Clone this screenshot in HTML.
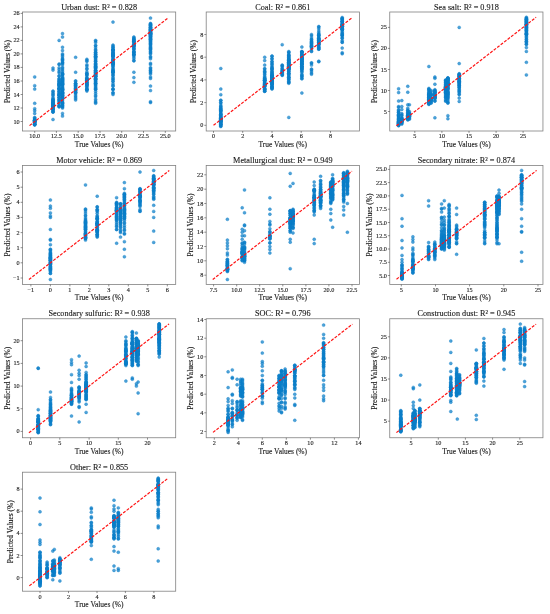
<!DOCTYPE html>
<html><head><meta charset="utf-8"><title>Predicted vs True</title>
<style>
html,body{margin:0;padding:0;background:#fff}
svg{display:block}
text{font-family:"Liberation Serif","DejaVu Serif",serif;fill:#1a1a1a}
text{stroke:#1a1a1a;stroke-width:.12px}
.t{font-size:8.1px;text-anchor:middle}
.l{font-size:7.2px;text-anchor:middle}
.k{font-size:6.2px;stroke-width:.12px}
.p circle{fill:#0a7ec8;fill-opacity:.72;stroke:#0a7ec8;stroke-opacity:.72;stroke-width:.5}
.s{fill:none;stroke:#808080;stroke-width:.8}
.tk{stroke:#444;stroke-width:.6}
.d{stroke:#ff1414;stroke-width:1.2;stroke-dasharray:3 1.4;fill:none}
</style></head><body>
<svg width="550" height="614" viewBox="0 0 550 614">
<rect width="550" height="614" fill="#fff"/>
<g>
<g class="p"><circle cx="34.7" cy="124.9" r="1.5"/><circle cx="34.7" cy="117.5" r="1.5"/><circle cx="34.7" cy="124.7" r="1.5"/><circle cx="34.7" cy="124.1" r="1.5"/><circle cx="34.7" cy="122.9" r="1.5"/><circle cx="34.7" cy="122.6" r="1.5"/><circle cx="34.7" cy="121.5" r="1.5"/><circle cx="34.7" cy="120.9" r="1.5"/><circle cx="34.7" cy="120.4" r="1.5"/><circle cx="34.7" cy="119.3" r="1.5"/><circle cx="34.7" cy="118.9" r="1.5"/><circle cx="34.7" cy="117.9" r="1.5"/><circle cx="34.7" cy="120.9" r="1.5"/><circle cx="34.7" cy="121.2" r="1.5"/><circle cx="34.7" cy="124.2" r="1.5"/><circle cx="34.7" cy="120.2" r="1.5"/><circle cx="34.7" cy="120.7" r="1.5"/><circle cx="34.7" cy="120.7" r="1.5"/><circle cx="34.7" cy="124.3" r="1.5"/><circle cx="34.7" cy="124.4" r="1.5"/><circle cx="34.7" cy="123" r="1.5"/><circle cx="34.7" cy="122.3" r="1.5"/><circle cx="34.7" cy="121" r="1.5"/><circle cx="34.7" cy="121.6" r="1.5"/><circle cx="34.7" cy="120.7" r="1.5"/><circle cx="34.7" cy="113.4" r="1.5"/><circle cx="34.7" cy="110.7" r="1.5"/><circle cx="34.7" cy="108.7" r="1.5"/><circle cx="34.7" cy="103.3" r="1.5"/><circle cx="34.7" cy="89.1" r="1.5"/><circle cx="34.7" cy="85.7" r="1.5"/><circle cx="34.7" cy="76.9" r="1.5"/><circle cx="53" cy="112.1" r="1.5"/><circle cx="53" cy="91.1" r="1.5"/><circle cx="53" cy="111.9" r="1.5"/><circle cx="53" cy="110.6" r="1.5"/><circle cx="53" cy="109" r="1.5"/><circle cx="53" cy="107.1" r="1.5"/><circle cx="53" cy="106.6" r="1.5"/><circle cx="53" cy="104.8" r="1.5"/><circle cx="53" cy="103.4" r="1.5"/><circle cx="53" cy="102.4" r="1.5"/><circle cx="53" cy="100.9" r="1.5"/><circle cx="53" cy="100.2" r="1.5"/><circle cx="53" cy="98.9" r="1.5"/><circle cx="53" cy="97.4" r="1.5"/><circle cx="53" cy="95.5" r="1.5"/><circle cx="53" cy="94.5" r="1.5"/><circle cx="53" cy="93.3" r="1.5"/><circle cx="53" cy="91.7" r="1.5"/><circle cx="53" cy="108.7" r="1.5"/><circle cx="53" cy="109.5" r="1.5"/><circle cx="53" cy="104.7" r="1.5"/><circle cx="53" cy="103.8" r="1.5"/><circle cx="53" cy="105.6" r="1.5"/><circle cx="53" cy="99.8" r="1.5"/><circle cx="53" cy="107.2" r="1.5"/><circle cx="53" cy="106.3" r="1.5"/><circle cx="53" cy="109.5" r="1.5"/><circle cx="53" cy="103.5" r="1.5"/><circle cx="53" cy="106.1" r="1.5"/><circle cx="53" cy="102" r="1.5"/><circle cx="53" cy="102.7" r="1.5"/><circle cx="53" cy="101.5" r="1.5"/><circle cx="53" cy="99.2" r="1.5"/><circle cx="53" cy="104.1" r="1.5"/><circle cx="53" cy="105.2" r="1.5"/><circle cx="53" cy="111.7" r="1.5"/><circle cx="53" cy="103" r="1.5"/><circle cx="53" cy="108.6" r="1.5"/><circle cx="53" cy="119.5" r="1.5"/><circle cx="53" cy="70.1" r="1.5"/><circle cx="53" cy="68.1" r="1.5"/><circle cx="59.1" cy="106.7" r="1.5"/><circle cx="59.1" cy="64.1" r="1.5"/><circle cx="59.1" cy="105.3" r="1.5"/><circle cx="59.1" cy="103.6" r="1.5"/><circle cx="59.1" cy="101.7" r="1.5"/><circle cx="59.1" cy="100" r="1.5"/><circle cx="59.1" cy="97.3" r="1.5"/><circle cx="59.1" cy="95.1" r="1.5"/><circle cx="59.1" cy="94.1" r="1.5"/><circle cx="59.1" cy="91.8" r="1.5"/><circle cx="59.1" cy="91.1" r="1.5"/><circle cx="59.1" cy="87.9" r="1.5"/><circle cx="59.1" cy="86" r="1.5"/><circle cx="59.1" cy="83.4" r="1.5"/><circle cx="59.1" cy="81.8" r="1.5"/><circle cx="59.1" cy="80.9" r="1.5"/><circle cx="59.1" cy="78.8" r="1.5"/><circle cx="59.1" cy="76.3" r="1.5"/><circle cx="59.1" cy="75.6" r="1.5"/><circle cx="59.1" cy="72.8" r="1.5"/><circle cx="59.1" cy="71.5" r="1.5"/><circle cx="59.1" cy="69.6" r="1.5"/><circle cx="59.1" cy="67.8" r="1.5"/><circle cx="59.1" cy="64.5" r="1.5"/><circle cx="59.1" cy="89.1" r="1.5"/><circle cx="59.1" cy="88.8" r="1.5"/><circle cx="59.1" cy="82" r="1.5"/><circle cx="59.1" cy="85" r="1.5"/><circle cx="59.1" cy="89" r="1.5"/><circle cx="59.1" cy="99.7" r="1.5"/><circle cx="59.1" cy="86.1" r="1.5"/><circle cx="59.1" cy="95.6" r="1.5"/><circle cx="59.1" cy="84.4" r="1.5"/><circle cx="59.1" cy="106" r="1.5"/><circle cx="59.1" cy="79" r="1.5"/><circle cx="59.1" cy="88.8" r="1.5"/><circle cx="59.1" cy="95.3" r="1.5"/><circle cx="59.1" cy="90.9" r="1.5"/><circle cx="59.1" cy="87.9" r="1.5"/><circle cx="59.1" cy="92.8" r="1.5"/><circle cx="59.1" cy="83.3" r="1.5"/><circle cx="59.1" cy="100" r="1.5"/><circle cx="59.1" cy="97.7" r="1.5"/><circle cx="59.1" cy="84.2" r="1.5"/><circle cx="59.1" cy="93.6" r="1.5"/><circle cx="59.1" cy="102" r="1.5"/><circle cx="59.1" cy="85.1" r="1.5"/><circle cx="59.1" cy="80.3" r="1.5"/><circle cx="59.1" cy="98" r="1.5"/><circle cx="59.1" cy="106.7" r="1.5"/><circle cx="59.1" cy="95.1" r="1.5"/><circle cx="59.1" cy="40.4" r="1.5"/><circle cx="62.5" cy="108" r="1.5"/><circle cx="62.5" cy="53.9" r="1.5"/><circle cx="62.5" cy="107" r="1.5"/><circle cx="62.5" cy="106.4" r="1.5"/><circle cx="62.5" cy="103.7" r="1.5"/><circle cx="62.5" cy="102.3" r="1.5"/><circle cx="62.5" cy="100.7" r="1.5"/><circle cx="62.5" cy="99.3" r="1.5"/><circle cx="62.5" cy="98.4" r="1.5"/><circle cx="62.5" cy="96.9" r="1.5"/><circle cx="62.5" cy="95.8" r="1.5"/><circle cx="62.5" cy="93.5" r="1.5"/><circle cx="62.5" cy="92.9" r="1.5"/><circle cx="62.5" cy="91.4" r="1.5"/><circle cx="62.5" cy="89.7" r="1.5"/><circle cx="62.5" cy="88.2" r="1.5"/><circle cx="62.5" cy="86.5" r="1.5"/><circle cx="62.5" cy="85.4" r="1.5"/><circle cx="62.5" cy="84" r="1.5"/><circle cx="62.5" cy="82.2" r="1.5"/><circle cx="62.5" cy="80.8" r="1.5"/><circle cx="62.5" cy="78.9" r="1.5"/><circle cx="62.5" cy="77.9" r="1.5"/><circle cx="62.5" cy="75.1" r="1.5"/><circle cx="62.5" cy="74" r="1.5"/><circle cx="62.5" cy="73.2" r="1.5"/><circle cx="62.5" cy="71.6" r="1.5"/><circle cx="62.5" cy="69.9" r="1.5"/><circle cx="62.5" cy="68.4" r="1.5"/><circle cx="62.5" cy="67.3" r="1.5"/><circle cx="62.5" cy="64.7" r="1.5"/><circle cx="62.5" cy="62.9" r="1.5"/><circle cx="62.5" cy="62.2" r="1.5"/><circle cx="62.5" cy="60.7" r="1.5"/><circle cx="62.5" cy="59.8" r="1.5"/><circle cx="62.5" cy="58.3" r="1.5"/><circle cx="62.5" cy="56.4" r="1.5"/><circle cx="62.5" cy="55" r="1.5"/><circle cx="62.5" cy="88.5" r="1.5"/><circle cx="62.5" cy="97.9" r="1.5"/><circle cx="62.5" cy="63.2" r="1.5"/><circle cx="62.5" cy="87.6" r="1.5"/><circle cx="62.5" cy="98.3" r="1.5"/><circle cx="62.5" cy="93" r="1.5"/><circle cx="62.5" cy="94.4" r="1.5"/><circle cx="62.5" cy="92.5" r="1.5"/><circle cx="62.5" cy="97.5" r="1.5"/><circle cx="62.5" cy="79.9" r="1.5"/><circle cx="62.5" cy="105.5" r="1.5"/><circle cx="62.5" cy="92.6" r="1.5"/><circle cx="62.5" cy="80.6" r="1.5"/><circle cx="62.5" cy="81.7" r="1.5"/><circle cx="62.5" cy="74.3" r="1.5"/><circle cx="62.5" cy="95.9" r="1.5"/><circle cx="62.5" cy="95.8" r="1.5"/><circle cx="62.5" cy="84.5" r="1.5"/><circle cx="62.5" cy="78.9" r="1.5"/><circle cx="62.5" cy="79" r="1.5"/><circle cx="62.5" cy="83.8" r="1.5"/><circle cx="62.5" cy="89.7" r="1.5"/><circle cx="62.5" cy="77.7" r="1.5"/><circle cx="62.5" cy="93.5" r="1.5"/><circle cx="62.5" cy="89.5" r="1.5"/><circle cx="62.5" cy="82.4" r="1.5"/><circle cx="62.5" cy="90.1" r="1.5"/><circle cx="62.5" cy="92.8" r="1.5"/><circle cx="62.5" cy="73.8" r="1.5"/><circle cx="62.5" cy="79.5" r="1.5"/><circle cx="62.5" cy="95.2" r="1.5"/><circle cx="62.5" cy="59.5" r="1.5"/><circle cx="62.5" cy="105.3" r="1.5"/><circle cx="62.5" cy="81" r="1.5"/><circle cx="62.5" cy="94.9" r="1.5"/><circle cx="62.5" cy="90.2" r="1.5"/><circle cx="62.5" cy="83.5" r="1.5"/><circle cx="62.5" cy="89.2" r="1.5"/><circle cx="62.5" cy="84.3" r="1.5"/><circle cx="62.5" cy="84.6" r="1.5"/><circle cx="62.5" cy="103.1" r="1.5"/><circle cx="62.5" cy="103.9" r="1.5"/><circle cx="62.5" cy="76.9" r="1.5"/><circle cx="62.5" cy="83" r="1.5"/><circle cx="62.5" cy="74.5" r="1.5"/><circle cx="62.5" cy="102.8" r="1.5"/><circle cx="62.5" cy="116.1" r="1.5"/><circle cx="62.5" cy="113.4" r="1.5"/><circle cx="62.5" cy="47.2" r="1.5"/><circle cx="62.5" cy="37" r="1.5"/><circle cx="62.5" cy="33.6" r="1.5"/><circle cx="62.5" cy="50.5" r="1.5"/><circle cx="75.6" cy="99.9" r="1.5"/><circle cx="75.6" cy="81" r="1.5"/><circle cx="75.6" cy="98.5" r="1.5"/><circle cx="75.6" cy="97.1" r="1.5"/><circle cx="75.6" cy="95.8" r="1.5"/><circle cx="75.6" cy="92.7" r="1.5"/><circle cx="75.6" cy="91.7" r="1.5"/><circle cx="75.6" cy="88.9" r="1.5"/><circle cx="75.6" cy="86.7" r="1.5"/><circle cx="75.6" cy="85.9" r="1.5"/><circle cx="75.6" cy="84" r="1.5"/><circle cx="75.6" cy="81.1" r="1.5"/><circle cx="75.6" cy="90.2" r="1.5"/><circle cx="75.6" cy="92.2" r="1.5"/><circle cx="75.6" cy="88.1" r="1.5"/><circle cx="75.6" cy="88.1" r="1.5"/><circle cx="75.6" cy="83.6" r="1.5"/><circle cx="75.6" cy="94" r="1.5"/><circle cx="75.6" cy="85.1" r="1.5"/><circle cx="75.6" cy="83.6" r="1.5"/><circle cx="75.6" cy="83.8" r="1.5"/><circle cx="75.6" cy="90.5" r="1.5"/><circle cx="75.6" cy="92.8" r="1.5"/><circle cx="75.6" cy="85.6" r="1.5"/><circle cx="75.6" cy="89.3" r="1.5"/><circle cx="75.6" cy="72.2" r="1.5"/><circle cx="75.6" cy="57.3" r="1.5"/><circle cx="86.9" cy="91.1" r="1.5"/><circle cx="86.9" cy="59.3" r="1.5"/><circle cx="86.9" cy="89.3" r="1.5"/><circle cx="86.9" cy="88" r="1.5"/><circle cx="86.9" cy="86.4" r="1.5"/><circle cx="86.9" cy="83.8" r="1.5"/><circle cx="86.9" cy="82.8" r="1.5"/><circle cx="86.9" cy="80.1" r="1.5"/><circle cx="86.9" cy="78.3" r="1.5"/><circle cx="86.9" cy="77.6" r="1.5"/><circle cx="86.9" cy="75.7" r="1.5"/><circle cx="86.9" cy="73.7" r="1.5"/><circle cx="86.9" cy="72" r="1.5"/><circle cx="86.9" cy="69.4" r="1.5"/><circle cx="86.9" cy="68.2" r="1.5"/><circle cx="86.9" cy="66" r="1.5"/><circle cx="86.9" cy="64.7" r="1.5"/><circle cx="86.9" cy="61.4" r="1.5"/><circle cx="86.9" cy="60.5" r="1.5"/><circle cx="86.9" cy="80.1" r="1.5"/><circle cx="86.9" cy="89.8" r="1.5"/><circle cx="86.9" cy="78.6" r="1.5"/><circle cx="86.9" cy="75" r="1.5"/><circle cx="86.9" cy="85" r="1.5"/><circle cx="86.9" cy="73.9" r="1.5"/><circle cx="86.9" cy="85" r="1.5"/><circle cx="86.9" cy="89.2" r="1.5"/><circle cx="86.9" cy="82.6" r="1.5"/><circle cx="86.9" cy="73.6" r="1.5"/><circle cx="86.9" cy="80.1" r="1.5"/><circle cx="86.9" cy="80.7" r="1.5"/><circle cx="86.9" cy="80.4" r="1.5"/><circle cx="86.9" cy="79.7" r="1.5"/><circle cx="86.9" cy="85" r="1.5"/><circle cx="86.9" cy="79.1" r="1.5"/><circle cx="86.9" cy="86.7" r="1.5"/><circle cx="86.9" cy="83.1" r="1.5"/><circle cx="86.9" cy="89.7" r="1.5"/><circle cx="86.9" cy="82" r="1.5"/><circle cx="86.9" cy="80.3" r="1.5"/><circle cx="86.9" cy="84.2" r="1.5"/><circle cx="95.6" cy="103.3" r="1.5"/><circle cx="95.6" cy="40.4" r="1.5"/><circle cx="95.6" cy="102.3" r="1.5"/><circle cx="95.6" cy="101.1" r="1.5"/><circle cx="95.6" cy="99.3" r="1.5"/><circle cx="95.6" cy="96.7" r="1.5"/><circle cx="95.6" cy="95.4" r="1.5"/><circle cx="95.6" cy="93.6" r="1.5"/><circle cx="95.6" cy="91.5" r="1.5"/><circle cx="95.6" cy="89.5" r="1.5"/><circle cx="95.6" cy="88.5" r="1.5"/><circle cx="95.6" cy="86.5" r="1.5"/><circle cx="95.6" cy="84.9" r="1.5"/><circle cx="95.6" cy="83.2" r="1.5"/><circle cx="95.6" cy="81.1" r="1.5"/><circle cx="95.6" cy="79.8" r="1.5"/><circle cx="95.6" cy="77.9" r="1.5"/><circle cx="95.6" cy="76.2" r="1.5"/><circle cx="95.6" cy="73.7" r="1.5"/><circle cx="95.6" cy="72.4" r="1.5"/><circle cx="95.6" cy="70.3" r="1.5"/><circle cx="95.6" cy="68.4" r="1.5"/><circle cx="95.6" cy="67.9" r="1.5"/><circle cx="95.6" cy="65.6" r="1.5"/><circle cx="95.6" cy="63.2" r="1.5"/><circle cx="95.6" cy="61.6" r="1.5"/><circle cx="95.6" cy="61.1" r="1.5"/><circle cx="95.6" cy="59.4" r="1.5"/><circle cx="95.6" cy="57.1" r="1.5"/><circle cx="95.6" cy="56" r="1.5"/><circle cx="95.6" cy="54" r="1.5"/><circle cx="95.6" cy="52.5" r="1.5"/><circle cx="95.6" cy="49.7" r="1.5"/><circle cx="95.6" cy="47.8" r="1.5"/><circle cx="95.6" cy="45.8" r="1.5"/><circle cx="95.6" cy="45.4" r="1.5"/><circle cx="95.6" cy="42.6" r="1.5"/><circle cx="95.6" cy="41" r="1.5"/><circle cx="95.6" cy="56.6" r="1.5"/><circle cx="95.6" cy="52.1" r="1.5"/><circle cx="95.6" cy="64.8" r="1.5"/><circle cx="95.6" cy="76.2" r="1.5"/><circle cx="95.6" cy="61" r="1.5"/><circle cx="95.6" cy="78.3" r="1.5"/><circle cx="95.6" cy="70.9" r="1.5"/><circle cx="95.6" cy="70.2" r="1.5"/><circle cx="95.6" cy="81.3" r="1.5"/><circle cx="95.6" cy="89.2" r="1.5"/><circle cx="95.6" cy="67.3" r="1.5"/><circle cx="95.6" cy="79" r="1.5"/><circle cx="95.6" cy="66.6" r="1.5"/><circle cx="95.6" cy="83.3" r="1.5"/><circle cx="95.6" cy="54.3" r="1.5"/><circle cx="95.6" cy="57" r="1.5"/><circle cx="95.6" cy="72.1" r="1.5"/><circle cx="95.6" cy="76.6" r="1.5"/><circle cx="95.6" cy="73.3" r="1.5"/><circle cx="95.6" cy="83.6" r="1.5"/><circle cx="95.6" cy="57.5" r="1.5"/><circle cx="95.6" cy="79.2" r="1.5"/><circle cx="95.6" cy="74.6" r="1.5"/><circle cx="95.6" cy="50.2" r="1.5"/><circle cx="95.6" cy="76.5" r="1.5"/><circle cx="95.6" cy="67.9" r="1.5"/><circle cx="95.6" cy="75.3" r="1.5"/><circle cx="95.6" cy="74.6" r="1.5"/><circle cx="95.6" cy="70.3" r="1.5"/><circle cx="95.6" cy="72.2" r="1.5"/><circle cx="95.6" cy="84.9" r="1.5"/><circle cx="95.6" cy="64.4" r="1.5"/><circle cx="95.6" cy="63.8" r="1.5"/><circle cx="95.6" cy="52.7" r="1.5"/><circle cx="95.6" cy="87.6" r="1.5"/><circle cx="95.6" cy="74.6" r="1.5"/><circle cx="95.6" cy="66.4" r="1.5"/><circle cx="95.6" cy="58.7" r="1.5"/><circle cx="95.6" cy="82.8" r="1.5"/><circle cx="95.6" cy="76" r="1.5"/><circle cx="95.6" cy="79.8" r="1.5"/><circle cx="95.6" cy="54.7" r="1.5"/><circle cx="95.6" cy="66.8" r="1.5"/><circle cx="95.6" cy="78.9" r="1.5"/><circle cx="95.6" cy="71.8" r="1.5"/><circle cx="95.6" cy="56.2" r="1.5"/><circle cx="113" cy="94.5" r="1.5"/><circle cx="113" cy="45.1" r="1.5"/><circle cx="113" cy="93.1" r="1.5"/><circle cx="113" cy="92.6" r="1.5"/><circle cx="113" cy="89.6" r="1.5"/><circle cx="113" cy="89.3" r="1.5"/><circle cx="113" cy="86.2" r="1.5"/><circle cx="113" cy="85.2" r="1.5"/><circle cx="113" cy="83.7" r="1.5"/><circle cx="113" cy="81.6" r="1.5"/><circle cx="113" cy="79.3" r="1.5"/><circle cx="113" cy="78.7" r="1.5"/><circle cx="113" cy="77.2" r="1.5"/><circle cx="113" cy="74.9" r="1.5"/><circle cx="113" cy="73.7" r="1.5"/><circle cx="113" cy="72.2" r="1.5"/><circle cx="113" cy="70.4" r="1.5"/><circle cx="113" cy="68.9" r="1.5"/><circle cx="113" cy="66.9" r="1.5"/><circle cx="113" cy="65" r="1.5"/><circle cx="113" cy="63.3" r="1.5"/><circle cx="113" cy="60.9" r="1.5"/><circle cx="113" cy="60" r="1.5"/><circle cx="113" cy="57.9" r="1.5"/><circle cx="113" cy="56.7" r="1.5"/><circle cx="113" cy="54.8" r="1.5"/><circle cx="113" cy="53.6" r="1.5"/><circle cx="113" cy="51.5" r="1.5"/><circle cx="113" cy="50.2" r="1.5"/><circle cx="113" cy="47.3" r="1.5"/><circle cx="113" cy="45.9" r="1.5"/><circle cx="113" cy="66.4" r="1.5"/><circle cx="113" cy="56.2" r="1.5"/><circle cx="113" cy="49.4" r="1.5"/><circle cx="113" cy="56" r="1.5"/><circle cx="113" cy="62.7" r="1.5"/><circle cx="113" cy="55.9" r="1.5"/><circle cx="113" cy="71" r="1.5"/><circle cx="113" cy="81" r="1.5"/><circle cx="113" cy="60" r="1.5"/><circle cx="113" cy="70.7" r="1.5"/><circle cx="113" cy="52.7" r="1.5"/><circle cx="113" cy="72.3" r="1.5"/><circle cx="113" cy="88.9" r="1.5"/><circle cx="113" cy="71.8" r="1.5"/><circle cx="113" cy="64.8" r="1.5"/><circle cx="113" cy="75.4" r="1.5"/><circle cx="113" cy="68.9" r="1.5"/><circle cx="113" cy="55.1" r="1.5"/><circle cx="113" cy="55.4" r="1.5"/><circle cx="113" cy="58.8" r="1.5"/><circle cx="113" cy="53.1" r="1.5"/><circle cx="113" cy="60.9" r="1.5"/><circle cx="113" cy="54.3" r="1.5"/><circle cx="113" cy="50.3" r="1.5"/><circle cx="113" cy="49.7" r="1.5"/><circle cx="113" cy="72.3" r="1.5"/><circle cx="113" cy="62.3" r="1.5"/><circle cx="113" cy="52.9" r="1.5"/><circle cx="113" cy="63.9" r="1.5"/><circle cx="113" cy="49.2" r="1.5"/><circle cx="113" cy="54.3" r="1.5"/><circle cx="113" cy="50.9" r="1.5"/><circle cx="113" cy="63" r="1.5"/><circle cx="113" cy="47.4" r="1.5"/><circle cx="113" cy="63" r="1.5"/><circle cx="113" cy="59.7" r="1.5"/><circle cx="113" cy="64.4" r="1.5"/><circle cx="113" cy="22.1" r="1.5"/><circle cx="133.9" cy="60.7" r="1.5"/><circle cx="133.9" cy="37" r="1.5"/><circle cx="133.9" cy="60.7" r="1.5"/><circle cx="133.9" cy="58.6" r="1.5"/><circle cx="133.9" cy="57" r="1.5"/><circle cx="133.9" cy="55.5" r="1.5"/><circle cx="133.9" cy="54.5" r="1.5"/><circle cx="133.9" cy="52.5" r="1.5"/><circle cx="133.9" cy="51.8" r="1.5"/><circle cx="133.9" cy="49.9" r="1.5"/><circle cx="133.9" cy="48.7" r="1.5"/><circle cx="133.9" cy="46.8" r="1.5"/><circle cx="133.9" cy="45.8" r="1.5"/><circle cx="133.9" cy="44.4" r="1.5"/><circle cx="133.9" cy="42.5" r="1.5"/><circle cx="133.9" cy="41.1" r="1.5"/><circle cx="133.9" cy="39.1" r="1.5"/><circle cx="133.9" cy="37.7" r="1.5"/><circle cx="133.9" cy="40" r="1.5"/><circle cx="133.9" cy="44.4" r="1.5"/><circle cx="133.9" cy="52" r="1.5"/><circle cx="133.9" cy="46.7" r="1.5"/><circle cx="133.9" cy="54.8" r="1.5"/><circle cx="133.9" cy="48" r="1.5"/><circle cx="133.9" cy="41.5" r="1.5"/><circle cx="133.9" cy="41.5" r="1.5"/><circle cx="133.9" cy="44.7" r="1.5"/><circle cx="133.9" cy="45.6" r="1.5"/><circle cx="133.9" cy="51.7" r="1.5"/><circle cx="133.9" cy="41.8" r="1.5"/><circle cx="133.9" cy="38.8" r="1.5"/><circle cx="133.9" cy="49" r="1.5"/><circle cx="133.9" cy="45.4" r="1.5"/><circle cx="133.9" cy="53.8" r="1.5"/><circle cx="133.9" cy="40.4" r="1.5"/><circle cx="133.9" cy="39.6" r="1.5"/><circle cx="133.9" cy="54.2" r="1.5"/><circle cx="133.9" cy="44.7" r="1.5"/><circle cx="133.9" cy="82.3" r="1.5"/><circle cx="133.9" cy="77.6" r="1.5"/><circle cx="133.9" cy="72.2" r="1.5"/><circle cx="150.5" cy="53.9" r="1.5"/><circle cx="150.5" cy="23.5" r="1.5"/><circle cx="150.5" cy="53.1" r="1.5"/><circle cx="150.5" cy="52" r="1.5"/><circle cx="150.5" cy="51.2" r="1.5"/><circle cx="150.5" cy="49.8" r="1.5"/><circle cx="150.5" cy="49" r="1.5"/><circle cx="150.5" cy="47.9" r="1.5"/><circle cx="150.5" cy="47.4" r="1.5"/><circle cx="150.5" cy="46.5" r="1.5"/><circle cx="150.5" cy="45.4" r="1.5"/><circle cx="150.5" cy="44.1" r="1.5"/><circle cx="150.5" cy="43.3" r="1.5"/><circle cx="150.5" cy="41.5" r="1.5"/><circle cx="150.5" cy="40.7" r="1.5"/><circle cx="150.5" cy="39.6" r="1.5"/><circle cx="150.5" cy="38.6" r="1.5"/><circle cx="150.5" cy="37.5" r="1.5"/><circle cx="150.5" cy="36.6" r="1.5"/><circle cx="150.5" cy="36.1" r="1.5"/><circle cx="150.5" cy="34.2" r="1.5"/><circle cx="150.5" cy="33.2" r="1.5"/><circle cx="150.5" cy="32.4" r="1.5"/><circle cx="150.5" cy="31.3" r="1.5"/><circle cx="150.5" cy="30.1" r="1.5"/><circle cx="150.5" cy="29.7" r="1.5"/><circle cx="150.5" cy="28" r="1.5"/><circle cx="150.5" cy="27.4" r="1.5"/><circle cx="150.5" cy="26.6" r="1.5"/><circle cx="150.5" cy="25.3" r="1.5"/><circle cx="150.5" cy="23.8" r="1.5"/><circle cx="150.5" cy="29.6" r="1.5"/><circle cx="150.5" cy="25" r="1.5"/><circle cx="150.5" cy="33.8" r="1.5"/><circle cx="150.5" cy="38.2" r="1.5"/><circle cx="150.5" cy="27.5" r="1.5"/><circle cx="150.5" cy="37.2" r="1.5"/><circle cx="150.5" cy="42.9" r="1.5"/><circle cx="150.5" cy="39.7" r="1.5"/><circle cx="150.5" cy="39" r="1.5"/><circle cx="150.5" cy="29.3" r="1.5"/><circle cx="150.5" cy="30.9" r="1.5"/><circle cx="150.5" cy="32.9" r="1.5"/><circle cx="150.5" cy="35.5" r="1.5"/><circle cx="150.5" cy="24.6" r="1.5"/><circle cx="150.5" cy="30.3" r="1.5"/><circle cx="150.5" cy="32.4" r="1.5"/><circle cx="150.5" cy="33.8" r="1.5"/><circle cx="150.5" cy="36.1" r="1.5"/><circle cx="150.5" cy="41.9" r="1.5"/><circle cx="150.5" cy="34.6" r="1.5"/><circle cx="150.5" cy="24.9" r="1.5"/><circle cx="150.5" cy="39.9" r="1.5"/><circle cx="150.5" cy="31" r="1.5"/><circle cx="150.5" cy="26.9" r="1.5"/><circle cx="150.5" cy="31.5" r="1.5"/><circle cx="150.5" cy="33.1" r="1.5"/><circle cx="150.5" cy="44.5" r="1.5"/><circle cx="150.5" cy="29.5" r="1.5"/><circle cx="150.5" cy="25.5" r="1.5"/><circle cx="150.5" cy="34.1" r="1.5"/><circle cx="150.5" cy="33.2" r="1.5"/><circle cx="150.5" cy="28.1" r="1.5"/><circle cx="150.5" cy="28.3" r="1.5"/><circle cx="150.5" cy="34.1" r="1.5"/><circle cx="150.5" cy="35.8" r="1.5"/><circle cx="150.5" cy="34.4" r="1.5"/><circle cx="150.5" cy="48.8" r="1.5"/><circle cx="150.5" cy="102.6" r="1.5"/><circle cx="150.5" cy="56.6" r="1.5"/><circle cx="150.5" cy="101.7" r="1.5"/><circle cx="150.5" cy="90.6" r="1.5"/><circle cx="150.5" cy="86.1" r="1.5"/><circle cx="150.5" cy="77.1" r="1.5"/><circle cx="150.5" cy="71.7" r="1.5"/><circle cx="150.5" cy="68.2" r="1.5"/><circle cx="150.5" cy="57.3" r="1.5"/><circle cx="150.5" cy="74.1" r="1.5"/><circle cx="150.5" cy="72.7" r="1.5"/><circle cx="150.5" cy="70.2" r="1.5"/><circle cx="150.5" cy="58.8" r="1.5"/><circle cx="150.5" cy="70.2" r="1.5"/><circle cx="150.5" cy="78.5" r="1.5"/><circle cx="150.5" cy="67.8" r="1.5"/><circle cx="150.5" cy="64.6" r="1.5"/><circle cx="150.5" cy="63.3" r="1.5"/><circle cx="150.5" cy="18.1" r="1.5"/></g>
<path class="d" d="M29.5 125.6L167.9 18.1"/>
<rect class="s" x="22.5" y="12.0" width="153.2" height="119.0"/>
<path class="tk" d="M34.7 131v1.9M56.4 131v1.9M78.2 131v1.9M100 131v1.9M121.7 131v1.9M143.5 131v1.9M165.3 131v1.9M22.5 121.5h-1.9M22.5 108h-1.9M22.5 94.5h-1.9M22.5 81h-1.9M22.5 67.4h-1.9M22.5 53.9h-1.9M22.5 40.4h-1.9M22.5 26.9h-1.9M22.5 13.4h-1.9"/>
<text class="k" text-anchor="middle" x="34.7" y="138.4">10.0</text>
<text class="k" text-anchor="middle" x="56.4" y="138.4">12.5</text>
<text class="k" text-anchor="middle" x="78.2" y="138.4">15.0</text>
<text class="k" text-anchor="middle" x="100" y="138.4">17.5</text>
<text class="k" text-anchor="middle" x="121.7" y="138.4">20.0</text>
<text class="k" text-anchor="middle" x="143.5" y="138.4">22.5</text>
<text class="k" text-anchor="middle" x="165.3" y="138.4">25.0</text>
<text class="k" text-anchor="end" x="19.6" y="123.5">10</text>
<text class="k" text-anchor="end" x="19.6" y="110">12</text>
<text class="k" text-anchor="end" x="19.6" y="96.5">14</text>
<text class="k" text-anchor="end" x="19.6" y="83">16</text>
<text class="k" text-anchor="end" x="19.6" y="69.4">18</text>
<text class="k" text-anchor="end" x="19.6" y="55.9">20</text>
<text class="k" text-anchor="end" x="19.6" y="42.4">22</text>
<text class="k" text-anchor="end" x="19.6" y="28.9">24</text>
<text class="k" text-anchor="end" x="19.6" y="15.4">26</text>
<text class="t" transform="translate(99.1 9.7) scale(1.016 1)">Urban dust: R² = 0.828</text>
<text class="l" transform="translate(99.1 146.8) scale(1.04 1)">True Values (%)</text>
<text class="l" transform="translate(9.6 71.5) rotate(-90) scale(1.04 1)">Predicted Values (%)</text>
</g>
<g>
<g class="p"><circle cx="220.8" cy="126.5" r="1.5"/><circle cx="220.8" cy="100.3" r="1.5"/><circle cx="220.8" cy="126.1" r="1.5"/><circle cx="220.8" cy="124.3" r="1.5"/><circle cx="220.8" cy="124.1" r="1.5"/><circle cx="220.8" cy="122" r="1.5"/><circle cx="220.8" cy="120.7" r="1.5"/><circle cx="220.8" cy="120.4" r="1.5"/><circle cx="220.8" cy="118.2" r="1.5"/><circle cx="220.8" cy="117.3" r="1.5"/><circle cx="220.8" cy="115.9" r="1.5"/><circle cx="220.8" cy="115.4" r="1.5"/><circle cx="220.8" cy="114.1" r="1.5"/><circle cx="220.8" cy="112.9" r="1.5"/><circle cx="220.8" cy="111" r="1.5"/><circle cx="220.8" cy="110.3" r="1.5"/><circle cx="220.8" cy="109.4" r="1.5"/><circle cx="220.8" cy="108.1" r="1.5"/><circle cx="220.8" cy="107.1" r="1.5"/><circle cx="220.8" cy="106.2" r="1.5"/><circle cx="220.8" cy="105" r="1.5"/><circle cx="220.8" cy="102.9" r="1.5"/><circle cx="220.8" cy="102.4" r="1.5"/><circle cx="220.8" cy="100.4" r="1.5"/><circle cx="220.8" cy="118.6" r="1.5"/><circle cx="220.8" cy="114.2" r="1.5"/><circle cx="220.8" cy="122.3" r="1.5"/><circle cx="220.8" cy="118.9" r="1.5"/><circle cx="220.8" cy="108.5" r="1.5"/><circle cx="220.8" cy="110.9" r="1.5"/><circle cx="220.8" cy="125.5" r="1.5"/><circle cx="220.8" cy="111.9" r="1.5"/><circle cx="220.8" cy="121.2" r="1.5"/><circle cx="220.8" cy="119" r="1.5"/><circle cx="220.8" cy="120.4" r="1.5"/><circle cx="220.8" cy="119.3" r="1.5"/><circle cx="220.8" cy="124.8" r="1.5"/><circle cx="220.8" cy="118.5" r="1.5"/><circle cx="220.8" cy="119" r="1.5"/><circle cx="220.8" cy="116.9" r="1.5"/><circle cx="220.8" cy="116" r="1.5"/><circle cx="220.8" cy="119.9" r="1.5"/><circle cx="220.8" cy="123.8" r="1.5"/><circle cx="220.8" cy="117.7" r="1.5"/><circle cx="220.8" cy="121.4" r="1.5"/><circle cx="220.8" cy="109.7" r="1.5"/><circle cx="220.8" cy="114.3" r="1.5"/><circle cx="220.8" cy="119.3" r="1.5"/><circle cx="220.8" cy="121.3" r="1.5"/><circle cx="220.8" cy="122.6" r="1.5"/><circle cx="220.8" cy="123.9" r="1.5"/><circle cx="220.8" cy="94.7" r="1.5"/><circle cx="220.8" cy="89" r="1.5"/><circle cx="220.8" cy="68.5" r="1.5"/><circle cx="264.7" cy="91.3" r="1.5"/><circle cx="264.7" cy="68.5" r="1.5"/><circle cx="264.7" cy="91" r="1.5"/><circle cx="264.7" cy="89.7" r="1.5"/><circle cx="264.7" cy="88.3" r="1.5"/><circle cx="264.7" cy="86" r="1.5"/><circle cx="264.7" cy="85.3" r="1.5"/><circle cx="264.7" cy="84.3" r="1.5"/><circle cx="264.7" cy="82" r="1.5"/><circle cx="264.7" cy="80.6" r="1.5"/><circle cx="264.7" cy="80" r="1.5"/><circle cx="264.7" cy="79" r="1.5"/><circle cx="264.7" cy="77.6" r="1.5"/><circle cx="264.7" cy="76.4" r="1.5"/><circle cx="264.7" cy="74.8" r="1.5"/><circle cx="264.7" cy="73.8" r="1.5"/><circle cx="264.7" cy="72.2" r="1.5"/><circle cx="264.7" cy="70.9" r="1.5"/><circle cx="264.7" cy="69.1" r="1.5"/><circle cx="264.7" cy="86.2" r="1.5"/><circle cx="264.7" cy="78.2" r="1.5"/><circle cx="264.7" cy="89.8" r="1.5"/><circle cx="264.7" cy="88.8" r="1.5"/><circle cx="264.7" cy="81.8" r="1.5"/><circle cx="264.7" cy="89.2" r="1.5"/><circle cx="264.7" cy="85.2" r="1.5"/><circle cx="264.7" cy="85.4" r="1.5"/><circle cx="264.7" cy="82.9" r="1.5"/><circle cx="264.7" cy="86.7" r="1.5"/><circle cx="264.7" cy="71.7" r="1.5"/><circle cx="264.7" cy="80.3" r="1.5"/><circle cx="264.7" cy="80.3" r="1.5"/><circle cx="264.7" cy="91.2" r="1.5"/><circle cx="264.7" cy="83.6" r="1.5"/><circle cx="264.7" cy="80.6" r="1.5"/><circle cx="264.7" cy="84.4" r="1.5"/><circle cx="264.7" cy="79.5" r="1.5"/><circle cx="264.7" cy="80.4" r="1.5"/><circle cx="264.7" cy="78.6" r="1.5"/><circle cx="264.7" cy="83.2" r="1.5"/><circle cx="264.7" cy="84.3" r="1.5"/><circle cx="264.7" cy="65.1" r="1.5"/><circle cx="264.7" cy="60.6" r="1.5"/><circle cx="264.7" cy="57.2" r="1.5"/><circle cx="272" cy="89" r="1.5"/><circle cx="272" cy="56.1" r="1.5"/><circle cx="272" cy="88.1" r="1.5"/><circle cx="272" cy="86.5" r="1.5"/><circle cx="272" cy="85.7" r="1.5"/><circle cx="272" cy="84.3" r="1.5"/><circle cx="272" cy="83.7" r="1.5"/><circle cx="272" cy="81.9" r="1.5"/><circle cx="272" cy="79.9" r="1.5"/><circle cx="272" cy="78.7" r="1.5"/><circle cx="272" cy="77.3" r="1.5"/><circle cx="272" cy="75.9" r="1.5"/><circle cx="272" cy="75.5" r="1.5"/><circle cx="272" cy="74.4" r="1.5"/><circle cx="272" cy="73" r="1.5"/><circle cx="272" cy="71.2" r="1.5"/><circle cx="272" cy="69.6" r="1.5"/><circle cx="272" cy="68" r="1.5"/><circle cx="272" cy="67" r="1.5"/><circle cx="272" cy="65.7" r="1.5"/><circle cx="272" cy="64.3" r="1.5"/><circle cx="272" cy="63.4" r="1.5"/><circle cx="272" cy="61.9" r="1.5"/><circle cx="272" cy="61.3" r="1.5"/><circle cx="272" cy="59" r="1.5"/><circle cx="272" cy="58.4" r="1.5"/><circle cx="272" cy="56.2" r="1.5"/><circle cx="272" cy="82.8" r="1.5"/><circle cx="272" cy="83.9" r="1.5"/><circle cx="272" cy="75.3" r="1.5"/><circle cx="272" cy="75.2" r="1.5"/><circle cx="272" cy="86.4" r="1.5"/><circle cx="272" cy="87.5" r="1.5"/><circle cx="272" cy="77" r="1.5"/><circle cx="272" cy="77.3" r="1.5"/><circle cx="272" cy="88.5" r="1.5"/><circle cx="272" cy="80.6" r="1.5"/><circle cx="272" cy="83" r="1.5"/><circle cx="272" cy="75.8" r="1.5"/><circle cx="272" cy="79.9" r="1.5"/><circle cx="272" cy="79.7" r="1.5"/><circle cx="272" cy="81.6" r="1.5"/><circle cx="272" cy="71.6" r="1.5"/><circle cx="272" cy="69.2" r="1.5"/><circle cx="272" cy="81.7" r="1.5"/><circle cx="272" cy="73.1" r="1.5"/><circle cx="272" cy="84.5" r="1.5"/><circle cx="272" cy="78.6" r="1.5"/><circle cx="272" cy="73.7" r="1.5"/><circle cx="272" cy="68.3" r="1.5"/><circle cx="272" cy="81.8" r="1.5"/><circle cx="272" cy="79.6" r="1.5"/><circle cx="272" cy="77.7" r="1.5"/><circle cx="272" cy="79" r="1.5"/><circle cx="272" cy="83.9" r="1.5"/><circle cx="272" cy="76.4" r="1.5"/><circle cx="272" cy="87.2" r="1.5"/><circle cx="272" cy="78.8" r="1.5"/><circle cx="282.2" cy="75.4" r="1.5"/><circle cx="282.2" cy="65.1" r="1.5"/><circle cx="282.2" cy="74.7" r="1.5"/><circle cx="282.2" cy="72.5" r="1.5"/><circle cx="282.2" cy="69.9" r="1.5"/><circle cx="282.2" cy="68.8" r="1.5"/><circle cx="282.2" cy="65.6" r="1.5"/><circle cx="282.2" cy="71.4" r="1.5"/><circle cx="282.2" cy="72.1" r="1.5"/><circle cx="282.2" cy="74.6" r="1.5"/><circle cx="282.2" cy="70.3" r="1.5"/><circle cx="282.2" cy="66.3" r="1.5"/><circle cx="282.2" cy="73.5" r="1.5"/><circle cx="282.2" cy="68.1" r="1.5"/><circle cx="282.2" cy="71.8" r="1.5"/><circle cx="282.2" cy="44.7" r="1.5"/><circle cx="288.8" cy="83.3" r="1.5"/><circle cx="288.8" cy="51.5" r="1.5"/><circle cx="288.8" cy="82.5" r="1.5"/><circle cx="288.8" cy="81.9" r="1.5"/><circle cx="288.8" cy="80.1" r="1.5"/><circle cx="288.8" cy="79.5" r="1.5"/><circle cx="288.8" cy="78.7" r="1.5"/><circle cx="288.8" cy="77.6" r="1.5"/><circle cx="288.8" cy="76.3" r="1.5"/><circle cx="288.8" cy="74.9" r="1.5"/><circle cx="288.8" cy="73.5" r="1.5"/><circle cx="288.8" cy="73.3" r="1.5"/><circle cx="288.8" cy="71.9" r="1.5"/><circle cx="288.8" cy="71" r="1.5"/><circle cx="288.8" cy="69.1" r="1.5"/><circle cx="288.8" cy="68.9" r="1.5"/><circle cx="288.8" cy="67.9" r="1.5"/><circle cx="288.8" cy="66.8" r="1.5"/><circle cx="288.8" cy="65.3" r="1.5"/><circle cx="288.8" cy="63.7" r="1.5"/><circle cx="288.8" cy="62.6" r="1.5"/><circle cx="288.8" cy="61.7" r="1.5"/><circle cx="288.8" cy="60.3" r="1.5"/><circle cx="288.8" cy="59.3" r="1.5"/><circle cx="288.8" cy="58.8" r="1.5"/><circle cx="288.8" cy="57.9" r="1.5"/><circle cx="288.8" cy="56" r="1.5"/><circle cx="288.8" cy="55.1" r="1.5"/><circle cx="288.8" cy="54.8" r="1.5"/><circle cx="288.8" cy="53" r="1.5"/><circle cx="288.8" cy="52.2" r="1.5"/><circle cx="288.8" cy="62" r="1.5"/><circle cx="288.8" cy="71.2" r="1.5"/><circle cx="288.8" cy="62.4" r="1.5"/><circle cx="288.8" cy="66.6" r="1.5"/><circle cx="288.8" cy="66.4" r="1.5"/><circle cx="288.8" cy="68" r="1.5"/><circle cx="288.8" cy="60.5" r="1.5"/><circle cx="288.8" cy="63.4" r="1.5"/><circle cx="288.8" cy="67.8" r="1.5"/><circle cx="288.8" cy="62.3" r="1.5"/><circle cx="288.8" cy="67.9" r="1.5"/><circle cx="288.8" cy="74.8" r="1.5"/><circle cx="288.8" cy="56.8" r="1.5"/><circle cx="288.8" cy="63.6" r="1.5"/><circle cx="288.8" cy="73.5" r="1.5"/><circle cx="288.8" cy="59.4" r="1.5"/><circle cx="288.8" cy="64.5" r="1.5"/><circle cx="288.8" cy="77.7" r="1.5"/><circle cx="288.8" cy="55.7" r="1.5"/><circle cx="288.8" cy="64.5" r="1.5"/><circle cx="288.8" cy="60.7" r="1.5"/><circle cx="288.8" cy="65.5" r="1.5"/><circle cx="288.8" cy="67.9" r="1.5"/><circle cx="288.8" cy="77.5" r="1.5"/><circle cx="288.8" cy="60.1" r="1.5"/><circle cx="288.8" cy="66.6" r="1.5"/><circle cx="288.8" cy="68.8" r="1.5"/><circle cx="288.8" cy="64.4" r="1.5"/><circle cx="288.8" cy="66.3" r="1.5"/><circle cx="288.8" cy="62.2" r="1.5"/><circle cx="288.8" cy="69.4" r="1.5"/><circle cx="288.8" cy="67.1" r="1.5"/><circle cx="288.8" cy="81.6" r="1.5"/><circle cx="288.8" cy="69.8" r="1.5"/><circle cx="288.8" cy="62.2" r="1.5"/><circle cx="288.8" cy="57.6" r="1.5"/><circle cx="288.8" cy="69.4" r="1.5"/><circle cx="288.8" cy="117.4" r="1.5"/><circle cx="301.9" cy="78.8" r="1.5"/><circle cx="301.9" cy="51.5" r="1.5"/><circle cx="301.9" cy="78.5" r="1.5"/><circle cx="301.9" cy="76.9" r="1.5"/><circle cx="301.9" cy="76.2" r="1.5"/><circle cx="301.9" cy="75.2" r="1.5"/><circle cx="301.9" cy="74.4" r="1.5"/><circle cx="301.9" cy="72.5" r="1.5"/><circle cx="301.9" cy="71.2" r="1.5"/><circle cx="301.9" cy="70.4" r="1.5"/><circle cx="301.9" cy="69" r="1.5"/><circle cx="301.9" cy="68.9" r="1.5"/><circle cx="301.9" cy="67.6" r="1.5"/><circle cx="301.9" cy="66.3" r="1.5"/><circle cx="301.9" cy="64.6" r="1.5"/><circle cx="301.9" cy="63.6" r="1.5"/><circle cx="301.9" cy="63.1" r="1.5"/><circle cx="301.9" cy="62.1" r="1.5"/><circle cx="301.9" cy="60.9" r="1.5"/><circle cx="301.9" cy="59.7" r="1.5"/><circle cx="301.9" cy="58.1" r="1.5"/><circle cx="301.9" cy="57.9" r="1.5"/><circle cx="301.9" cy="56.1" r="1.5"/><circle cx="301.9" cy="55.1" r="1.5"/><circle cx="301.9" cy="53.9" r="1.5"/><circle cx="301.9" cy="52.9" r="1.5"/><circle cx="301.9" cy="51.9" r="1.5"/><circle cx="301.9" cy="62.1" r="1.5"/><circle cx="301.9" cy="55.1" r="1.5"/><circle cx="301.9" cy="66.4" r="1.5"/><circle cx="301.9" cy="51.8" r="1.5"/><circle cx="301.9" cy="56.2" r="1.5"/><circle cx="301.9" cy="57.8" r="1.5"/><circle cx="301.9" cy="59.6" r="1.5"/><circle cx="301.9" cy="64.2" r="1.5"/><circle cx="301.9" cy="58.3" r="1.5"/><circle cx="301.9" cy="59.1" r="1.5"/><circle cx="301.9" cy="64.7" r="1.5"/><circle cx="301.9" cy="61.4" r="1.5"/><circle cx="301.9" cy="61.2" r="1.5"/><circle cx="301.9" cy="55.1" r="1.5"/><circle cx="301.9" cy="60" r="1.5"/><circle cx="301.9" cy="57.4" r="1.5"/><circle cx="301.9" cy="58.3" r="1.5"/><circle cx="301.9" cy="69" r="1.5"/><circle cx="301.9" cy="59.6" r="1.5"/><circle cx="301.9" cy="63.8" r="1.5"/><circle cx="301.9" cy="58.3" r="1.5"/><circle cx="301.9" cy="66.8" r="1.5"/><circle cx="301.9" cy="55.6" r="1.5"/><circle cx="301.9" cy="64.2" r="1.5"/><circle cx="301.9" cy="68.4" r="1.5"/><circle cx="301.9" cy="54.7" r="1.5"/><circle cx="301.9" cy="66.9" r="1.5"/><circle cx="301.9" cy="51.9" r="1.5"/><circle cx="301.9" cy="61.8" r="1.5"/><circle cx="301.9" cy="52.3" r="1.5"/><circle cx="301.9" cy="66.5" r="1.5"/><circle cx="301.9" cy="47" r="1.5"/><circle cx="301.9" cy="93" r="1.5"/><circle cx="311.5" cy="51.5" r="1.5"/><circle cx="311.5" cy="34.5" r="1.5"/><circle cx="311.5" cy="51.1" r="1.5"/><circle cx="311.5" cy="48.9" r="1.5"/><circle cx="311.5" cy="46.7" r="1.5"/><circle cx="311.5" cy="44.8" r="1.5"/><circle cx="311.5" cy="41.1" r="1.5"/><circle cx="311.5" cy="39.6" r="1.5"/><circle cx="311.5" cy="38" r="1.5"/><circle cx="311.5" cy="35.8" r="1.5"/><circle cx="311.5" cy="42.1" r="1.5"/><circle cx="311.5" cy="42" r="1.5"/><circle cx="311.5" cy="46.6" r="1.5"/><circle cx="311.5" cy="45.6" r="1.5"/><circle cx="311.5" cy="39.7" r="1.5"/><circle cx="311.5" cy="43" r="1.5"/><circle cx="311.5" cy="43.9" r="1.5"/><circle cx="311.5" cy="43.4" r="1.5"/><circle cx="311.5" cy="45.5" r="1.5"/><circle cx="311.5" cy="47" r="1.5"/><circle cx="311.5" cy="46.9" r="1.5"/><circle cx="311.5" cy="74.2" r="1.5"/><circle cx="311.5" cy="62.9" r="1.5"/><circle cx="311.5" cy="73.1" r="1.5"/><circle cx="311.5" cy="63" r="1.5"/><circle cx="311.5" cy="65.1" r="1.5"/><circle cx="311.5" cy="71.2" r="1.5"/><circle cx="311.5" cy="69.1" r="1.5"/><circle cx="311.5" cy="69.7" r="1.5"/><circle cx="318.8" cy="49.2" r="1.5"/><circle cx="318.8" cy="26.5" r="1.5"/><circle cx="318.8" cy="48.5" r="1.5"/><circle cx="318.8" cy="47.2" r="1.5"/><circle cx="318.8" cy="44.7" r="1.5"/><circle cx="318.8" cy="42.8" r="1.5"/><circle cx="318.8" cy="42.6" r="1.5"/><circle cx="318.8" cy="40.2" r="1.5"/><circle cx="318.8" cy="38.5" r="1.5"/><circle cx="318.8" cy="37.5" r="1.5"/><circle cx="318.8" cy="35.7" r="1.5"/><circle cx="318.8" cy="34.4" r="1.5"/><circle cx="318.8" cy="32.7" r="1.5"/><circle cx="318.8" cy="31" r="1.5"/><circle cx="318.8" cy="28.8" r="1.5"/><circle cx="318.8" cy="27.1" r="1.5"/><circle cx="318.8" cy="35.3" r="1.5"/><circle cx="318.8" cy="42.2" r="1.5"/><circle cx="318.8" cy="41.7" r="1.5"/><circle cx="318.8" cy="45.9" r="1.5"/><circle cx="318.8" cy="35.9" r="1.5"/><circle cx="318.8" cy="40.7" r="1.5"/><circle cx="318.8" cy="38.5" r="1.5"/><circle cx="318.8" cy="39.9" r="1.5"/><circle cx="318.8" cy="34" r="1.5"/><circle cx="318.8" cy="44.1" r="1.5"/><circle cx="318.8" cy="43" r="1.5"/><circle cx="318.8" cy="38.5" r="1.5"/><circle cx="318.8" cy="39.5" r="1.5"/><circle cx="318.8" cy="49.1" r="1.5"/><circle cx="318.8" cy="44.6" r="1.5"/><circle cx="318.8" cy="40" r="1.5"/><circle cx="318.8" cy="40.8" r="1.5"/><circle cx="318.8" cy="44.1" r="1.5"/><circle cx="318.8" cy="47.2" r="1.5"/><circle cx="318.8" cy="61.7" r="1.5"/><circle cx="318.8" cy="61.2" r="1.5"/><circle cx="342.2" cy="42.4" r="1.5"/><circle cx="342.2" cy="17.5" r="1.5"/><circle cx="342.2" cy="42" r="1.5"/><circle cx="342.2" cy="40.6" r="1.5"/><circle cx="342.2" cy="38.3" r="1.5"/><circle cx="342.2" cy="37.8" r="1.5"/><circle cx="342.2" cy="36.1" r="1.5"/><circle cx="342.2" cy="35" r="1.5"/><circle cx="342.2" cy="33.5" r="1.5"/><circle cx="342.2" cy="31.5" r="1.5"/><circle cx="342.2" cy="29.9" r="1.5"/><circle cx="342.2" cy="29.4" r="1.5"/><circle cx="342.2" cy="28.3" r="1.5"/><circle cx="342.2" cy="26.2" r="1.5"/><circle cx="342.2" cy="25.5" r="1.5"/><circle cx="342.2" cy="24.4" r="1.5"/><circle cx="342.2" cy="21.8" r="1.5"/><circle cx="342.2" cy="21" r="1.5"/><circle cx="342.2" cy="19.1" r="1.5"/><circle cx="342.2" cy="18.3" r="1.5"/><circle cx="342.2" cy="20.9" r="1.5"/><circle cx="342.2" cy="29.5" r="1.5"/><circle cx="342.2" cy="24.9" r="1.5"/><circle cx="342.2" cy="24.6" r="1.5"/><circle cx="342.2" cy="32.8" r="1.5"/><circle cx="342.2" cy="27.9" r="1.5"/><circle cx="342.2" cy="23.4" r="1.5"/><circle cx="342.2" cy="26.7" r="1.5"/><circle cx="342.2" cy="29.2" r="1.5"/><circle cx="342.2" cy="29" r="1.5"/><circle cx="342.2" cy="28.4" r="1.5"/><circle cx="342.2" cy="25.5" r="1.5"/><circle cx="342.2" cy="26.8" r="1.5"/><circle cx="342.2" cy="19" r="1.5"/><circle cx="342.2" cy="23.1" r="1.5"/><circle cx="342.2" cy="26.6" r="1.5"/><circle cx="342.2" cy="35.2" r="1.5"/><circle cx="342.2" cy="24.8" r="1.5"/><circle cx="342.2" cy="21.9" r="1.5"/><circle cx="342.2" cy="26.1" r="1.5"/><circle cx="342.2" cy="19.2" r="1.5"/><circle cx="342.2" cy="26.4" r="1.5"/><circle cx="342.2" cy="21.3" r="1.5"/><circle cx="342.2" cy="34.4" r="1.5"/><circle cx="342.2" cy="53.8" r="1.5"/><circle cx="342.2" cy="52.7" r="1.5"/><circle cx="342.2" cy="48.1" r="1.5"/></g>
<path class="d" d="M213.5 125.3L352.4 17.5"/>
<rect class="s" x="206.2" y="12.0" width="153.2" height="119.0"/>
<path class="tk" d="M213.5 131v1.9M242.7 131v1.9M272 131v1.9M301.2 131v1.9M330.5 131v1.9M206.2 125.3h-1.9M206.2 102.6h-1.9M206.2 79.9h-1.9M206.2 57.2h-1.9M206.2 34.5h-1.9"/>
<text class="k" text-anchor="middle" x="213.5" y="138.4">0</text>
<text class="k" text-anchor="middle" x="242.7" y="138.4">2</text>
<text class="k" text-anchor="middle" x="272" y="138.4">4</text>
<text class="k" text-anchor="middle" x="301.2" y="138.4">6</text>
<text class="k" text-anchor="middle" x="330.5" y="138.4">8</text>
<text class="k" text-anchor="end" x="203.3" y="127.3">0</text>
<text class="k" text-anchor="end" x="203.3" y="104.6">2</text>
<text class="k" text-anchor="end" x="203.3" y="81.9">4</text>
<text class="k" text-anchor="end" x="203.3" y="59.2">6</text>
<text class="k" text-anchor="end" x="203.3" y="36.5">8</text>
<text class="t" transform="translate(282.8 9.7) scale(1.016 1)">Coal: R² = 0.861</text>
<text class="l" transform="translate(282.8 146.8) scale(1.04 1)">True Values (%)</text>
<text class="l" transform="translate(196.4 71.5) rotate(-90) scale(1.04 1)">Predicted Values (%)</text>
</g>
<g>
<g class="p"><circle cx="398.6" cy="125.8" r="1.5"/><circle cx="398.6" cy="115.7" r="1.5"/><circle cx="398.6" cy="125.3" r="1.5"/><circle cx="398.6" cy="124.2" r="1.5"/><circle cx="398.6" cy="123.8" r="1.5"/><circle cx="398.6" cy="122.4" r="1.5"/><circle cx="398.6" cy="122" r="1.5"/><circle cx="398.6" cy="120.9" r="1.5"/><circle cx="398.6" cy="119.5" r="1.5"/><circle cx="398.6" cy="118.6" r="1.5"/><circle cx="398.6" cy="118.3" r="1.5"/><circle cx="398.6" cy="117.4" r="1.5"/><circle cx="398.6" cy="116.3" r="1.5"/><circle cx="398.6" cy="119.7" r="1.5"/><circle cx="398.6" cy="124.9" r="1.5"/><circle cx="398.6" cy="123" r="1.5"/><circle cx="398.6" cy="121.6" r="1.5"/><circle cx="398.6" cy="121.6" r="1.5"/><circle cx="398.6" cy="123.5" r="1.5"/><circle cx="398.6" cy="120.1" r="1.5"/><circle cx="398.6" cy="122.1" r="1.5"/><circle cx="398.6" cy="122.8" r="1.5"/><circle cx="398.6" cy="123.4" r="1.5"/><circle cx="398.6" cy="122.2" r="1.5"/><circle cx="398.6" cy="123.7" r="1.5"/><circle cx="398.6" cy="125" r="1.5"/><circle cx="398.6" cy="124.4" r="1.5"/><circle cx="398.6" cy="124.1" r="1.5"/><circle cx="398.6" cy="115.7" r="1.5"/><circle cx="398.6" cy="106.5" r="1.5"/><circle cx="398.6" cy="114.8" r="1.5"/><circle cx="398.6" cy="112.1" r="1.5"/><circle cx="398.6" cy="110.1" r="1.5"/><circle cx="398.6" cy="107.3" r="1.5"/><circle cx="398.6" cy="114.2" r="1.5"/><circle cx="398.6" cy="115" r="1.5"/><circle cx="398.6" cy="112.2" r="1.5"/><circle cx="398.6" cy="110.2" r="1.5"/><circle cx="398.6" cy="112.5" r="1.5"/><circle cx="398.6" cy="101" r="1.5"/><circle cx="398.6" cy="92.6" r="1.5"/><circle cx="398.6" cy="88.8" r="1.5"/><circle cx="401.8" cy="124.1" r="1.5"/><circle cx="401.8" cy="113.6" r="1.5"/><circle cx="401.8" cy="123.5" r="1.5"/><circle cx="401.8" cy="122.5" r="1.5"/><circle cx="401.8" cy="120.5" r="1.5"/><circle cx="401.8" cy="119.2" r="1.5"/><circle cx="401.8" cy="118.3" r="1.5"/><circle cx="401.8" cy="117.3" r="1.5"/><circle cx="401.8" cy="115.6" r="1.5"/><circle cx="401.8" cy="114.8" r="1.5"/><circle cx="401.8" cy="119.3" r="1.5"/><circle cx="401.8" cy="119.2" r="1.5"/><circle cx="401.8" cy="118.9" r="1.5"/><circle cx="401.8" cy="119.6" r="1.5"/><circle cx="401.8" cy="121.6" r="1.5"/><circle cx="401.8" cy="121" r="1.5"/><circle cx="401.8" cy="121.6" r="1.5"/><circle cx="401.8" cy="121.7" r="1.5"/><circle cx="401.8" cy="121.4" r="1.5"/><circle cx="401.8" cy="121.8" r="1.5"/><circle cx="401.8" cy="121" r="1.5"/><circle cx="401.8" cy="109.4" r="1.5"/><circle cx="401.8" cy="106.5" r="1.5"/><circle cx="401.8" cy="100.6" r="1.5"/><circle cx="407.8" cy="119.9" r="1.5"/><circle cx="407.8" cy="110.3" r="1.5"/><circle cx="407.8" cy="119.4" r="1.5"/><circle cx="407.8" cy="118.6" r="1.5"/><circle cx="407.8" cy="117.1" r="1.5"/><circle cx="407.8" cy="116.9" r="1.5"/><circle cx="407.8" cy="115.2" r="1.5"/><circle cx="407.8" cy="114.1" r="1.5"/><circle cx="407.8" cy="113.4" r="1.5"/><circle cx="407.8" cy="112.4" r="1.5"/><circle cx="407.8" cy="112" r="1.5"/><circle cx="407.8" cy="110.3" r="1.5"/><circle cx="407.8" cy="116.7" r="1.5"/><circle cx="407.8" cy="115.9" r="1.5"/><circle cx="407.8" cy="117.6" r="1.5"/><circle cx="407.8" cy="115.8" r="1.5"/><circle cx="407.8" cy="115.2" r="1.5"/><circle cx="407.8" cy="116.2" r="1.5"/><circle cx="407.8" cy="116.9" r="1.5"/><circle cx="407.8" cy="118.2" r="1.5"/><circle cx="407.8" cy="115.6" r="1.5"/><circle cx="407.8" cy="118" r="1.5"/><circle cx="407.8" cy="116.5" r="1.5"/><circle cx="407.8" cy="118.1" r="1.5"/><circle cx="407.8" cy="117.1" r="1.5"/><circle cx="407.8" cy="108.2" r="1.5"/><circle cx="407.8" cy="104.8" r="1.5"/><circle cx="407.8" cy="92.2" r="1.5"/><circle cx="407.8" cy="86.3" r="1.5"/><circle cx="409.4" cy="119.1" r="1.5"/><circle cx="409.4" cy="111.5" r="1.5"/><circle cx="409.4" cy="118.8" r="1.5"/><circle cx="409.4" cy="117.2" r="1.5"/><circle cx="409.4" cy="115.3" r="1.5"/><circle cx="409.4" cy="114.1" r="1.5"/><circle cx="409.4" cy="113" r="1.5"/><circle cx="409.4" cy="115.3" r="1.5"/><circle cx="409.4" cy="114.8" r="1.5"/><circle cx="409.4" cy="113.4" r="1.5"/><circle cx="409.4" cy="116.7" r="1.5"/><circle cx="409.4" cy="114.9" r="1.5"/><circle cx="409.4" cy="116.3" r="1.5"/><circle cx="409.4" cy="115.6" r="1.5"/><circle cx="409.4" cy="116.5" r="1.5"/><circle cx="409.4" cy="104.8" r="1.5"/><circle cx="428.9" cy="104.4" r="1.5"/><circle cx="428.9" cy="88.4" r="1.5"/><circle cx="428.9" cy="103.8" r="1.5"/><circle cx="428.9" cy="102.7" r="1.5"/><circle cx="428.9" cy="102" r="1.5"/><circle cx="428.9" cy="100.5" r="1.5"/><circle cx="428.9" cy="99.8" r="1.5"/><circle cx="428.9" cy="98.8" r="1.5"/><circle cx="428.9" cy="97.5" r="1.5"/><circle cx="428.9" cy="97.3" r="1.5"/><circle cx="428.9" cy="95.4" r="1.5"/><circle cx="428.9" cy="94.8" r="1.5"/><circle cx="428.9" cy="94" r="1.5"/><circle cx="428.9" cy="92.6" r="1.5"/><circle cx="428.9" cy="92.1" r="1.5"/><circle cx="428.9" cy="90.4" r="1.5"/><circle cx="428.9" cy="89.8" r="1.5"/><circle cx="428.9" cy="89" r="1.5"/><circle cx="428.9" cy="99.2" r="1.5"/><circle cx="428.9" cy="103.3" r="1.5"/><circle cx="428.9" cy="97" r="1.5"/><circle cx="428.9" cy="94.4" r="1.5"/><circle cx="428.9" cy="93.4" r="1.5"/><circle cx="428.9" cy="97.7" r="1.5"/><circle cx="428.9" cy="99.7" r="1.5"/><circle cx="428.9" cy="94.6" r="1.5"/><circle cx="428.9" cy="95" r="1.5"/><circle cx="428.9" cy="100" r="1.5"/><circle cx="428.9" cy="101.1" r="1.5"/><circle cx="428.9" cy="102.2" r="1.5"/><circle cx="428.9" cy="98.7" r="1.5"/><circle cx="428.9" cy="99.6" r="1.5"/><circle cx="428.9" cy="96.7" r="1.5"/><circle cx="428.9" cy="95.7" r="1.5"/><circle cx="428.9" cy="103.4" r="1.5"/><circle cx="428.9" cy="97.9" r="1.5"/><circle cx="428.9" cy="98.1" r="1.5"/><circle cx="428.9" cy="100.7" r="1.5"/><circle cx="428.9" cy="66.5" r="1.5"/><circle cx="431.1" cy="103.1" r="1.5"/><circle cx="431.1" cy="90.5" r="1.5"/><circle cx="431.1" cy="102.7" r="1.5"/><circle cx="431.1" cy="100.1" r="1.5"/><circle cx="431.1" cy="99.5" r="1.5"/><circle cx="431.1" cy="97.7" r="1.5"/><circle cx="431.1" cy="95.3" r="1.5"/><circle cx="431.1" cy="93.9" r="1.5"/><circle cx="431.1" cy="91.7" r="1.5"/><circle cx="431.1" cy="98.3" r="1.5"/><circle cx="431.1" cy="95.3" r="1.5"/><circle cx="431.1" cy="100.5" r="1.5"/><circle cx="431.1" cy="99.9" r="1.5"/><circle cx="431.1" cy="101.1" r="1.5"/><circle cx="431.1" cy="101.1" r="1.5"/><circle cx="431.1" cy="94.6" r="1.5"/><circle cx="431.1" cy="94.1" r="1.5"/><circle cx="431.1" cy="98.8" r="1.5"/><circle cx="434.9" cy="101" r="1.5"/><circle cx="434.9" cy="89.7" r="1.5"/><circle cx="434.9" cy="100.9" r="1.5"/><circle cx="434.9" cy="99.1" r="1.5"/><circle cx="434.9" cy="97.7" r="1.5"/><circle cx="434.9" cy="96.7" r="1.5"/><circle cx="434.9" cy="96" r="1.5"/><circle cx="434.9" cy="95" r="1.5"/><circle cx="434.9" cy="94.2" r="1.5"/><circle cx="434.9" cy="92.3" r="1.5"/><circle cx="434.9" cy="91.3" r="1.5"/><circle cx="434.9" cy="90.4" r="1.5"/><circle cx="434.9" cy="94.6" r="1.5"/><circle cx="434.9" cy="97.6" r="1.5"/><circle cx="434.9" cy="98.1" r="1.5"/><circle cx="434.9" cy="92.3" r="1.5"/><circle cx="434.9" cy="97.5" r="1.5"/><circle cx="434.9" cy="95.9" r="1.5"/><circle cx="434.9" cy="90.6" r="1.5"/><circle cx="434.9" cy="93" r="1.5"/><circle cx="434.9" cy="95.1" r="1.5"/><circle cx="434.9" cy="97.5" r="1.5"/><circle cx="434.9" cy="94.9" r="1.5"/><circle cx="434.9" cy="92" r="1.5"/><circle cx="434.9" cy="94.4" r="1.5"/><circle cx="434.9" cy="84.2" r="1.5"/><circle cx="434.9" cy="78.3" r="1.5"/><circle cx="434.9" cy="77" r="1.5"/><circle cx="434.9" cy="117.8" r="1.5"/><circle cx="445.7" cy="101" r="1.5"/><circle cx="445.7" cy="80" r="1.5"/><circle cx="445.7" cy="101" r="1.5"/><circle cx="445.7" cy="99.2" r="1.5"/><circle cx="445.7" cy="97.6" r="1.5"/><circle cx="445.7" cy="97.3" r="1.5"/><circle cx="445.7" cy="96.1" r="1.5"/><circle cx="445.7" cy="94.5" r="1.5"/><circle cx="445.7" cy="93.4" r="1.5"/><circle cx="445.7" cy="92.1" r="1.5"/><circle cx="445.7" cy="90.7" r="1.5"/><circle cx="445.7" cy="90.3" r="1.5"/><circle cx="445.7" cy="89" r="1.5"/><circle cx="445.7" cy="87.8" r="1.5"/><circle cx="445.7" cy="86.9" r="1.5"/><circle cx="445.7" cy="84.8" r="1.5"/><circle cx="445.7" cy="83.7" r="1.5"/><circle cx="445.7" cy="82.6" r="1.5"/><circle cx="445.7" cy="82.3" r="1.5"/><circle cx="445.7" cy="80.2" r="1.5"/><circle cx="445.7" cy="87.7" r="1.5"/><circle cx="445.7" cy="92.7" r="1.5"/><circle cx="445.7" cy="87.8" r="1.5"/><circle cx="445.7" cy="92.6" r="1.5"/><circle cx="445.7" cy="87.2" r="1.5"/><circle cx="445.7" cy="85.4" r="1.5"/><circle cx="445.7" cy="87.4" r="1.5"/><circle cx="445.7" cy="86.3" r="1.5"/><circle cx="445.7" cy="91.4" r="1.5"/><circle cx="445.7" cy="81" r="1.5"/><circle cx="445.7" cy="90.5" r="1.5"/><circle cx="445.7" cy="95.9" r="1.5"/><circle cx="445.7" cy="88.4" r="1.5"/><circle cx="445.7" cy="91" r="1.5"/><circle cx="445.7" cy="92.2" r="1.5"/><circle cx="445.7" cy="89.2" r="1.5"/><circle cx="445.7" cy="86.2" r="1.5"/><circle cx="445.7" cy="93" r="1.5"/><circle cx="445.7" cy="88.2" r="1.5"/><circle cx="445.7" cy="81" r="1.5"/><circle cx="445.7" cy="84.4" r="1.5"/><circle cx="445.7" cy="88.2" r="1.5"/><circle cx="445.7" cy="87" r="1.5"/><circle cx="445.7" cy="88.1" r="1.5"/><circle cx="447.9" cy="103.1" r="1.5"/><circle cx="447.9" cy="77.9" r="1.5"/><circle cx="447.9" cy="102.8" r="1.5"/><circle cx="447.9" cy="101.7" r="1.5"/><circle cx="447.9" cy="100" r="1.5"/><circle cx="447.9" cy="98.6" r="1.5"/><circle cx="447.9" cy="97.7" r="1.5"/><circle cx="447.9" cy="97" r="1.5"/><circle cx="447.9" cy="95.2" r="1.5"/><circle cx="447.9" cy="94.7" r="1.5"/><circle cx="447.9" cy="93.7" r="1.5"/><circle cx="447.9" cy="91.7" r="1.5"/><circle cx="447.9" cy="90.9" r="1.5"/><circle cx="447.9" cy="89.7" r="1.5"/><circle cx="447.9" cy="88.6" r="1.5"/><circle cx="447.9" cy="87.1" r="1.5"/><circle cx="447.9" cy="86.5" r="1.5"/><circle cx="447.9" cy="84.9" r="1.5"/><circle cx="447.9" cy="84" r="1.5"/><circle cx="447.9" cy="82.6" r="1.5"/><circle cx="447.9" cy="82" r="1.5"/><circle cx="447.9" cy="80.5" r="1.5"/><circle cx="447.9" cy="79.5" r="1.5"/><circle cx="447.9" cy="78.7" r="1.5"/><circle cx="447.9" cy="84.1" r="1.5"/><circle cx="447.9" cy="78.4" r="1.5"/><circle cx="447.9" cy="80.2" r="1.5"/><circle cx="447.9" cy="85.1" r="1.5"/><circle cx="447.9" cy="84.9" r="1.5"/><circle cx="447.9" cy="78" r="1.5"/><circle cx="447.9" cy="87.6" r="1.5"/><circle cx="447.9" cy="83.4" r="1.5"/><circle cx="447.9" cy="84.3" r="1.5"/><circle cx="447.9" cy="85.6" r="1.5"/><circle cx="447.9" cy="88.6" r="1.5"/><circle cx="447.9" cy="93.1" r="1.5"/><circle cx="447.9" cy="88.8" r="1.5"/><circle cx="447.9" cy="94.3" r="1.5"/><circle cx="447.9" cy="79.2" r="1.5"/><circle cx="447.9" cy="82.9" r="1.5"/><circle cx="447.9" cy="92.5" r="1.5"/><circle cx="447.9" cy="78.2" r="1.5"/><circle cx="447.9" cy="81" r="1.5"/><circle cx="447.9" cy="96.3" r="1.5"/><circle cx="447.9" cy="81.4" r="1.5"/><circle cx="447.9" cy="92.6" r="1.5"/><circle cx="447.9" cy="83" r="1.5"/><circle cx="447.9" cy="83.5" r="1.5"/><circle cx="447.9" cy="84.8" r="1.5"/><circle cx="447.9" cy="84.9" r="1.5"/><circle cx="447.9" cy="80.1" r="1.5"/><circle cx="447.9" cy="118.7" r="1.5"/><circle cx="447.9" cy="115.7" r="1.5"/><circle cx="459.2" cy="94.7" r="1.5"/><circle cx="459.2" cy="73.7" r="1.5"/><circle cx="459.2" cy="93.9" r="1.5"/><circle cx="459.2" cy="92.3" r="1.5"/><circle cx="459.2" cy="91.2" r="1.5"/><circle cx="459.2" cy="90.4" r="1.5"/><circle cx="459.2" cy="89.3" r="1.5"/><circle cx="459.2" cy="88" r="1.5"/><circle cx="459.2" cy="85.8" r="1.5"/><circle cx="459.2" cy="85.2" r="1.5"/><circle cx="459.2" cy="83.8" r="1.5"/><circle cx="459.2" cy="82.3" r="1.5"/><circle cx="459.2" cy="81.5" r="1.5"/><circle cx="459.2" cy="79.9" r="1.5"/><circle cx="459.2" cy="78.6" r="1.5"/><circle cx="459.2" cy="76.7" r="1.5"/><circle cx="459.2" cy="75.8" r="1.5"/><circle cx="459.2" cy="74.6" r="1.5"/><circle cx="459.2" cy="86.8" r="1.5"/><circle cx="459.2" cy="74.7" r="1.5"/><circle cx="459.2" cy="81.2" r="1.5"/><circle cx="459.2" cy="76.2" r="1.5"/><circle cx="459.2" cy="85.1" r="1.5"/><circle cx="459.2" cy="75.3" r="1.5"/><circle cx="459.2" cy="79.1" r="1.5"/><circle cx="459.2" cy="87.2" r="1.5"/><circle cx="459.2" cy="76.9" r="1.5"/><circle cx="459.2" cy="84.1" r="1.5"/><circle cx="459.2" cy="74.1" r="1.5"/><circle cx="459.2" cy="83.1" r="1.5"/><circle cx="459.2" cy="80.7" r="1.5"/><circle cx="459.2" cy="78.7" r="1.5"/><circle cx="459.2" cy="81.5" r="1.5"/><circle cx="459.2" cy="78.8" r="1.5"/><circle cx="459.2" cy="82.5" r="1.5"/><circle cx="459.2" cy="76.9" r="1.5"/><circle cx="459.2" cy="80" r="1.5"/><circle cx="459.2" cy="79" r="1.5"/><circle cx="459.2" cy="101.4" r="1.5"/><circle cx="459.2" cy="98.1" r="1.5"/><circle cx="459.2" cy="63.6" r="1.5"/><circle cx="459.2" cy="27.4" r="1.5"/><circle cx="526.4" cy="44.2" r="1.5"/><circle cx="526.4" cy="17.3" r="1.5"/><circle cx="526.4" cy="44.2" r="1.5"/><circle cx="526.4" cy="42.4" r="1.5"/><circle cx="526.4" cy="41.2" r="1.5"/><circle cx="526.4" cy="39.6" r="1.5"/><circle cx="526.4" cy="39.1" r="1.5"/><circle cx="526.4" cy="37.5" r="1.5"/><circle cx="526.4" cy="36.5" r="1.5"/><circle cx="526.4" cy="34.6" r="1.5"/><circle cx="526.4" cy="34.1" r="1.5"/><circle cx="526.4" cy="32.1" r="1.5"/><circle cx="526.4" cy="31.6" r="1.5"/><circle cx="526.4" cy="30.5" r="1.5"/><circle cx="526.4" cy="28.7" r="1.5"/><circle cx="526.4" cy="27.7" r="1.5"/><circle cx="526.4" cy="27" r="1.5"/><circle cx="526.4" cy="25.1" r="1.5"/><circle cx="526.4" cy="24.5" r="1.5"/><circle cx="526.4" cy="22.5" r="1.5"/><circle cx="526.4" cy="21.3" r="1.5"/><circle cx="526.4" cy="20" r="1.5"/><circle cx="526.4" cy="19" r="1.5"/><circle cx="526.4" cy="18.1" r="1.5"/><circle cx="526.4" cy="41.5" r="1.5"/><circle cx="526.4" cy="30.1" r="1.5"/><circle cx="526.4" cy="22" r="1.5"/><circle cx="526.4" cy="23.5" r="1.5"/><circle cx="526.4" cy="27" r="1.5"/><circle cx="526.4" cy="24.4" r="1.5"/><circle cx="526.4" cy="26.2" r="1.5"/><circle cx="526.4" cy="24.1" r="1.5"/><circle cx="526.4" cy="21" r="1.5"/><circle cx="526.4" cy="19.8" r="1.5"/><circle cx="526.4" cy="29.4" r="1.5"/><circle cx="526.4" cy="34.2" r="1.5"/><circle cx="526.4" cy="24.7" r="1.5"/><circle cx="526.4" cy="18.9" r="1.5"/><circle cx="526.4" cy="35" r="1.5"/><circle cx="526.4" cy="27.3" r="1.5"/><circle cx="526.4" cy="25.2" r="1.5"/><circle cx="526.4" cy="33.8" r="1.5"/><circle cx="526.4" cy="28.4" r="1.5"/><circle cx="526.4" cy="21.1" r="1.5"/><circle cx="526.4" cy="19.1" r="1.5"/><circle cx="526.4" cy="30.4" r="1.5"/><circle cx="526.4" cy="33.6" r="1.5"/><circle cx="526.4" cy="22.3" r="1.5"/><circle cx="526.4" cy="19.9" r="1.5"/><circle cx="526.4" cy="24.2" r="1.5"/><circle cx="526.4" cy="33" r="1.5"/><circle cx="526.4" cy="47.6" r="1.5"/><circle cx="526.4" cy="51.4" r="1.5"/><circle cx="526.4" cy="62.3" r="1.5"/><circle cx="526.4" cy="74.9" r="1.5"/></g>
<path class="d" d="M396.4 125.8L536.1 17.3"/>
<rect class="s" x="389.75" y="12.0" width="153.2" height="119.0"/>
<path class="tk" d="M414.8 131v1.9M441.9 131v1.9M469 131v1.9M496.1 131v1.9M523.1 131v1.9M389.8 111.5h-1.9M389.8 90.5h-1.9M389.8 69.5h-1.9M389.8 48.4h-1.9M389.8 27.4h-1.9"/>
<text class="k" text-anchor="middle" x="414.8" y="138.4">5</text>
<text class="k" text-anchor="middle" x="441.9" y="138.4">10</text>
<text class="k" text-anchor="middle" x="469" y="138.4">15</text>
<text class="k" text-anchor="middle" x="496.1" y="138.4">20</text>
<text class="k" text-anchor="middle" x="523.1" y="138.4">25</text>
<text class="k" text-anchor="end" x="386.9" y="113.5">5</text>
<text class="k" text-anchor="end" x="386.9" y="92.5">10</text>
<text class="k" text-anchor="end" x="386.9" y="71.5">15</text>
<text class="k" text-anchor="end" x="386.9" y="50.4">20</text>
<text class="k" text-anchor="end" x="386.9" y="29.4">25</text>
<text class="t" transform="translate(466.4 9.7) scale(1.016 1)">Sea salt: R² = 0.918</text>
<text class="l" transform="translate(466.4 146.8) scale(1.04 1)">True Values (%)</text>
<text class="l" transform="translate(376.9 71.5) rotate(-90) scale(1.04 1)">Predicted Values (%)</text>
</g>
<g>
<g class="p"><circle cx="50.4" cy="273.4" r="1.5"/><circle cx="50.4" cy="249.2" r="1.5"/><circle cx="50.4" cy="273.3" r="1.5"/><circle cx="50.4" cy="271.5" r="1.5"/><circle cx="50.4" cy="269.6" r="1.5"/><circle cx="50.4" cy="269.1" r="1.5"/><circle cx="50.4" cy="267.8" r="1.5"/><circle cx="50.4" cy="266.3" r="1.5"/><circle cx="50.4" cy="264.4" r="1.5"/><circle cx="50.4" cy="262.9" r="1.5"/><circle cx="50.4" cy="262.5" r="1.5"/><circle cx="50.4" cy="261.1" r="1.5"/><circle cx="50.4" cy="259.7" r="1.5"/><circle cx="50.4" cy="258.2" r="1.5"/><circle cx="50.4" cy="256.6" r="1.5"/><circle cx="50.4" cy="255.7" r="1.5"/><circle cx="50.4" cy="254.2" r="1.5"/><circle cx="50.4" cy="253" r="1.5"/><circle cx="50.4" cy="250.6" r="1.5"/><circle cx="50.4" cy="249.6" r="1.5"/><circle cx="50.4" cy="252" r="1.5"/><circle cx="50.4" cy="254.8" r="1.5"/><circle cx="50.4" cy="258.7" r="1.5"/><circle cx="50.4" cy="259.8" r="1.5"/><circle cx="50.4" cy="253.5" r="1.5"/><circle cx="50.4" cy="263.8" r="1.5"/><circle cx="50.4" cy="263.4" r="1.5"/><circle cx="50.4" cy="268.4" r="1.5"/><circle cx="50.4" cy="260.4" r="1.5"/><circle cx="50.4" cy="255.8" r="1.5"/><circle cx="50.4" cy="260" r="1.5"/><circle cx="50.4" cy="260.6" r="1.5"/><circle cx="50.4" cy="263.9" r="1.5"/><circle cx="50.4" cy="262" r="1.5"/><circle cx="50.4" cy="270.4" r="1.5"/><circle cx="50.4" cy="257.3" r="1.5"/><circle cx="50.4" cy="265" r="1.5"/><circle cx="50.4" cy="268.7" r="1.5"/><circle cx="50.4" cy="266.8" r="1.5"/><circle cx="50.4" cy="267.2" r="1.5"/><circle cx="50.4" cy="258.3" r="1.5"/><circle cx="50.4" cy="257.3" r="1.5"/><circle cx="50.4" cy="270" r="1.5"/><circle cx="50.4" cy="258" r="1.5"/><circle cx="50.4" cy="279.5" r="1.5"/><circle cx="50.4" cy="244.7" r="1.5"/><circle cx="50.4" cy="240.1" r="1.5"/><circle cx="50.4" cy="239.4" r="1.5"/><circle cx="50.4" cy="229.5" r="1.5"/><circle cx="50.4" cy="217.4" r="1.5"/><circle cx="50.4" cy="215.9" r="1.5"/><circle cx="50.4" cy="212.9" r="1.5"/><circle cx="50.4" cy="208.3" r="1.5"/><circle cx="50.4" cy="206.1" r="1.5"/><circle cx="50.4" cy="200" r="1.5"/><circle cx="85.5" cy="240.1" r="1.5"/><circle cx="85.5" cy="209.1" r="1.5"/><circle cx="85.5" cy="238.7" r="1.5"/><circle cx="85.5" cy="237.9" r="1.5"/><circle cx="85.5" cy="236.1" r="1.5"/><circle cx="85.5" cy="234.3" r="1.5"/><circle cx="85.5" cy="233.3" r="1.5"/><circle cx="85.5" cy="232" r="1.5"/><circle cx="85.5" cy="229.7" r="1.5"/><circle cx="85.5" cy="227.9" r="1.5"/><circle cx="85.5" cy="226.5" r="1.5"/><circle cx="85.5" cy="225.1" r="1.5"/><circle cx="85.5" cy="223.3" r="1.5"/><circle cx="85.5" cy="222" r="1.5"/><circle cx="85.5" cy="220.5" r="1.5"/><circle cx="85.5" cy="219.3" r="1.5"/><circle cx="85.5" cy="217.9" r="1.5"/><circle cx="85.5" cy="215.9" r="1.5"/><circle cx="85.5" cy="215.2" r="1.5"/><circle cx="85.5" cy="213.1" r="1.5"/><circle cx="85.5" cy="211" r="1.5"/><circle cx="85.5" cy="209.5" r="1.5"/><circle cx="85.5" cy="234.3" r="1.5"/><circle cx="85.5" cy="234.6" r="1.5"/><circle cx="85.5" cy="237.4" r="1.5"/><circle cx="85.5" cy="227.4" r="1.5"/><circle cx="85.5" cy="235.8" r="1.5"/><circle cx="85.5" cy="235.6" r="1.5"/><circle cx="85.5" cy="237.9" r="1.5"/><circle cx="85.5" cy="226.8" r="1.5"/><circle cx="85.5" cy="221.8" r="1.5"/><circle cx="85.5" cy="229.6" r="1.5"/><circle cx="85.5" cy="237.4" r="1.5"/><circle cx="85.5" cy="229.7" r="1.5"/><circle cx="85.5" cy="222.6" r="1.5"/><circle cx="85.5" cy="228.8" r="1.5"/><circle cx="85.5" cy="224.6" r="1.5"/><circle cx="85.5" cy="220.9" r="1.5"/><circle cx="85.5" cy="223.2" r="1.5"/><circle cx="85.5" cy="233.8" r="1.5"/><circle cx="85.5" cy="223.7" r="1.5"/><circle cx="85.5" cy="225.6" r="1.5"/><circle cx="85.5" cy="233.6" r="1.5"/><circle cx="85.5" cy="231.6" r="1.5"/><circle cx="85.5" cy="226.9" r="1.5"/><circle cx="85.5" cy="238" r="1.5"/><circle cx="85.5" cy="222.1" r="1.5"/><circle cx="85.5" cy="228.3" r="1.5"/><circle cx="85.5" cy="184.9" r="1.5"/><circle cx="97.2" cy="237.1" r="1.5"/><circle cx="97.2" cy="206.8" r="1.5"/><circle cx="97.2" cy="236.5" r="1.5"/><circle cx="97.2" cy="234.4" r="1.5"/><circle cx="97.2" cy="233.9" r="1.5"/><circle cx="97.2" cy="231.1" r="1.5"/><circle cx="97.2" cy="230.5" r="1.5"/><circle cx="97.2" cy="229.5" r="1.5"/><circle cx="97.2" cy="227.6" r="1.5"/><circle cx="97.2" cy="225.9" r="1.5"/><circle cx="97.2" cy="225" r="1.5"/><circle cx="97.2" cy="222.9" r="1.5"/><circle cx="97.2" cy="221.3" r="1.5"/><circle cx="97.2" cy="219.4" r="1.5"/><circle cx="97.2" cy="218.4" r="1.5"/><circle cx="97.2" cy="217" r="1.5"/><circle cx="97.2" cy="215.6" r="1.5"/><circle cx="97.2" cy="213.3" r="1.5"/><circle cx="97.2" cy="211.5" r="1.5"/><circle cx="97.2" cy="210.6" r="1.5"/><circle cx="97.2" cy="209.5" r="1.5"/><circle cx="97.2" cy="207.1" r="1.5"/><circle cx="97.2" cy="216.8" r="1.5"/><circle cx="97.2" cy="230.1" r="1.5"/><circle cx="97.2" cy="223.7" r="1.5"/><circle cx="97.2" cy="218.7" r="1.5"/><circle cx="97.2" cy="218.2" r="1.5"/><circle cx="97.2" cy="223.1" r="1.5"/><circle cx="97.2" cy="235.2" r="1.5"/><circle cx="97.2" cy="234.8" r="1.5"/><circle cx="97.2" cy="224.9" r="1.5"/><circle cx="97.2" cy="224" r="1.5"/><circle cx="97.2" cy="209.7" r="1.5"/><circle cx="97.2" cy="232.2" r="1.5"/><circle cx="97.2" cy="219" r="1.5"/><circle cx="97.2" cy="221.4" r="1.5"/><circle cx="97.2" cy="231.9" r="1.5"/><circle cx="97.2" cy="225.4" r="1.5"/><circle cx="97.2" cy="229.8" r="1.5"/><circle cx="97.2" cy="227.5" r="1.5"/><circle cx="97.2" cy="223.4" r="1.5"/><circle cx="97.2" cy="231.8" r="1.5"/><circle cx="97.2" cy="223.4" r="1.5"/><circle cx="97.2" cy="230.7" r="1.5"/><circle cx="97.2" cy="230.1" r="1.5"/><circle cx="97.2" cy="223" r="1.5"/><circle cx="97.2" cy="230.3" r="1.5"/><circle cx="97.2" cy="224.6" r="1.5"/><circle cx="97.2" cy="196.2" r="1.5"/><circle cx="116.6" cy="229.5" r="1.5"/><circle cx="116.6" cy="202.3" r="1.5"/><circle cx="116.6" cy="229.5" r="1.5"/><circle cx="116.6" cy="226.8" r="1.5"/><circle cx="116.6" cy="225.9" r="1.5"/><circle cx="116.6" cy="224.3" r="1.5"/><circle cx="116.6" cy="222.6" r="1.5"/><circle cx="116.6" cy="220.8" r="1.5"/><circle cx="116.6" cy="219.2" r="1.5"/><circle cx="116.6" cy="217.3" r="1.5"/><circle cx="116.6" cy="215.7" r="1.5"/><circle cx="116.6" cy="214.5" r="1.5"/><circle cx="116.6" cy="212" r="1.5"/><circle cx="116.6" cy="210.5" r="1.5"/><circle cx="116.6" cy="210.2" r="1.5"/><circle cx="116.6" cy="207.4" r="1.5"/><circle cx="116.6" cy="205.6" r="1.5"/><circle cx="116.6" cy="204.2" r="1.5"/><circle cx="116.6" cy="203.7" r="1.5"/><circle cx="116.6" cy="207.3" r="1.5"/><circle cx="116.6" cy="218.7" r="1.5"/><circle cx="116.6" cy="210.5" r="1.5"/><circle cx="116.6" cy="211.3" r="1.5"/><circle cx="116.6" cy="203.1" r="1.5"/><circle cx="116.6" cy="214" r="1.5"/><circle cx="116.6" cy="211.4" r="1.5"/><circle cx="116.6" cy="208.6" r="1.5"/><circle cx="116.6" cy="208.7" r="1.5"/><circle cx="116.6" cy="208" r="1.5"/><circle cx="116.6" cy="210.5" r="1.5"/><circle cx="116.6" cy="216.8" r="1.5"/><circle cx="116.6" cy="204" r="1.5"/><circle cx="116.6" cy="210.4" r="1.5"/><circle cx="116.6" cy="214.8" r="1.5"/><circle cx="116.6" cy="205.1" r="1.5"/><circle cx="116.6" cy="216.5" r="1.5"/><circle cx="116.6" cy="209.7" r="1.5"/><circle cx="116.6" cy="220" r="1.5"/><circle cx="116.6" cy="203.2" r="1.5"/><circle cx="116.6" cy="217.8" r="1.5"/><circle cx="116.6" cy="209.3" r="1.5"/><circle cx="116.6" cy="243.2" r="1.5"/><circle cx="116.6" cy="197.7" r="1.5"/><circle cx="120.5" cy="232.6" r="1.5"/><circle cx="120.5" cy="203.8" r="1.5"/><circle cx="120.5" cy="231.4" r="1.5"/><circle cx="120.5" cy="230" r="1.5"/><circle cx="120.5" cy="227.9" r="1.5"/><circle cx="120.5" cy="226.8" r="1.5"/><circle cx="120.5" cy="224.3" r="1.5"/><circle cx="120.5" cy="223.2" r="1.5"/><circle cx="120.5" cy="222" r="1.5"/><circle cx="120.5" cy="220.3" r="1.5"/><circle cx="120.5" cy="218.8" r="1.5"/><circle cx="120.5" cy="216.5" r="1.5"/><circle cx="120.5" cy="215.5" r="1.5"/><circle cx="120.5" cy="213.2" r="1.5"/><circle cx="120.5" cy="212" r="1.5"/><circle cx="120.5" cy="209.7" r="1.5"/><circle cx="120.5" cy="208" r="1.5"/><circle cx="120.5" cy="206.3" r="1.5"/><circle cx="120.5" cy="204" r="1.5"/><circle cx="120.5" cy="216" r="1.5"/><circle cx="120.5" cy="211.9" r="1.5"/><circle cx="120.5" cy="220.3" r="1.5"/><circle cx="120.5" cy="210.8" r="1.5"/><circle cx="120.5" cy="218.5" r="1.5"/><circle cx="120.5" cy="222.8" r="1.5"/><circle cx="120.5" cy="217" r="1.5"/><circle cx="120.5" cy="207.8" r="1.5"/><circle cx="120.5" cy="210" r="1.5"/><circle cx="120.5" cy="213" r="1.5"/><circle cx="120.5" cy="218.2" r="1.5"/><circle cx="120.5" cy="219.2" r="1.5"/><circle cx="120.5" cy="204" r="1.5"/><circle cx="120.5" cy="210.9" r="1.5"/><circle cx="120.5" cy="218.4" r="1.5"/><circle cx="120.5" cy="225.6" r="1.5"/><circle cx="120.5" cy="221" r="1.5"/><circle cx="120.5" cy="219.6" r="1.5"/><circle cx="120.5" cy="212.9" r="1.5"/><circle cx="120.5" cy="211.1" r="1.5"/><circle cx="120.5" cy="213.4" r="1.5"/><circle cx="120.5" cy="214.2" r="1.5"/><circle cx="120.5" cy="237.1" r="1.5"/><circle cx="124.4" cy="234.1" r="1.5"/><circle cx="124.4" cy="193.2" r="1.5"/><circle cx="124.4" cy="233.5" r="1.5"/><circle cx="124.4" cy="230.6" r="1.5"/><circle cx="124.4" cy="229.7" r="1.5"/><circle cx="124.4" cy="227.6" r="1.5"/><circle cx="124.4" cy="225.7" r="1.5"/><circle cx="124.4" cy="223.4" r="1.5"/><circle cx="124.4" cy="222.5" r="1.5"/><circle cx="124.4" cy="220.3" r="1.5"/><circle cx="124.4" cy="218.4" r="1.5"/><circle cx="124.4" cy="216.3" r="1.5"/><circle cx="124.4" cy="214" r="1.5"/><circle cx="124.4" cy="213.1" r="1.5"/><circle cx="124.4" cy="210.2" r="1.5"/><circle cx="124.4" cy="209.2" r="1.5"/><circle cx="124.4" cy="207.1" r="1.5"/><circle cx="124.4" cy="205.7" r="1.5"/><circle cx="124.4" cy="203.4" r="1.5"/><circle cx="124.4" cy="200.7" r="1.5"/><circle cx="124.4" cy="199.4" r="1.5"/><circle cx="124.4" cy="197.3" r="1.5"/><circle cx="124.4" cy="196.3" r="1.5"/><circle cx="124.4" cy="194.5" r="1.5"/><circle cx="124.4" cy="217.7" r="1.5"/><circle cx="124.4" cy="209.1" r="1.5"/><circle cx="124.4" cy="194.2" r="1.5"/><circle cx="124.4" cy="215.8" r="1.5"/><circle cx="124.4" cy="217.1" r="1.5"/><circle cx="124.4" cy="201.9" r="1.5"/><circle cx="124.4" cy="197.1" r="1.5"/><circle cx="124.4" cy="212.8" r="1.5"/><circle cx="124.4" cy="198.3" r="1.5"/><circle cx="124.4" cy="203.2" r="1.5"/><circle cx="124.4" cy="199.7" r="1.5"/><circle cx="124.4" cy="205.2" r="1.5"/><circle cx="124.4" cy="194.7" r="1.5"/><circle cx="124.4" cy="211.2" r="1.5"/><circle cx="124.4" cy="214" r="1.5"/><circle cx="124.4" cy="218.6" r="1.5"/><circle cx="124.4" cy="195.2" r="1.5"/><circle cx="124.4" cy="212" r="1.5"/><circle cx="124.4" cy="214.7" r="1.5"/><circle cx="124.4" cy="213.8" r="1.5"/><circle cx="124.4" cy="209.4" r="1.5"/><circle cx="124.4" cy="216.8" r="1.5"/><circle cx="124.4" cy="208.1" r="1.5"/><circle cx="124.4" cy="211" r="1.5"/><circle cx="124.4" cy="210.4" r="1.5"/><circle cx="124.4" cy="214" r="1.5"/><circle cx="124.4" cy="205.1" r="1.5"/><circle cx="124.4" cy="188.7" r="1.5"/><circle cx="124.4" cy="182.6" r="1.5"/><circle cx="124.4" cy="241.7" r="1.5"/><circle cx="124.4" cy="249.2" r="1.5"/><circle cx="124.4" cy="256.8" r="1.5"/><circle cx="140" cy="211.4" r="1.5"/><circle cx="140" cy="188.7" r="1.5"/><circle cx="140" cy="211.1" r="1.5"/><circle cx="140" cy="209.6" r="1.5"/><circle cx="140" cy="206.5" r="1.5"/><circle cx="140" cy="204.5" r="1.5"/><circle cx="140" cy="203.2" r="1.5"/><circle cx="140" cy="202" r="1.5"/><circle cx="140" cy="199.5" r="1.5"/><circle cx="140" cy="197.8" r="1.5"/><circle cx="140" cy="196.4" r="1.5"/><circle cx="140" cy="195.2" r="1.5"/><circle cx="140" cy="193.4" r="1.5"/><circle cx="140" cy="191.4" r="1.5"/><circle cx="140" cy="189.9" r="1.5"/><circle cx="140" cy="197.8" r="1.5"/><circle cx="140" cy="201.9" r="1.5"/><circle cx="140" cy="192.5" r="1.5"/><circle cx="140" cy="194" r="1.5"/><circle cx="140" cy="196.1" r="1.5"/><circle cx="140" cy="196.8" r="1.5"/><circle cx="140" cy="196.1" r="1.5"/><circle cx="140" cy="188.9" r="1.5"/><circle cx="140" cy="189.4" r="1.5"/><circle cx="140" cy="205.3" r="1.5"/><circle cx="140" cy="200.5" r="1.5"/><circle cx="140" cy="196.3" r="1.5"/><circle cx="140" cy="195.2" r="1.5"/><circle cx="140" cy="200.5" r="1.5"/><circle cx="140" cy="191.2" r="1.5"/><circle cx="140" cy="200.8" r="1.5"/><circle cx="140" cy="172" r="1.5"/><circle cx="153.7" cy="199.3" r="1.5"/><circle cx="153.7" cy="175.8" r="1.5"/><circle cx="153.7" cy="198.6" r="1.5"/><circle cx="153.7" cy="197.4" r="1.5"/><circle cx="153.7" cy="196.5" r="1.5"/><circle cx="153.7" cy="194.5" r="1.5"/><circle cx="153.7" cy="193.8" r="1.5"/><circle cx="153.7" cy="192.5" r="1.5"/><circle cx="153.7" cy="191.4" r="1.5"/><circle cx="153.7" cy="190.1" r="1.5"/><circle cx="153.7" cy="187.9" r="1.5"/><circle cx="153.7" cy="187.4" r="1.5"/><circle cx="153.7" cy="185" r="1.5"/><circle cx="153.7" cy="184.8" r="1.5"/><circle cx="153.7" cy="182.5" r="1.5"/><circle cx="153.7" cy="182.1" r="1.5"/><circle cx="153.7" cy="181" r="1.5"/><circle cx="153.7" cy="178.8" r="1.5"/><circle cx="153.7" cy="178.1" r="1.5"/><circle cx="153.7" cy="176.1" r="1.5"/><circle cx="153.7" cy="182.2" r="1.5"/><circle cx="153.7" cy="181.3" r="1.5"/><circle cx="153.7" cy="181.6" r="1.5"/><circle cx="153.7" cy="190.8" r="1.5"/><circle cx="153.7" cy="177.8" r="1.5"/><circle cx="153.7" cy="189.3" r="1.5"/><circle cx="153.7" cy="176.6" r="1.5"/><circle cx="153.7" cy="179.2" r="1.5"/><circle cx="153.7" cy="184.3" r="1.5"/><circle cx="153.7" cy="188.3" r="1.5"/><circle cx="153.7" cy="179.3" r="1.5"/><circle cx="153.7" cy="184.4" r="1.5"/><circle cx="153.7" cy="184.6" r="1.5"/><circle cx="153.7" cy="182" r="1.5"/><circle cx="153.7" cy="182.8" r="1.5"/><circle cx="153.7" cy="188.3" r="1.5"/><circle cx="153.7" cy="190.5" r="1.5"/><circle cx="153.7" cy="179" r="1.5"/><circle cx="153.7" cy="180.7" r="1.5"/><circle cx="153.7" cy="183.2" r="1.5"/><circle cx="153.7" cy="185.9" r="1.5"/><circle cx="153.7" cy="179.1" r="1.5"/><circle cx="153.7" cy="187.3" r="1.5"/><circle cx="153.7" cy="178.3" r="1.5"/><circle cx="153.7" cy="170.5" r="1.5"/><circle cx="153.7" cy="205.3" r="1.5"/><circle cx="153.7" cy="211.4" r="1.5"/><circle cx="153.7" cy="217.4" r="1.5"/><circle cx="153.7" cy="231.1" r="1.5"/><circle cx="153.7" cy="242.4" r="1.5"/></g>
<path class="d" d="M28.9 279.5L169.3 170.5"/>
<rect class="s" x="22.5" y="165.5" width="153.2" height="119.0"/>
<path class="tk" d="M30.9 284.5v1.9M50.4 284.5v1.9M69.9 284.5v1.9M89.4 284.5v1.9M108.8 284.5v1.9M128.3 284.5v1.9M147.8 284.5v1.9M167.3 284.5v1.9M22.5 278h-1.9M22.5 262.8h-1.9M22.5 247.7h-1.9M22.5 232.6h-1.9M22.5 217.4h-1.9M22.5 202.3h-1.9M22.5 187.2h-1.9M22.5 172h-1.9"/>
<text class="k" text-anchor="middle" x="30.9" y="291.9">−1</text>
<text class="k" text-anchor="middle" x="50.4" y="291.9">0</text>
<text class="k" text-anchor="middle" x="69.9" y="291.9">1</text>
<text class="k" text-anchor="middle" x="89.4" y="291.9">2</text>
<text class="k" text-anchor="middle" x="108.8" y="291.9">3</text>
<text class="k" text-anchor="middle" x="128.3" y="291.9">4</text>
<text class="k" text-anchor="middle" x="147.8" y="291.9">5</text>
<text class="k" text-anchor="middle" x="167.3" y="291.9">6</text>
<text class="k" text-anchor="end" x="19.6" y="280">−1</text>
<text class="k" text-anchor="end" x="19.6" y="264.8">0</text>
<text class="k" text-anchor="end" x="19.6" y="249.7">1</text>
<text class="k" text-anchor="end" x="19.6" y="234.6">2</text>
<text class="k" text-anchor="end" x="19.6" y="219.4">3</text>
<text class="k" text-anchor="end" x="19.6" y="204.3">4</text>
<text class="k" text-anchor="end" x="19.6" y="189.2">5</text>
<text class="k" text-anchor="end" x="19.6" y="174">6</text>
<text class="t" transform="translate(99.1 163.2) scale(1.016 1)">Motor vehicle: R² = 0.869</text>
<text class="l" transform="translate(99.1 300.3) scale(1.04 1)">True Values (%)</text>
<text class="l" transform="translate(9.9 225) rotate(-90) scale(1.04 1)">Predicted Values (%)</text>
</g>
<g>
<g class="p"><circle cx="227.4" cy="271.6" r="1.5"/><circle cx="227.4" cy="259.4" r="1.5"/><circle cx="227.4" cy="271" r="1.5"/><circle cx="227.4" cy="270" r="1.5"/><circle cx="227.4" cy="268.6" r="1.5"/><circle cx="227.4" cy="268.1" r="1.5"/><circle cx="227.4" cy="266.3" r="1.5"/><circle cx="227.4" cy="265.7" r="1.5"/><circle cx="227.4" cy="264.2" r="1.5"/><circle cx="227.4" cy="263.1" r="1.5"/><circle cx="227.4" cy="262.3" r="1.5"/><circle cx="227.4" cy="261.2" r="1.5"/><circle cx="227.4" cy="259.6" r="1.5"/><circle cx="227.4" cy="267" r="1.5"/><circle cx="227.4" cy="263.6" r="1.5"/><circle cx="227.4" cy="269.5" r="1.5"/><circle cx="227.4" cy="270" r="1.5"/><circle cx="227.4" cy="268.8" r="1.5"/><circle cx="227.4" cy="261.3" r="1.5"/><circle cx="227.4" cy="265.3" r="1.5"/><circle cx="227.4" cy="269.4" r="1.5"/><circle cx="227.4" cy="269.7" r="1.5"/><circle cx="227.4" cy="264.8" r="1.5"/><circle cx="227.4" cy="263" r="1.5"/><circle cx="227.4" cy="268.6" r="1.5"/><circle cx="227.4" cy="269.8" r="1.5"/><circle cx="227.4" cy="269.3" r="1.5"/><circle cx="227.4" cy="265.5" r="1.5"/><circle cx="227.4" cy="279.5" r="1.5"/><circle cx="227.4" cy="255.1" r="1.5"/><circle cx="227.4" cy="253" r="1.5"/><circle cx="227.4" cy="248.7" r="1.5"/><circle cx="227.4" cy="245.8" r="1.5"/><circle cx="227.4" cy="242.9" r="1.5"/><circle cx="227.4" cy="240.1" r="1.5"/><circle cx="227.4" cy="219.3" r="1.5"/><circle cx="242.2" cy="260.8" r="1.5"/><circle cx="242.2" cy="242.9" r="1.5"/><circle cx="242.2" cy="260.2" r="1.5"/><circle cx="242.2" cy="257.8" r="1.5"/><circle cx="242.2" cy="256.2" r="1.5"/><circle cx="242.2" cy="253.9" r="1.5"/><circle cx="242.2" cy="252.2" r="1.5"/><circle cx="242.2" cy="251.4" r="1.5"/><circle cx="242.2" cy="250.1" r="1.5"/><circle cx="242.2" cy="247.8" r="1.5"/><circle cx="242.2" cy="245.7" r="1.5"/><circle cx="242.2" cy="243.7" r="1.5"/><circle cx="242.2" cy="252.2" r="1.5"/><circle cx="242.2" cy="248.4" r="1.5"/><circle cx="242.2" cy="253.5" r="1.5"/><circle cx="242.2" cy="252.5" r="1.5"/><circle cx="242.2" cy="258.3" r="1.5"/><circle cx="242.2" cy="256.8" r="1.5"/><circle cx="242.2" cy="251.3" r="1.5"/><circle cx="242.2" cy="258.9" r="1.5"/><circle cx="242.2" cy="256.4" r="1.5"/><circle cx="242.2" cy="254.1" r="1.5"/><circle cx="242.2" cy="257.8" r="1.5"/><circle cx="242.2" cy="253.5" r="1.5"/><circle cx="242.2" cy="249.3" r="1.5"/><circle cx="242.2" cy="239.3" r="1.5"/><circle cx="242.2" cy="235.8" r="1.5"/><circle cx="242.2" cy="232.2" r="1.5"/><circle cx="242.2" cy="229.3" r="1.5"/><circle cx="242.2" cy="207.8" r="1.5"/><circle cx="244.5" cy="262.3" r="1.5"/><circle cx="244.5" cy="242.2" r="1.5"/><circle cx="244.5" cy="260.8" r="1.5"/><circle cx="244.5" cy="260.4" r="1.5"/><circle cx="244.5" cy="258.3" r="1.5"/><circle cx="244.5" cy="256.6" r="1.5"/><circle cx="244.5" cy="255.4" r="1.5"/><circle cx="244.5" cy="254.2" r="1.5"/><circle cx="244.5" cy="252.6" r="1.5"/><circle cx="244.5" cy="250.3" r="1.5"/><circle cx="244.5" cy="248.7" r="1.5"/><circle cx="244.5" cy="247.7" r="1.5"/><circle cx="244.5" cy="246.7" r="1.5"/><circle cx="244.5" cy="244" r="1.5"/><circle cx="244.5" cy="242.6" r="1.5"/><circle cx="244.5" cy="254.1" r="1.5"/><circle cx="244.5" cy="249" r="1.5"/><circle cx="244.5" cy="247.5" r="1.5"/><circle cx="244.5" cy="260.2" r="1.5"/><circle cx="244.5" cy="259.7" r="1.5"/><circle cx="244.5" cy="255.4" r="1.5"/><circle cx="244.5" cy="257.1" r="1.5"/><circle cx="244.5" cy="256.3" r="1.5"/><circle cx="244.5" cy="253.8" r="1.5"/><circle cx="244.5" cy="252.2" r="1.5"/><circle cx="244.5" cy="256" r="1.5"/><circle cx="244.5" cy="258.7" r="1.5"/><circle cx="244.5" cy="258.8" r="1.5"/><circle cx="244.5" cy="256.5" r="1.5"/><circle cx="244.5" cy="257.2" r="1.5"/><circle cx="244.5" cy="255" r="1.5"/><circle cx="244.5" cy="235.8" r="1.5"/><circle cx="244.5" cy="230.7" r="1.5"/><circle cx="244.5" cy="225.7" r="1.5"/><circle cx="244.5" cy="225" r="1.5"/><circle cx="244.5" cy="212.8" r="1.5"/><circle cx="244.5" cy="189.9" r="1.5"/><circle cx="269.9" cy="242.9" r="1.5"/><circle cx="269.9" cy="221.4" r="1.5"/><circle cx="269.9" cy="242.8" r="1.5"/><circle cx="269.9" cy="236.8" r="1.5"/><circle cx="269.9" cy="235.6" r="1.5"/><circle cx="269.9" cy="233.4" r="1.5"/><circle cx="269.9" cy="228.7" r="1.5"/><circle cx="269.9" cy="225.1" r="1.5"/><circle cx="269.9" cy="224" r="1.5"/><circle cx="269.9" cy="238.6" r="1.5"/><circle cx="269.9" cy="237.5" r="1.5"/><circle cx="269.9" cy="236" r="1.5"/><circle cx="269.9" cy="235.2" r="1.5"/><circle cx="269.9" cy="232.1" r="1.5"/><circle cx="269.9" cy="231.4" r="1.5"/><circle cx="269.9" cy="239.1" r="1.5"/><circle cx="269.9" cy="238.4" r="1.5"/><circle cx="269.9" cy="236.5" r="1.5"/><circle cx="269.9" cy="253" r="1.5"/><circle cx="269.9" cy="249.4" r="1.5"/><circle cx="269.9" cy="246.5" r="1.5"/><circle cx="269.9" cy="214.2" r="1.5"/><circle cx="269.9" cy="209.2" r="1.5"/><circle cx="269.9" cy="197.8" r="1.5"/><circle cx="290.2" cy="232.2" r="1.5"/><circle cx="290.2" cy="210.7" r="1.5"/><circle cx="290.2" cy="231.1" r="1.5"/><circle cx="290.2" cy="230.3" r="1.5"/><circle cx="290.2" cy="228.2" r="1.5"/><circle cx="290.2" cy="227.1" r="1.5"/><circle cx="290.2" cy="225.7" r="1.5"/><circle cx="290.2" cy="224.2" r="1.5"/><circle cx="290.2" cy="223.8" r="1.5"/><circle cx="290.2" cy="222.7" r="1.5"/><circle cx="290.2" cy="221.1" r="1.5"/><circle cx="290.2" cy="219.8" r="1.5"/><circle cx="290.2" cy="218.6" r="1.5"/><circle cx="290.2" cy="217.3" r="1.5"/><circle cx="290.2" cy="215.3" r="1.5"/><circle cx="290.2" cy="213.5" r="1.5"/><circle cx="290.2" cy="212.7" r="1.5"/><circle cx="290.2" cy="210.7" r="1.5"/><circle cx="290.2" cy="217.8" r="1.5"/><circle cx="290.2" cy="220.2" r="1.5"/><circle cx="290.2" cy="223.1" r="1.5"/><circle cx="290.2" cy="222" r="1.5"/><circle cx="290.2" cy="211.2" r="1.5"/><circle cx="290.2" cy="219.5" r="1.5"/><circle cx="290.2" cy="213.2" r="1.5"/><circle cx="290.2" cy="226.7" r="1.5"/><circle cx="290.2" cy="228.3" r="1.5"/><circle cx="290.2" cy="221.5" r="1.5"/><circle cx="290.2" cy="223.4" r="1.5"/><circle cx="290.2" cy="221.9" r="1.5"/><circle cx="290.2" cy="218.4" r="1.5"/><circle cx="290.2" cy="222.4" r="1.5"/><circle cx="290.2" cy="219" r="1.5"/><circle cx="290.2" cy="218" r="1.5"/><circle cx="290.2" cy="219.4" r="1.5"/><circle cx="290.2" cy="214.9" r="1.5"/><circle cx="290.2" cy="211" r="1.5"/><circle cx="290.2" cy="225.1" r="1.5"/><circle cx="290.2" cy="239.3" r="1.5"/><circle cx="290.2" cy="242.2" r="1.5"/><circle cx="290.2" cy="268.7" r="1.5"/><circle cx="290.2" cy="186.3" r="1.5"/><circle cx="290.2" cy="173.4" r="1.5"/><circle cx="293" cy="228.6" r="1.5"/><circle cx="293" cy="209.2" r="1.5"/><circle cx="293" cy="227.6" r="1.5"/><circle cx="293" cy="227.3" r="1.5"/><circle cx="293" cy="225.2" r="1.5"/><circle cx="293" cy="224.1" r="1.5"/><circle cx="293" cy="223" r="1.5"/><circle cx="293" cy="221.3" r="1.5"/><circle cx="293" cy="221.3" r="1.5"/><circle cx="293" cy="219.9" r="1.5"/><circle cx="293" cy="218" r="1.5"/><circle cx="293" cy="216.6" r="1.5"/><circle cx="293" cy="215.7" r="1.5"/><circle cx="293" cy="214.9" r="1.5"/><circle cx="293" cy="213.4" r="1.5"/><circle cx="293" cy="211.9" r="1.5"/><circle cx="293" cy="211.5" r="1.5"/><circle cx="293" cy="210" r="1.5"/><circle cx="293" cy="217.2" r="1.5"/><circle cx="293" cy="215" r="1.5"/><circle cx="293" cy="219.7" r="1.5"/><circle cx="293" cy="216.8" r="1.5"/><circle cx="293" cy="216.9" r="1.5"/><circle cx="293" cy="214.8" r="1.5"/><circle cx="293" cy="217.4" r="1.5"/><circle cx="293" cy="217.7" r="1.5"/><circle cx="293" cy="217.7" r="1.5"/><circle cx="293" cy="219.8" r="1.5"/><circle cx="293" cy="215" r="1.5"/><circle cx="293" cy="215.3" r="1.5"/><circle cx="293" cy="211.2" r="1.5"/><circle cx="293" cy="223.7" r="1.5"/><circle cx="293" cy="214.2" r="1.5"/><circle cx="293" cy="213.6" r="1.5"/><circle cx="293" cy="211.6" r="1.5"/><circle cx="293" cy="213.9" r="1.5"/><circle cx="293" cy="222.1" r="1.5"/><circle cx="293" cy="220.8" r="1.5"/><circle cx="293" cy="232.9" r="1.5"/><circle cx="293" cy="183.4" r="1.5"/><circle cx="314.2" cy="212.1" r="1.5"/><circle cx="314.2" cy="189.2" r="1.5"/><circle cx="314.2" cy="210.9" r="1.5"/><circle cx="314.2" cy="210" r="1.5"/><circle cx="314.2" cy="208.3" r="1.5"/><circle cx="314.2" cy="207.6" r="1.5"/><circle cx="314.2" cy="206" r="1.5"/><circle cx="314.2" cy="204.8" r="1.5"/><circle cx="314.2" cy="202.5" r="1.5"/><circle cx="314.2" cy="201.3" r="1.5"/><circle cx="314.2" cy="200.4" r="1.5"/><circle cx="314.2" cy="197.9" r="1.5"/><circle cx="314.2" cy="197.4" r="1.5"/><circle cx="314.2" cy="195.7" r="1.5"/><circle cx="314.2" cy="194.7" r="1.5"/><circle cx="314.2" cy="193.1" r="1.5"/><circle cx="314.2" cy="190.8" r="1.5"/><circle cx="314.2" cy="190.1" r="1.5"/><circle cx="314.2" cy="199.3" r="1.5"/><circle cx="314.2" cy="197.8" r="1.5"/><circle cx="314.2" cy="195.6" r="1.5"/><circle cx="314.2" cy="205.1" r="1.5"/><circle cx="314.2" cy="190.8" r="1.5"/><circle cx="314.2" cy="190.2" r="1.5"/><circle cx="314.2" cy="191.5" r="1.5"/><circle cx="314.2" cy="190.7" r="1.5"/><circle cx="314.2" cy="196.9" r="1.5"/><circle cx="314.2" cy="202.3" r="1.5"/><circle cx="314.2" cy="203.6" r="1.5"/><circle cx="314.2" cy="204.7" r="1.5"/><circle cx="314.2" cy="200" r="1.5"/><circle cx="314.2" cy="200.8" r="1.5"/><circle cx="314.2" cy="197.3" r="1.5"/><circle cx="314.2" cy="210.7" r="1.5"/><circle cx="314.2" cy="189.3" r="1.5"/><circle cx="314.2" cy="200.8" r="1.5"/><circle cx="314.2" cy="197.3" r="1.5"/><circle cx="314.2" cy="198.3" r="1.5"/><circle cx="314.2" cy="185.6" r="1.5"/><circle cx="314.2" cy="182" r="1.5"/><circle cx="314.2" cy="215" r="1.5"/><circle cx="314.2" cy="239.3" r="1.5"/><circle cx="314.2" cy="243.6" r="1.5"/><circle cx="320.6" cy="207.1" r="1.5"/><circle cx="320.6" cy="180.6" r="1.5"/><circle cx="320.6" cy="205.9" r="1.5"/><circle cx="320.6" cy="205.7" r="1.5"/><circle cx="320.6" cy="203.5" r="1.5"/><circle cx="320.6" cy="202.7" r="1.5"/><circle cx="320.6" cy="200.5" r="1.5"/><circle cx="320.6" cy="200.4" r="1.5"/><circle cx="320.6" cy="198.1" r="1.5"/><circle cx="320.6" cy="197.3" r="1.5"/><circle cx="320.6" cy="196.3" r="1.5"/><circle cx="320.6" cy="195.1" r="1.5"/><circle cx="320.6" cy="192.7" r="1.5"/><circle cx="320.6" cy="191.8" r="1.5"/><circle cx="320.6" cy="190.9" r="1.5"/><circle cx="320.6" cy="189.3" r="1.5"/><circle cx="320.6" cy="187.3" r="1.5"/><circle cx="320.6" cy="186.9" r="1.5"/><circle cx="320.6" cy="185.1" r="1.5"/><circle cx="320.6" cy="184.3" r="1.5"/><circle cx="320.6" cy="183" r="1.5"/><circle cx="320.6" cy="180.9" r="1.5"/><circle cx="320.6" cy="196.5" r="1.5"/><circle cx="320.6" cy="199.3" r="1.5"/><circle cx="320.6" cy="193.4" r="1.5"/><circle cx="320.6" cy="194.4" r="1.5"/><circle cx="320.6" cy="200.8" r="1.5"/><circle cx="320.6" cy="199.9" r="1.5"/><circle cx="320.6" cy="196.2" r="1.5"/><circle cx="320.6" cy="191.7" r="1.5"/><circle cx="320.6" cy="202.5" r="1.5"/><circle cx="320.6" cy="201.5" r="1.5"/><circle cx="320.6" cy="192.7" r="1.5"/><circle cx="320.6" cy="202.7" r="1.5"/><circle cx="320.6" cy="195" r="1.5"/><circle cx="320.6" cy="193.6" r="1.5"/><circle cx="320.6" cy="196.2" r="1.5"/><circle cx="320.6" cy="201.5" r="1.5"/><circle cx="320.6" cy="196" r="1.5"/><circle cx="320.6" cy="197.5" r="1.5"/><circle cx="320.6" cy="193.7" r="1.5"/><circle cx="320.6" cy="200.4" r="1.5"/><circle cx="320.6" cy="189.3" r="1.5"/><circle cx="320.6" cy="205.3" r="1.5"/><circle cx="320.6" cy="196.6" r="1.5"/><circle cx="320.6" cy="195.6" r="1.5"/><circle cx="320.6" cy="190.1" r="1.5"/><circle cx="320.6" cy="199.1" r="1.5"/><circle cx="320.6" cy="176.3" r="1.5"/><circle cx="320.6" cy="208.5" r="1.5"/><circle cx="330.8" cy="203.5" r="1.5"/><circle cx="330.8" cy="182" r="1.5"/><circle cx="330.8" cy="202.4" r="1.5"/><circle cx="330.8" cy="201.9" r="1.5"/><circle cx="330.8" cy="200.7" r="1.5"/><circle cx="330.8" cy="198.6" r="1.5"/><circle cx="330.8" cy="198" r="1.5"/><circle cx="330.8" cy="197" r="1.5"/><circle cx="330.8" cy="195.4" r="1.5"/><circle cx="330.8" cy="193.9" r="1.5"/><circle cx="330.8" cy="193.4" r="1.5"/><circle cx="330.8" cy="191.5" r="1.5"/><circle cx="330.8" cy="190.3" r="1.5"/><circle cx="330.8" cy="188.9" r="1.5"/><circle cx="330.8" cy="188.2" r="1.5"/><circle cx="330.8" cy="186.1" r="1.5"/><circle cx="330.8" cy="184.8" r="1.5"/><circle cx="330.8" cy="183.4" r="1.5"/><circle cx="330.8" cy="182.8" r="1.5"/><circle cx="330.8" cy="189.5" r="1.5"/><circle cx="330.8" cy="192.9" r="1.5"/><circle cx="330.8" cy="188.4" r="1.5"/><circle cx="330.8" cy="190.1" r="1.5"/><circle cx="330.8" cy="196.8" r="1.5"/><circle cx="330.8" cy="194" r="1.5"/><circle cx="330.8" cy="188.3" r="1.5"/><circle cx="330.8" cy="194.1" r="1.5"/><circle cx="330.8" cy="189.5" r="1.5"/><circle cx="330.8" cy="186.9" r="1.5"/><circle cx="330.8" cy="188" r="1.5"/><circle cx="330.8" cy="185.5" r="1.5"/><circle cx="330.8" cy="185.6" r="1.5"/><circle cx="330.8" cy="186.3" r="1.5"/><circle cx="330.8" cy="188" r="1.5"/><circle cx="330.8" cy="189.5" r="1.5"/><circle cx="330.8" cy="182.5" r="1.5"/><circle cx="330.8" cy="184.3" r="1.5"/><circle cx="330.8" cy="188.1" r="1.5"/><circle cx="330.8" cy="187.6" r="1.5"/><circle cx="330.8" cy="193.4" r="1.5"/><circle cx="330.8" cy="192" r="1.5"/><circle cx="330.8" cy="209.2" r="1.5"/><circle cx="330.8" cy="213.5" r="1.5"/><circle cx="330.8" cy="220" r="1.5"/><circle cx="332.6" cy="199.9" r="1.5"/><circle cx="332.6" cy="178.4" r="1.5"/><circle cx="332.6" cy="199.2" r="1.5"/><circle cx="332.6" cy="197.8" r="1.5"/><circle cx="332.6" cy="197.2" r="1.5"/><circle cx="332.6" cy="195" r="1.5"/><circle cx="332.6" cy="193.9" r="1.5"/><circle cx="332.6" cy="193.5" r="1.5"/><circle cx="332.6" cy="192.2" r="1.5"/><circle cx="332.6" cy="190.4" r="1.5"/><circle cx="332.6" cy="189.2" r="1.5"/><circle cx="332.6" cy="188.2" r="1.5"/><circle cx="332.6" cy="187.1" r="1.5"/><circle cx="332.6" cy="185.5" r="1.5"/><circle cx="332.6" cy="184.6" r="1.5"/><circle cx="332.6" cy="182.7" r="1.5"/><circle cx="332.6" cy="181.1" r="1.5"/><circle cx="332.6" cy="180.7" r="1.5"/><circle cx="332.6" cy="178.9" r="1.5"/><circle cx="332.6" cy="186.3" r="1.5"/><circle cx="332.6" cy="189.1" r="1.5"/><circle cx="332.6" cy="181.2" r="1.5"/><circle cx="332.6" cy="196.1" r="1.5"/><circle cx="332.6" cy="190" r="1.5"/><circle cx="332.6" cy="183.1" r="1.5"/><circle cx="332.6" cy="183.2" r="1.5"/><circle cx="332.6" cy="191.1" r="1.5"/><circle cx="332.6" cy="195.1" r="1.5"/><circle cx="332.6" cy="179.5" r="1.5"/><circle cx="332.6" cy="185.6" r="1.5"/><circle cx="332.6" cy="190.5" r="1.5"/><circle cx="332.6" cy="186" r="1.5"/><circle cx="332.6" cy="182.1" r="1.5"/><circle cx="332.6" cy="198.4" r="1.5"/><circle cx="332.6" cy="181.1" r="1.5"/><circle cx="332.6" cy="182.8" r="1.5"/><circle cx="332.6" cy="196" r="1.5"/><circle cx="332.6" cy="182.7" r="1.5"/><circle cx="332.6" cy="194.6" r="1.5"/><circle cx="332.6" cy="181" r="1.5"/><circle cx="332.6" cy="184.4" r="1.5"/><circle cx="332.6" cy="174.8" r="1.5"/><circle cx="332.6" cy="227.2" r="1.5"/><circle cx="343.7" cy="202.1" r="1.5"/><circle cx="343.7" cy="172.7" r="1.5"/><circle cx="343.7" cy="200.8" r="1.5"/><circle cx="343.7" cy="199.6" r="1.5"/><circle cx="343.7" cy="199.2" r="1.5"/><circle cx="343.7" cy="197.7" r="1.5"/><circle cx="343.7" cy="196.1" r="1.5"/><circle cx="343.7" cy="195.2" r="1.5"/><circle cx="343.7" cy="193.7" r="1.5"/><circle cx="343.7" cy="193" r="1.5"/><circle cx="343.7" cy="191.3" r="1.5"/><circle cx="343.7" cy="189.9" r="1.5"/><circle cx="343.7" cy="189.3" r="1.5"/><circle cx="343.7" cy="187.8" r="1.5"/><circle cx="343.7" cy="185.5" r="1.5"/><circle cx="343.7" cy="184.5" r="1.5"/><circle cx="343.7" cy="183" r="1.5"/><circle cx="343.7" cy="182.1" r="1.5"/><circle cx="343.7" cy="180.6" r="1.5"/><circle cx="343.7" cy="179.2" r="1.5"/><circle cx="343.7" cy="177.9" r="1.5"/><circle cx="343.7" cy="177.7" r="1.5"/><circle cx="343.7" cy="175.7" r="1.5"/><circle cx="343.7" cy="174.9" r="1.5"/><circle cx="343.7" cy="173.1" r="1.5"/><circle cx="343.7" cy="182.7" r="1.5"/><circle cx="343.7" cy="173.6" r="1.5"/><circle cx="343.7" cy="173.6" r="1.5"/><circle cx="343.7" cy="185.6" r="1.5"/><circle cx="343.7" cy="181.5" r="1.5"/><circle cx="343.7" cy="173.7" r="1.5"/><circle cx="343.7" cy="195.8" r="1.5"/><circle cx="343.7" cy="175.1" r="1.5"/><circle cx="343.7" cy="182.8" r="1.5"/><circle cx="343.7" cy="176.2" r="1.5"/><circle cx="343.7" cy="183.4" r="1.5"/><circle cx="343.7" cy="184.1" r="1.5"/><circle cx="343.7" cy="194.7" r="1.5"/><circle cx="343.7" cy="190.4" r="1.5"/><circle cx="343.7" cy="186.5" r="1.5"/><circle cx="343.7" cy="181.9" r="1.5"/><circle cx="343.7" cy="189.2" r="1.5"/><circle cx="343.7" cy="179.8" r="1.5"/><circle cx="343.7" cy="179.5" r="1.5"/><circle cx="343.7" cy="178.8" r="1.5"/><circle cx="343.7" cy="177.9" r="1.5"/><circle cx="343.7" cy="177.6" r="1.5"/><circle cx="343.7" cy="185.9" r="1.5"/><circle cx="343.7" cy="178.6" r="1.5"/><circle cx="343.7" cy="181.4" r="1.5"/><circle cx="343.7" cy="178.7" r="1.5"/><circle cx="343.7" cy="193.2" r="1.5"/><circle cx="343.7" cy="185" r="1.5"/><circle cx="343.7" cy="187.9" r="1.5"/><circle cx="343.7" cy="206.4" r="1.5"/><circle cx="343.7" cy="209.9" r="1.5"/><circle cx="343.7" cy="215" r="1.5"/><circle cx="347.4" cy="194.2" r="1.5"/><circle cx="347.4" cy="171.2" r="1.5"/><circle cx="347.4" cy="193.4" r="1.5"/><circle cx="347.4" cy="192.8" r="1.5"/><circle cx="347.4" cy="191.1" r="1.5"/><circle cx="347.4" cy="190.2" r="1.5"/><circle cx="347.4" cy="189" r="1.5"/><circle cx="347.4" cy="187.7" r="1.5"/><circle cx="347.4" cy="186.8" r="1.5"/><circle cx="347.4" cy="185.8" r="1.5"/><circle cx="347.4" cy="184.7" r="1.5"/><circle cx="347.4" cy="183.6" r="1.5"/><circle cx="347.4" cy="182.1" r="1.5"/><circle cx="347.4" cy="181.1" r="1.5"/><circle cx="347.4" cy="179.7" r="1.5"/><circle cx="347.4" cy="179.3" r="1.5"/><circle cx="347.4" cy="177.7" r="1.5"/><circle cx="347.4" cy="176" r="1.5"/><circle cx="347.4" cy="175.5" r="1.5"/><circle cx="347.4" cy="174" r="1.5"/><circle cx="347.4" cy="173" r="1.5"/><circle cx="347.4" cy="172.1" r="1.5"/><circle cx="347.4" cy="182.2" r="1.5"/><circle cx="347.4" cy="174" r="1.5"/><circle cx="347.4" cy="178.4" r="1.5"/><circle cx="347.4" cy="177.7" r="1.5"/><circle cx="347.4" cy="181" r="1.5"/><circle cx="347.4" cy="174" r="1.5"/><circle cx="347.4" cy="179.8" r="1.5"/><circle cx="347.4" cy="177.5" r="1.5"/><circle cx="347.4" cy="182.2" r="1.5"/><circle cx="347.4" cy="174.6" r="1.5"/><circle cx="347.4" cy="178.3" r="1.5"/><circle cx="347.4" cy="180.5" r="1.5"/><circle cx="347.4" cy="176.2" r="1.5"/><circle cx="347.4" cy="178.3" r="1.5"/><circle cx="347.4" cy="181" r="1.5"/><circle cx="347.4" cy="180.5" r="1.5"/><circle cx="347.4" cy="174.1" r="1.5"/><circle cx="347.4" cy="181.2" r="1.5"/><circle cx="347.4" cy="184.3" r="1.5"/><circle cx="347.4" cy="172.7" r="1.5"/><circle cx="347.4" cy="185.6" r="1.5"/><circle cx="347.4" cy="186.2" r="1.5"/><circle cx="347.4" cy="179" r="1.5"/><circle cx="347.4" cy="178.5" r="1.5"/><circle cx="347.4" cy="186.5" r="1.5"/><circle cx="347.4" cy="186.8" r="1.5"/><circle cx="347.4" cy="203.5" r="1.5"/><circle cx="347.4" cy="232.2" r="1.5"/></g>
<path class="d" d="M212.7 279.5L352 171.2"/>
<rect class="s" x="206.2" y="165.5" width="153.2" height="119.0"/>
<path class="tk" d="M213.6 284.5v1.9M236.7 284.5v1.9M259.7 284.5v1.9M282.8 284.5v1.9M305.9 284.5v1.9M328.9 284.5v1.9M352 284.5v1.9M206.2 275.2h-1.9M206.2 260.8h-1.9M206.2 246.5h-1.9M206.2 232.2h-1.9M206.2 217.8h-1.9M206.2 203.5h-1.9M206.2 189.2h-1.9M206.2 174.8h-1.9"/>
<text class="k" text-anchor="middle" x="213.6" y="291.9">7.5</text>
<text class="k" text-anchor="middle" x="236.7" y="291.9">10.0</text>
<text class="k" text-anchor="middle" x="259.7" y="291.9">12.5</text>
<text class="k" text-anchor="middle" x="282.8" y="291.9">15.0</text>
<text class="k" text-anchor="middle" x="305.9" y="291.9">17.5</text>
<text class="k" text-anchor="middle" x="328.9" y="291.9">20.0</text>
<text class="k" text-anchor="middle" x="352" y="291.9">22.5</text>
<text class="k" text-anchor="end" x="203.3" y="277.2">8</text>
<text class="k" text-anchor="end" x="203.3" y="262.8">10</text>
<text class="k" text-anchor="end" x="203.3" y="248.5">12</text>
<text class="k" text-anchor="end" x="203.3" y="234.2">14</text>
<text class="k" text-anchor="end" x="203.3" y="219.8">16</text>
<text class="k" text-anchor="end" x="203.3" y="205.5">18</text>
<text class="k" text-anchor="end" x="203.3" y="191.2">20</text>
<text class="k" text-anchor="end" x="203.3" y="176.8">22</text>
<text class="t" transform="translate(282.8 163.2) scale(1.016 1)">Metallurgical dust: R² = 0.949</text>
<text class="l" transform="translate(282.8 300.3) scale(1.04 1)">True Values (%)</text>
<text class="l" transform="translate(193.3 225) rotate(-90) scale(1.04 1)">Predicted Values (%)</text>
</g>
<g>
<g class="p"><circle cx="402" cy="279.2" r="1.5"/><circle cx="402" cy="264.9" r="1.5"/><circle cx="402" cy="278.5" r="1.5"/><circle cx="402" cy="277.1" r="1.5"/><circle cx="402" cy="276.9" r="1.5"/><circle cx="402" cy="275" r="1.5"/><circle cx="402" cy="274.8" r="1.5"/><circle cx="402" cy="272.9" r="1.5"/><circle cx="402" cy="272" r="1.5"/><circle cx="402" cy="271" r="1.5"/><circle cx="402" cy="269.4" r="1.5"/><circle cx="402" cy="268.7" r="1.5"/><circle cx="402" cy="267.8" r="1.5"/><circle cx="402" cy="266.3" r="1.5"/><circle cx="402" cy="265.1" r="1.5"/><circle cx="402" cy="274.1" r="1.5"/><circle cx="402" cy="277.3" r="1.5"/><circle cx="402" cy="276.8" r="1.5"/><circle cx="402" cy="278.2" r="1.5"/><circle cx="402" cy="273.9" r="1.5"/><circle cx="402" cy="275.4" r="1.5"/><circle cx="402" cy="277.5" r="1.5"/><circle cx="402" cy="278" r="1.5"/><circle cx="402" cy="272.4" r="1.5"/><circle cx="402" cy="277" r="1.5"/><circle cx="402" cy="273.1" r="1.5"/><circle cx="402" cy="273.5" r="1.5"/><circle cx="402" cy="278.3" r="1.5"/><circle cx="402" cy="274.9" r="1.5"/><circle cx="402" cy="273.9" r="1.5"/><circle cx="402" cy="272.5" r="1.5"/><circle cx="402" cy="262.3" r="1.5"/><circle cx="402" cy="259.6" r="1.5"/><circle cx="402" cy="255.4" r="1.5"/><circle cx="402" cy="247.9" r="1.5"/><circle cx="402" cy="240.5" r="1.5"/><circle cx="402" cy="226.2" r="1.5"/><circle cx="402" cy="218.7" r="1.5"/><circle cx="402" cy="195.4" r="1.5"/><circle cx="412.9" cy="272.9" r="1.5"/><circle cx="412.9" cy="253.2" r="1.5"/><circle cx="412.9" cy="272.7" r="1.5"/><circle cx="412.9" cy="270.5" r="1.5"/><circle cx="412.9" cy="269" r="1.5"/><circle cx="412.9" cy="268.2" r="1.5"/><circle cx="412.9" cy="265.4" r="1.5"/><circle cx="412.9" cy="264.8" r="1.5"/><circle cx="412.9" cy="262.5" r="1.5"/><circle cx="412.9" cy="261" r="1.5"/><circle cx="412.9" cy="259.3" r="1.5"/><circle cx="412.9" cy="259" r="1.5"/><circle cx="412.9" cy="257.1" r="1.5"/><circle cx="412.9" cy="254.9" r="1.5"/><circle cx="412.9" cy="254.7" r="1.5"/><circle cx="412.9" cy="261.2" r="1.5"/><circle cx="412.9" cy="264.9" r="1.5"/><circle cx="412.9" cy="266.3" r="1.5"/><circle cx="412.9" cy="265.7" r="1.5"/><circle cx="412.9" cy="271.8" r="1.5"/><circle cx="412.9" cy="261.4" r="1.5"/><circle cx="412.9" cy="266.6" r="1.5"/><circle cx="412.9" cy="267.2" r="1.5"/><circle cx="412.9" cy="269.6" r="1.5"/><circle cx="412.9" cy="263.9" r="1.5"/><circle cx="412.9" cy="269.8" r="1.5"/><circle cx="412.9" cy="268.7" r="1.5"/><circle cx="412.9" cy="260.4" r="1.5"/><circle cx="412.9" cy="268.6" r="1.5"/><circle cx="412.9" cy="268.4" r="1.5"/><circle cx="412.9" cy="266.8" r="1.5"/><circle cx="412.9" cy="250.1" r="1.5"/><circle cx="412.9" cy="247.9" r="1.5"/><circle cx="412.9" cy="242.1" r="1.5"/><circle cx="412.9" cy="239.4" r="1.5"/><circle cx="412.9" cy="236.8" r="1.5"/><circle cx="428.6" cy="259.6" r="1.5"/><circle cx="428.6" cy="246.3" r="1.5"/><circle cx="428.6" cy="259" r="1.5"/><circle cx="428.6" cy="257.3" r="1.5"/><circle cx="428.6" cy="255.4" r="1.5"/><circle cx="428.6" cy="253.7" r="1.5"/><circle cx="428.6" cy="251.5" r="1.5"/><circle cx="428.6" cy="249.7" r="1.5"/><circle cx="428.6" cy="248.8" r="1.5"/><circle cx="428.6" cy="247.3" r="1.5"/><circle cx="428.6" cy="256.3" r="1.5"/><circle cx="428.6" cy="251.3" r="1.5"/><circle cx="428.6" cy="253.6" r="1.5"/><circle cx="428.6" cy="255.9" r="1.5"/><circle cx="428.6" cy="257.6" r="1.5"/><circle cx="428.6" cy="247" r="1.5"/><circle cx="428.6" cy="252.7" r="1.5"/><circle cx="428.6" cy="257.4" r="1.5"/><circle cx="428.6" cy="249.6" r="1.5"/><circle cx="428.6" cy="250.4" r="1.5"/><circle cx="428.6" cy="256.3" r="1.5"/><circle cx="428.6" cy="242.6" r="1.5"/><circle cx="428.6" cy="206" r="1.5"/><circle cx="428.6" cy="200.7" r="1.5"/><circle cx="434.8" cy="259.6" r="1.5"/><circle cx="434.8" cy="243.7" r="1.5"/><circle cx="434.8" cy="258" r="1.5"/><circle cx="434.8" cy="256.6" r="1.5"/><circle cx="434.8" cy="255.8" r="1.5"/><circle cx="434.8" cy="254.6" r="1.5"/><circle cx="434.8" cy="252.8" r="1.5"/><circle cx="434.8" cy="250.8" r="1.5"/><circle cx="434.8" cy="249.2" r="1.5"/><circle cx="434.8" cy="248.2" r="1.5"/><circle cx="434.8" cy="246.6" r="1.5"/><circle cx="434.8" cy="244.3" r="1.5"/><circle cx="434.8" cy="255.5" r="1.5"/><circle cx="434.8" cy="252.1" r="1.5"/><circle cx="434.8" cy="251.5" r="1.5"/><circle cx="434.8" cy="244.6" r="1.5"/><circle cx="434.8" cy="249.7" r="1.5"/><circle cx="434.8" cy="246.1" r="1.5"/><circle cx="434.8" cy="248.6" r="1.5"/><circle cx="434.8" cy="248.8" r="1.5"/><circle cx="434.8" cy="252.4" r="1.5"/><circle cx="434.8" cy="249.6" r="1.5"/><circle cx="434.8" cy="249.8" r="1.5"/><circle cx="434.8" cy="251.8" r="1.5"/><circle cx="434.8" cy="253.9" r="1.5"/><circle cx="434.8" cy="242.1" r="1.5"/><circle cx="441.6" cy="249" r="1.5"/><circle cx="441.6" cy="230.4" r="1.5"/><circle cx="441.6" cy="248.8" r="1.5"/><circle cx="441.6" cy="247.3" r="1.5"/><circle cx="441.6" cy="246" r="1.5"/><circle cx="441.6" cy="245.2" r="1.5"/><circle cx="441.6" cy="243.6" r="1.5"/><circle cx="441.6" cy="242.6" r="1.5"/><circle cx="441.6" cy="240.9" r="1.5"/><circle cx="441.6" cy="240.2" r="1.5"/><circle cx="441.6" cy="239.2" r="1.5"/><circle cx="441.6" cy="238.4" r="1.5"/><circle cx="441.6" cy="237.2" r="1.5"/><circle cx="441.6" cy="235.3" r="1.5"/><circle cx="441.6" cy="234.9" r="1.5"/><circle cx="441.6" cy="233.8" r="1.5"/><circle cx="441.6" cy="232.5" r="1.5"/><circle cx="441.6" cy="231" r="1.5"/><circle cx="441.6" cy="246.5" r="1.5"/><circle cx="441.6" cy="240.9" r="1.5"/><circle cx="441.6" cy="248.4" r="1.5"/><circle cx="441.6" cy="242.9" r="1.5"/><circle cx="441.6" cy="244.8" r="1.5"/><circle cx="441.6" cy="236.5" r="1.5"/><circle cx="441.6" cy="242.9" r="1.5"/><circle cx="441.6" cy="246.2" r="1.5"/><circle cx="441.6" cy="237.7" r="1.5"/><circle cx="441.6" cy="244.9" r="1.5"/><circle cx="441.6" cy="241.5" r="1.5"/><circle cx="441.6" cy="243.6" r="1.5"/><circle cx="441.6" cy="241.6" r="1.5"/><circle cx="441.6" cy="239" r="1.5"/><circle cx="441.6" cy="246.4" r="1.5"/><circle cx="441.6" cy="246" r="1.5"/><circle cx="441.6" cy="239.8" r="1.5"/><circle cx="441.6" cy="244.4" r="1.5"/><circle cx="441.6" cy="242.5" r="1.5"/><circle cx="441.6" cy="239.3" r="1.5"/><circle cx="441.6" cy="227.8" r="1.5"/><circle cx="441.6" cy="203.9" r="1.5"/><circle cx="441.6" cy="222" r="1.5"/><circle cx="441.6" cy="219.2" r="1.5"/><circle cx="441.6" cy="212.1" r="1.5"/><circle cx="441.6" cy="208.4" r="1.5"/><circle cx="441.6" cy="225" r="1.5"/><circle cx="441.6" cy="209" r="1.5"/><circle cx="441.6" cy="217.3" r="1.5"/><circle cx="441.6" cy="217.8" r="1.5"/><circle cx="441.6" cy="224.2" r="1.5"/><circle cx="444.3" cy="250.1" r="1.5"/><circle cx="444.3" cy="227.8" r="1.5"/><circle cx="444.3" cy="248.9" r="1.5"/><circle cx="444.3" cy="247.7" r="1.5"/><circle cx="444.3" cy="247" r="1.5"/><circle cx="444.3" cy="245.3" r="1.5"/><circle cx="444.3" cy="243.5" r="1.5"/><circle cx="444.3" cy="242.8" r="1.5"/><circle cx="444.3" cy="240.9" r="1.5"/><circle cx="444.3" cy="240.6" r="1.5"/><circle cx="444.3" cy="239.1" r="1.5"/><circle cx="444.3" cy="237.3" r="1.5"/><circle cx="444.3" cy="236.6" r="1.5"/><circle cx="444.3" cy="235.2" r="1.5"/><circle cx="444.3" cy="233.2" r="1.5"/><circle cx="444.3" cy="232.4" r="1.5"/><circle cx="444.3" cy="230.7" r="1.5"/><circle cx="444.3" cy="230.1" r="1.5"/><circle cx="444.3" cy="228.8" r="1.5"/><circle cx="444.3" cy="244.1" r="1.5"/><circle cx="444.3" cy="239.7" r="1.5"/><circle cx="444.3" cy="238.1" r="1.5"/><circle cx="444.3" cy="242.8" r="1.5"/><circle cx="444.3" cy="244.3" r="1.5"/><circle cx="444.3" cy="243" r="1.5"/><circle cx="444.3" cy="246.8" r="1.5"/><circle cx="444.3" cy="243.1" r="1.5"/><circle cx="444.3" cy="243.6" r="1.5"/><circle cx="444.3" cy="241.1" r="1.5"/><circle cx="444.3" cy="235.6" r="1.5"/><circle cx="444.3" cy="235.8" r="1.5"/><circle cx="444.3" cy="244.2" r="1.5"/><circle cx="444.3" cy="239.2" r="1.5"/><circle cx="444.3" cy="240.7" r="1.5"/><circle cx="444.3" cy="238.4" r="1.5"/><circle cx="444.3" cy="242" r="1.5"/><circle cx="444.3" cy="240.8" r="1.5"/><circle cx="444.3" cy="244.4" r="1.5"/><circle cx="444.3" cy="245.9" r="1.5"/><circle cx="444.3" cy="237.9" r="1.5"/><circle cx="444.3" cy="235.8" r="1.5"/><circle cx="444.3" cy="225.1" r="1.5"/><circle cx="444.3" cy="217.1" r="1.5"/><circle cx="444.3" cy="224.7" r="1.5"/><circle cx="444.3" cy="220.1" r="1.5"/><circle cx="444.3" cy="222.3" r="1.5"/><circle cx="444.3" cy="208.1" r="1.5"/><circle cx="444.3" cy="200.7" r="1.5"/><circle cx="449.1" cy="247.4" r="1.5"/><circle cx="449.1" cy="204.4" r="1.5"/><circle cx="449.1" cy="246.7" r="1.5"/><circle cx="449.1" cy="244.7" r="1.5"/><circle cx="449.1" cy="243.2" r="1.5"/><circle cx="449.1" cy="242.7" r="1.5"/><circle cx="449.1" cy="240.9" r="1.5"/><circle cx="449.1" cy="238.9" r="1.5"/><circle cx="449.1" cy="237.9" r="1.5"/><circle cx="449.1" cy="235.6" r="1.5"/><circle cx="449.1" cy="235.2" r="1.5"/><circle cx="449.1" cy="232.6" r="1.5"/><circle cx="449.1" cy="231.8" r="1.5"/><circle cx="449.1" cy="230.8" r="1.5"/><circle cx="449.1" cy="228.9" r="1.5"/><circle cx="449.1" cy="227.9" r="1.5"/><circle cx="449.1" cy="225.6" r="1.5"/><circle cx="449.1" cy="224.8" r="1.5"/><circle cx="449.1" cy="222.3" r="1.5"/><circle cx="449.1" cy="221.3" r="1.5"/><circle cx="449.1" cy="220.2" r="1.5"/><circle cx="449.1" cy="218.9" r="1.5"/><circle cx="449.1" cy="216.8" r="1.5"/><circle cx="449.1" cy="216" r="1.5"/><circle cx="449.1" cy="213.5" r="1.5"/><circle cx="449.1" cy="213.1" r="1.5"/><circle cx="449.1" cy="211.1" r="1.5"/><circle cx="449.1" cy="209.5" r="1.5"/><circle cx="449.1" cy="208.5" r="1.5"/><circle cx="449.1" cy="206.2" r="1.5"/><circle cx="449.1" cy="205.3" r="1.5"/><circle cx="449.1" cy="238.7" r="1.5"/><circle cx="449.1" cy="241.1" r="1.5"/><circle cx="449.1" cy="244.6" r="1.5"/><circle cx="449.1" cy="238" r="1.5"/><circle cx="449.1" cy="225.9" r="1.5"/><circle cx="449.1" cy="229.5" r="1.5"/><circle cx="449.1" cy="231.5" r="1.5"/><circle cx="449.1" cy="229.6" r="1.5"/><circle cx="449.1" cy="241.1" r="1.5"/><circle cx="449.1" cy="236.8" r="1.5"/><circle cx="449.1" cy="238.3" r="1.5"/><circle cx="449.1" cy="242.7" r="1.5"/><circle cx="449.1" cy="237.9" r="1.5"/><circle cx="449.1" cy="242.3" r="1.5"/><circle cx="449.1" cy="234.5" r="1.5"/><circle cx="449.1" cy="227.1" r="1.5"/><circle cx="449.1" cy="231.3" r="1.5"/><circle cx="449.1" cy="233.8" r="1.5"/><circle cx="449.1" cy="229.7" r="1.5"/><circle cx="449.1" cy="236.1" r="1.5"/><circle cx="449.1" cy="241.9" r="1.5"/><circle cx="449.1" cy="222.8" r="1.5"/><circle cx="449.1" cy="231.5" r="1.5"/><circle cx="449.1" cy="231.3" r="1.5"/><circle cx="449.1" cy="238.3" r="1.5"/><circle cx="449.1" cy="234.9" r="1.5"/><circle cx="449.1" cy="232.2" r="1.5"/><circle cx="449.1" cy="240.4" r="1.5"/><circle cx="449.1" cy="247" r="1.5"/><circle cx="449.1" cy="240.2" r="1.5"/><circle cx="449.1" cy="226.8" r="1.5"/><circle cx="449.1" cy="242.3" r="1.5"/><circle cx="449.1" cy="246.7" r="1.5"/><circle cx="449.1" cy="234.3" r="1.5"/><circle cx="449.1" cy="216.4" r="1.5"/><circle cx="449.1" cy="242.4" r="1.5"/><circle cx="449.1" cy="224" r="1.5"/><circle cx="456.6" cy="243.7" r="1.5"/><circle cx="456.6" cy="225.1" r="1.5"/><circle cx="456.6" cy="243.4" r="1.5"/><circle cx="456.6" cy="241.8" r="1.5"/><circle cx="456.6" cy="238.8" r="1.5"/><circle cx="456.6" cy="237.4" r="1.5"/><circle cx="456.6" cy="235.7" r="1.5"/><circle cx="456.6" cy="235.2" r="1.5"/><circle cx="456.6" cy="233.5" r="1.5"/><circle cx="456.6" cy="231.6" r="1.5"/><circle cx="456.6" cy="229.8" r="1.5"/><circle cx="456.6" cy="228" r="1.5"/><circle cx="456.6" cy="226.2" r="1.5"/><circle cx="456.6" cy="229.2" r="1.5"/><circle cx="456.6" cy="231.7" r="1.5"/><circle cx="456.6" cy="234.2" r="1.5"/><circle cx="456.6" cy="234.5" r="1.5"/><circle cx="456.6" cy="229.7" r="1.5"/><circle cx="456.6" cy="237" r="1.5"/><circle cx="456.6" cy="233.2" r="1.5"/><circle cx="456.6" cy="235.6" r="1.5"/><circle cx="456.6" cy="238.2" r="1.5"/><circle cx="456.6" cy="230.1" r="1.5"/><circle cx="456.6" cy="232.6" r="1.5"/><circle cx="456.6" cy="232.4" r="1.5"/><circle cx="456.6" cy="229" r="1.5"/><circle cx="456.6" cy="238.6" r="1.5"/><circle cx="456.6" cy="232.8" r="1.5"/><circle cx="456.6" cy="254.3" r="1.5"/><circle cx="456.6" cy="214.5" r="1.5"/><circle cx="456.6" cy="208.1" r="1.5"/><circle cx="484.7" cy="227.8" r="1.5"/><circle cx="484.7" cy="202.3" r="1.5"/><circle cx="484.7" cy="226.5" r="1.5"/><circle cx="484.7" cy="225.4" r="1.5"/><circle cx="484.7" cy="224.7" r="1.5"/><circle cx="484.7" cy="222.9" r="1.5"/><circle cx="484.7" cy="221.6" r="1.5"/><circle cx="484.7" cy="219.1" r="1.5"/><circle cx="484.7" cy="218.5" r="1.5"/><circle cx="484.7" cy="215.9" r="1.5"/><circle cx="484.7" cy="214.6" r="1.5"/><circle cx="484.7" cy="214.1" r="1.5"/><circle cx="484.7" cy="211.7" r="1.5"/><circle cx="484.7" cy="210.7" r="1.5"/><circle cx="484.7" cy="208.7" r="1.5"/><circle cx="484.7" cy="207" r="1.5"/><circle cx="484.7" cy="206.4" r="1.5"/><circle cx="484.7" cy="205.1" r="1.5"/><circle cx="484.7" cy="202.4" r="1.5"/><circle cx="484.7" cy="209.2" r="1.5"/><circle cx="484.7" cy="222.1" r="1.5"/><circle cx="484.7" cy="204.9" r="1.5"/><circle cx="484.7" cy="214" r="1.5"/><circle cx="484.7" cy="219.2" r="1.5"/><circle cx="484.7" cy="207" r="1.5"/><circle cx="484.7" cy="217.6" r="1.5"/><circle cx="484.7" cy="212.5" r="1.5"/><circle cx="484.7" cy="210.2" r="1.5"/><circle cx="484.7" cy="212.6" r="1.5"/><circle cx="484.7" cy="216.3" r="1.5"/><circle cx="484.7" cy="223.4" r="1.5"/><circle cx="484.7" cy="211.7" r="1.5"/><circle cx="484.7" cy="204.3" r="1.5"/><circle cx="484.7" cy="204" r="1.5"/><circle cx="484.7" cy="202.5" r="1.5"/><circle cx="484.7" cy="208.4" r="1.5"/><circle cx="484.7" cy="209.3" r="1.5"/><circle cx="484.7" cy="214.8" r="1.5"/><circle cx="484.7" cy="224.8" r="1.5"/><circle cx="484.7" cy="215" r="1.5"/><circle cx="484.7" cy="215.3" r="1.5"/><circle cx="484.7" cy="243.7" r="1.5"/><circle cx="484.7" cy="230.4" r="1.5"/><circle cx="484.7" cy="243" r="1.5"/><circle cx="484.7" cy="240.9" r="1.5"/><circle cx="484.7" cy="237.4" r="1.5"/><circle cx="484.7" cy="234.6" r="1.5"/><circle cx="484.7" cy="232.5" r="1.5"/><circle cx="484.7" cy="237.1" r="1.5"/><circle cx="484.7" cy="235" r="1.5"/><circle cx="484.7" cy="232.9" r="1.5"/><circle cx="484.7" cy="235.5" r="1.5"/><circle cx="484.7" cy="238.5" r="1.5"/><circle cx="484.7" cy="234.2" r="1.5"/><circle cx="484.7" cy="232.3" r="1.5"/><circle cx="484.7" cy="237.5" r="1.5"/><circle cx="497" cy="227.8" r="1.5"/><circle cx="497" cy="195.9" r="1.5"/><circle cx="497" cy="226.6" r="1.5"/><circle cx="497" cy="226" r="1.5"/><circle cx="497" cy="224.8" r="1.5"/><circle cx="497" cy="222.8" r="1.5"/><circle cx="497" cy="222.5" r="1.5"/><circle cx="497" cy="220.7" r="1.5"/><circle cx="497" cy="219.7" r="1.5"/><circle cx="497" cy="217.8" r="1.5"/><circle cx="497" cy="216.9" r="1.5"/><circle cx="497" cy="215.3" r="1.5"/><circle cx="497" cy="214.8" r="1.5"/><circle cx="497" cy="212.9" r="1.5"/><circle cx="497" cy="211.7" r="1.5"/><circle cx="497" cy="210.6" r="1.5"/><circle cx="497" cy="208.9" r="1.5"/><circle cx="497" cy="207.6" r="1.5"/><circle cx="497" cy="207.2" r="1.5"/><circle cx="497" cy="205.7" r="1.5"/><circle cx="497" cy="204.4" r="1.5"/><circle cx="497" cy="203.3" r="1.5"/><circle cx="497" cy="202.2" r="1.5"/><circle cx="497" cy="200.7" r="1.5"/><circle cx="497" cy="199.5" r="1.5"/><circle cx="497" cy="197.6" r="1.5"/><circle cx="497" cy="196.6" r="1.5"/><circle cx="497" cy="206.2" r="1.5"/><circle cx="497" cy="200.8" r="1.5"/><circle cx="497" cy="201.5" r="1.5"/><circle cx="497" cy="211.9" r="1.5"/><circle cx="497" cy="204.2" r="1.5"/><circle cx="497" cy="204.2" r="1.5"/><circle cx="497" cy="203.1" r="1.5"/><circle cx="497" cy="204" r="1.5"/><circle cx="497" cy="205.5" r="1.5"/><circle cx="497" cy="208.4" r="1.5"/><circle cx="497" cy="209.4" r="1.5"/><circle cx="497" cy="224.4" r="1.5"/><circle cx="497" cy="208.5" r="1.5"/><circle cx="497" cy="206.8" r="1.5"/><circle cx="497" cy="212.8" r="1.5"/><circle cx="497" cy="205" r="1.5"/><circle cx="497" cy="202.3" r="1.5"/><circle cx="497" cy="197.4" r="1.5"/><circle cx="497" cy="204.7" r="1.5"/><circle cx="497" cy="211.5" r="1.5"/><circle cx="497" cy="213.1" r="1.5"/><circle cx="497" cy="196.2" r="1.5"/><circle cx="497" cy="209.5" r="1.5"/><circle cx="497" cy="205.5" r="1.5"/><circle cx="497" cy="200.3" r="1.5"/><circle cx="497" cy="204.4" r="1.5"/><circle cx="497" cy="204.2" r="1.5"/><circle cx="497" cy="203.4" r="1.5"/><circle cx="497" cy="218.6" r="1.5"/><circle cx="497" cy="206.7" r="1.5"/><circle cx="497" cy="201.2" r="1.5"/><circle cx="497" cy="243.7" r="1.5"/><circle cx="497" cy="227.8" r="1.5"/><circle cx="497" cy="242.4" r="1.5"/><circle cx="497" cy="240" r="1.5"/><circle cx="497" cy="237.9" r="1.5"/><circle cx="497" cy="237.4" r="1.5"/><circle cx="497" cy="234.2" r="1.5"/><circle cx="497" cy="232.1" r="1.5"/><circle cx="497" cy="230.3" r="1.5"/><circle cx="497" cy="229.1" r="1.5"/><circle cx="497" cy="230" r="1.5"/><circle cx="497" cy="234" r="1.5"/><circle cx="497" cy="229.5" r="1.5"/><circle cx="497" cy="235.7" r="1.5"/><circle cx="497" cy="233.6" r="1.5"/><circle cx="497" cy="231.3" r="1.5"/><circle cx="497" cy="234.8" r="1.5"/><circle cx="497" cy="228.2" r="1.5"/><circle cx="497" cy="231.4" r="1.5"/><circle cx="497" cy="237" r="1.5"/><circle cx="497" cy="237.2" r="1.5"/><circle cx="499" cy="214.5" r="1.5"/><circle cx="499" cy="195.9" r="1.5"/><circle cx="499" cy="213.7" r="1.5"/><circle cx="499" cy="212.4" r="1.5"/><circle cx="499" cy="211.3" r="1.5"/><circle cx="499" cy="210.7" r="1.5"/><circle cx="499" cy="209.6" r="1.5"/><circle cx="499" cy="208.9" r="1.5"/><circle cx="499" cy="207.6" r="1.5"/><circle cx="499" cy="206.2" r="1.5"/><circle cx="499" cy="205.7" r="1.5"/><circle cx="499" cy="203.9" r="1.5"/><circle cx="499" cy="203.4" r="1.5"/><circle cx="499" cy="202" r="1.5"/><circle cx="499" cy="200.3" r="1.5"/><circle cx="499" cy="200.2" r="1.5"/><circle cx="499" cy="199.1" r="1.5"/><circle cx="499" cy="197.6" r="1.5"/><circle cx="499" cy="196.8" r="1.5"/><circle cx="499" cy="201.5" r="1.5"/><circle cx="499" cy="201.8" r="1.5"/><circle cx="499" cy="197.2" r="1.5"/><circle cx="499" cy="208.2" r="1.5"/><circle cx="499" cy="200.5" r="1.5"/><circle cx="499" cy="205.6" r="1.5"/><circle cx="499" cy="202.7" r="1.5"/><circle cx="499" cy="205.7" r="1.5"/><circle cx="499" cy="201.9" r="1.5"/><circle cx="499" cy="203.8" r="1.5"/><circle cx="499" cy="197.8" r="1.5"/><circle cx="499" cy="205.3" r="1.5"/><circle cx="499" cy="208" r="1.5"/><circle cx="499" cy="199.5" r="1.5"/><circle cx="499" cy="202.9" r="1.5"/><circle cx="499" cy="202.7" r="1.5"/><circle cx="499" cy="197.3" r="1.5"/><circle cx="499" cy="204.9" r="1.5"/><circle cx="499" cy="202.9" r="1.5"/><circle cx="499" cy="200.9" r="1.5"/><circle cx="499" cy="199.9" r="1.5"/><circle cx="499" cy="203.5" r="1.5"/><circle cx="499" cy="193.3" r="1.5"/><circle cx="499" cy="190.1" r="1.5"/><circle cx="499" cy="243.7" r="1.5"/><circle cx="521.6" cy="201.2" r="1.5"/><circle cx="521.6" cy="174.7" r="1.5"/><circle cx="521.6" cy="199.9" r="1.5"/><circle cx="521.6" cy="198.7" r="1.5"/><circle cx="521.6" cy="197.4" r="1.5"/><circle cx="521.6" cy="195.9" r="1.5"/><circle cx="521.6" cy="194.6" r="1.5"/><circle cx="521.6" cy="193.8" r="1.5"/><circle cx="521.6" cy="192.2" r="1.5"/><circle cx="521.6" cy="191.9" r="1.5"/><circle cx="521.6" cy="189.7" r="1.5"/><circle cx="521.6" cy="188.5" r="1.5"/><circle cx="521.6" cy="187.6" r="1.5"/><circle cx="521.6" cy="185.9" r="1.5"/><circle cx="521.6" cy="184" r="1.5"/><circle cx="521.6" cy="183.3" r="1.5"/><circle cx="521.6" cy="181.8" r="1.5"/><circle cx="521.6" cy="180.9" r="1.5"/><circle cx="521.6" cy="179.5" r="1.5"/><circle cx="521.6" cy="177.5" r="1.5"/><circle cx="521.6" cy="177.3" r="1.5"/><circle cx="521.6" cy="175.8" r="1.5"/><circle cx="521.6" cy="176.9" r="1.5"/><circle cx="521.6" cy="185.4" r="1.5"/><circle cx="521.6" cy="188.3" r="1.5"/><circle cx="521.6" cy="175.4" r="1.5"/><circle cx="521.6" cy="178.3" r="1.5"/><circle cx="521.6" cy="187.9" r="1.5"/><circle cx="521.6" cy="177.2" r="1.5"/><circle cx="521.6" cy="188.8" r="1.5"/><circle cx="521.6" cy="179.1" r="1.5"/><circle cx="521.6" cy="188" r="1.5"/><circle cx="521.6" cy="184.9" r="1.5"/><circle cx="521.6" cy="179.9" r="1.5"/><circle cx="521.6" cy="180.2" r="1.5"/><circle cx="521.6" cy="177" r="1.5"/><circle cx="521.6" cy="187.3" r="1.5"/><circle cx="521.6" cy="175.2" r="1.5"/><circle cx="521.6" cy="182.7" r="1.5"/><circle cx="521.6" cy="180.1" r="1.5"/><circle cx="521.6" cy="187" r="1.5"/><circle cx="521.6" cy="183.5" r="1.5"/><circle cx="521.6" cy="190" r="1.5"/><circle cx="521.6" cy="182.2" r="1.5"/><circle cx="521.6" cy="181.5" r="1.5"/><circle cx="521.6" cy="175.2" r="1.5"/><circle cx="521.6" cy="177.4" r="1.5"/><circle cx="521.6" cy="178.1" r="1.5"/><circle cx="521.6" cy="170.4" r="1.5"/><circle cx="521.6" cy="209.2" r="1.5"/><circle cx="521.6" cy="203.9" r="1.5"/><circle cx="521.6" cy="218.7" r="1.5"/><circle cx="521.6" cy="226.2" r="1.5"/><circle cx="521.6" cy="232" r="1.5"/><circle cx="521.6" cy="231.7" r="1.5"/><circle cx="521.6" cy="252.2" r="1.5"/><circle cx="521.6" cy="261.2" r="1.5"/></g>
<path class="d" d="M396.5 279.2L536.6 170.4"/>
<rect class="s" x="389.75" y="165.5" width="153.2" height="119.0"/>
<path class="tk" d="M401.3 284.5v1.9M435.5 284.5v1.9M469.6 284.5v1.9M503.8 284.5v1.9M538 284.5v1.9M389.8 275.5h-1.9M389.8 262.3h-1.9M389.8 249h-1.9M389.8 235.7h-1.9M389.8 222.5h-1.9M389.8 209.2h-1.9M389.8 195.9h-1.9M389.8 182.6h-1.9M389.8 169.4h-1.9"/>
<text class="k" text-anchor="middle" x="401.3" y="291.9">5</text>
<text class="k" text-anchor="middle" x="435.5" y="291.9">10</text>
<text class="k" text-anchor="middle" x="469.6" y="291.9">15</text>
<text class="k" text-anchor="middle" x="503.8" y="291.9">20</text>
<text class="k" text-anchor="middle" x="538" y="291.9">25</text>
<text class="k" text-anchor="end" x="386.9" y="277.5">5.0</text>
<text class="k" text-anchor="end" x="386.9" y="264.3">7.5</text>
<text class="k" text-anchor="end" x="386.9" y="251">10.0</text>
<text class="k" text-anchor="end" x="386.9" y="237.7">12.5</text>
<text class="k" text-anchor="end" x="386.9" y="224.5">15.0</text>
<text class="k" text-anchor="end" x="386.9" y="211.2">17.5</text>
<text class="k" text-anchor="end" x="386.9" y="197.9">20.0</text>
<text class="k" text-anchor="end" x="386.9" y="184.6">22.5</text>
<text class="k" text-anchor="end" x="386.9" y="171.4">25.0</text>
<text class="t" transform="translate(466.4 163.2) scale(1.016 1)">Secondary nitrate: R² = 0.874</text>
<text class="l" transform="translate(466.4 300.3) scale(1.04 1)">True Values (%)</text>
<text class="l" transform="translate(372.2 225) rotate(-90) scale(1.04 1)">Predicted Values (%)</text>
</g>
<g>
<g class="p"><circle cx="38.2" cy="432.8" r="1.5"/><circle cx="38.2" cy="415.6" r="1.5"/><circle cx="38.2" cy="432.2" r="1.5"/><circle cx="38.2" cy="431.8" r="1.5"/><circle cx="38.2" cy="430.5" r="1.5"/><circle cx="38.2" cy="429.9" r="1.5"/><circle cx="38.2" cy="428.5" r="1.5"/><circle cx="38.2" cy="427.2" r="1.5"/><circle cx="38.2" cy="426.5" r="1.5"/><circle cx="38.2" cy="425.4" r="1.5"/><circle cx="38.2" cy="424.4" r="1.5"/><circle cx="38.2" cy="424.1" r="1.5"/><circle cx="38.2" cy="422.3" r="1.5"/><circle cx="38.2" cy="421.6" r="1.5"/><circle cx="38.2" cy="421.2" r="1.5"/><circle cx="38.2" cy="419.6" r="1.5"/><circle cx="38.2" cy="419" r="1.5"/><circle cx="38.2" cy="418.3" r="1.5"/><circle cx="38.2" cy="416.6" r="1.5"/><circle cx="38.2" cy="416" r="1.5"/><circle cx="38.2" cy="425.2" r="1.5"/><circle cx="38.2" cy="427.6" r="1.5"/><circle cx="38.2" cy="425.3" r="1.5"/><circle cx="38.2" cy="426.8" r="1.5"/><circle cx="38.2" cy="425.2" r="1.5"/><circle cx="38.2" cy="421.9" r="1.5"/><circle cx="38.2" cy="420.5" r="1.5"/><circle cx="38.2" cy="425.1" r="1.5"/><circle cx="38.2" cy="424.8" r="1.5"/><circle cx="38.2" cy="422.5" r="1.5"/><circle cx="38.2" cy="426.6" r="1.5"/><circle cx="38.2" cy="429.4" r="1.5"/><circle cx="38.2" cy="421.5" r="1.5"/><circle cx="38.2" cy="428.9" r="1.5"/><circle cx="38.2" cy="422.2" r="1.5"/><circle cx="38.2" cy="429" r="1.5"/><circle cx="38.2" cy="419" r="1.5"/><circle cx="38.2" cy="429.3" r="1.5"/><circle cx="38.2" cy="422.5" r="1.5"/><circle cx="38.2" cy="420.1" r="1.5"/><circle cx="38.2" cy="429" r="1.5"/><circle cx="38.2" cy="420.2" r="1.5"/><circle cx="38.2" cy="428.5" r="1.5"/><circle cx="38.2" cy="431.9" r="1.5"/><circle cx="38.2" cy="409.7" r="1.5"/><circle cx="38.2" cy="368.4" r="1.5"/><circle cx="38.2" cy="368.1" r="1.5"/><circle cx="50.5" cy="424.6" r="1.5"/><circle cx="50.5" cy="399.7" r="1.5"/><circle cx="50.5" cy="424.5" r="1.5"/><circle cx="50.5" cy="423.1" r="1.5"/><circle cx="50.5" cy="421.5" r="1.5"/><circle cx="50.5" cy="420.2" r="1.5"/><circle cx="50.5" cy="419.3" r="1.5"/><circle cx="50.5" cy="418.9" r="1.5"/><circle cx="50.5" cy="417.1" r="1.5"/><circle cx="50.5" cy="416.6" r="1.5"/><circle cx="50.5" cy="414.9" r="1.5"/><circle cx="50.5" cy="413.5" r="1.5"/><circle cx="50.5" cy="413.2" r="1.5"/><circle cx="50.5" cy="411.1" r="1.5"/><circle cx="50.5" cy="410.3" r="1.5"/><circle cx="50.5" cy="409.6" r="1.5"/><circle cx="50.5" cy="408.5" r="1.5"/><circle cx="50.5" cy="407.1" r="1.5"/><circle cx="50.5" cy="405.5" r="1.5"/><circle cx="50.5" cy="404.7" r="1.5"/><circle cx="50.5" cy="404.1" r="1.5"/><circle cx="50.5" cy="403.1" r="1.5"/><circle cx="50.5" cy="401.8" r="1.5"/><circle cx="50.5" cy="399.9" r="1.5"/><circle cx="50.5" cy="413.3" r="1.5"/><circle cx="50.5" cy="409.7" r="1.5"/><circle cx="50.5" cy="418.1" r="1.5"/><circle cx="50.5" cy="408" r="1.5"/><circle cx="50.5" cy="418.2" r="1.5"/><circle cx="50.5" cy="413.9" r="1.5"/><circle cx="50.5" cy="411.2" r="1.5"/><circle cx="50.5" cy="420.8" r="1.5"/><circle cx="50.5" cy="419.7" r="1.5"/><circle cx="50.5" cy="415.2" r="1.5"/><circle cx="50.5" cy="416.3" r="1.5"/><circle cx="50.5" cy="417.7" r="1.5"/><circle cx="50.5" cy="413.4" r="1.5"/><circle cx="50.5" cy="416.1" r="1.5"/><circle cx="50.5" cy="415.6" r="1.5"/><circle cx="50.5" cy="417.4" r="1.5"/><circle cx="50.5" cy="411.9" r="1.5"/><circle cx="50.5" cy="406.9" r="1.5"/><circle cx="50.5" cy="418.3" r="1.5"/><circle cx="50.5" cy="420.9" r="1.5"/><circle cx="50.5" cy="419.2" r="1.5"/><circle cx="50.5" cy="415.5" r="1.5"/><circle cx="50.5" cy="413" r="1.5"/><circle cx="50.5" cy="420.5" r="1.5"/><circle cx="50.5" cy="410.8" r="1.5"/><circle cx="50.5" cy="421.3" r="1.5"/><circle cx="50.5" cy="411.7" r="1.5"/><circle cx="50.5" cy="397.4" r="1.5"/><circle cx="50.5" cy="392" r="1.5"/><circle cx="71.5" cy="404.2" r="1.5"/><circle cx="71.5" cy="388.3" r="1.5"/><circle cx="71.5" cy="404" r="1.5"/><circle cx="71.5" cy="402.1" r="1.5"/><circle cx="71.5" cy="401.3" r="1.5"/><circle cx="71.5" cy="400.8" r="1.5"/><circle cx="71.5" cy="399.5" r="1.5"/><circle cx="71.5" cy="398.1" r="1.5"/><circle cx="71.5" cy="396.9" r="1.5"/><circle cx="71.5" cy="395.6" r="1.5"/><circle cx="71.5" cy="394.7" r="1.5"/><circle cx="71.5" cy="393.6" r="1.5"/><circle cx="71.5" cy="392.9" r="1.5"/><circle cx="71.5" cy="391.1" r="1.5"/><circle cx="71.5" cy="390.2" r="1.5"/><circle cx="71.5" cy="389.4" r="1.5"/><circle cx="71.5" cy="398" r="1.5"/><circle cx="71.5" cy="396.9" r="1.5"/><circle cx="71.5" cy="397.6" r="1.5"/><circle cx="71.5" cy="398.9" r="1.5"/><circle cx="71.5" cy="400.8" r="1.5"/><circle cx="71.5" cy="401.9" r="1.5"/><circle cx="71.5" cy="400" r="1.5"/><circle cx="71.5" cy="395.4" r="1.5"/><circle cx="71.5" cy="399.8" r="1.5"/><circle cx="71.5" cy="395" r="1.5"/><circle cx="71.5" cy="401" r="1.5"/><circle cx="71.5" cy="398.5" r="1.5"/><circle cx="71.5" cy="399.5" r="1.5"/><circle cx="71.5" cy="401.6" r="1.5"/><circle cx="71.5" cy="395.3" r="1.5"/><circle cx="71.5" cy="403.7" r="1.5"/><circle cx="71.5" cy="402.7" r="1.5"/><circle cx="71.5" cy="403.1" r="1.5"/><circle cx="71.5" cy="401.3" r="1.5"/><circle cx="71.5" cy="382.4" r="1.5"/><circle cx="71.5" cy="374.7" r="1.5"/><circle cx="71.5" cy="364.7" r="1.5"/><circle cx="71.5" cy="362.5" r="1.5"/><circle cx="71.5" cy="359.7" r="1.5"/><circle cx="71.5" cy="416" r="1.5"/><circle cx="79.1" cy="401.9" r="1.5"/><circle cx="79.1" cy="387" r="1.5"/><circle cx="79.1" cy="400.7" r="1.5"/><circle cx="79.1" cy="399.1" r="1.5"/><circle cx="79.1" cy="397.5" r="1.5"/><circle cx="79.1" cy="396.4" r="1.5"/><circle cx="79.1" cy="395.5" r="1.5"/><circle cx="79.1" cy="393.3" r="1.5"/><circle cx="79.1" cy="391.8" r="1.5"/><circle cx="79.1" cy="390.7" r="1.5"/><circle cx="79.1" cy="389" r="1.5"/><circle cx="79.1" cy="387.9" r="1.5"/><circle cx="79.1" cy="391.8" r="1.5"/><circle cx="79.1" cy="396.9" r="1.5"/><circle cx="79.1" cy="394.8" r="1.5"/><circle cx="79.1" cy="391" r="1.5"/><circle cx="79.1" cy="392.7" r="1.5"/><circle cx="79.1" cy="398.1" r="1.5"/><circle cx="79.1" cy="396.9" r="1.5"/><circle cx="79.1" cy="393.4" r="1.5"/><circle cx="79.1" cy="393.7" r="1.5"/><circle cx="79.1" cy="391.4" r="1.5"/><circle cx="79.1" cy="394.8" r="1.5"/><circle cx="79.1" cy="392.3" r="1.5"/><circle cx="79.1" cy="387.2" r="1.5"/><circle cx="79.1" cy="407.4" r="1.5"/><circle cx="79.1" cy="406.5" r="1.5"/><circle cx="79.1" cy="421.9" r="1.5"/><circle cx="79.1" cy="379.2" r="1.5"/><circle cx="79.1" cy="375.6" r="1.5"/><circle cx="79.1" cy="373.3" r="1.5"/><circle cx="79.1" cy="370.2" r="1.5"/><circle cx="79.1" cy="356.1" r="1.5"/><circle cx="86.1" cy="399.7" r="1.5"/><circle cx="86.1" cy="374.7" r="1.5"/><circle cx="86.1" cy="399.2" r="1.5"/><circle cx="86.1" cy="398" r="1.5"/><circle cx="86.1" cy="396.8" r="1.5"/><circle cx="86.1" cy="395.9" r="1.5"/><circle cx="86.1" cy="394.9" r="1.5"/><circle cx="86.1" cy="393.9" r="1.5"/><circle cx="86.1" cy="392.5" r="1.5"/><circle cx="86.1" cy="391.4" r="1.5"/><circle cx="86.1" cy="389.8" r="1.5"/><circle cx="86.1" cy="388.8" r="1.5"/><circle cx="86.1" cy="387.3" r="1.5"/><circle cx="86.1" cy="386.8" r="1.5"/><circle cx="86.1" cy="385" r="1.5"/><circle cx="86.1" cy="384.3" r="1.5"/><circle cx="86.1" cy="383.7" r="1.5"/><circle cx="86.1" cy="382.4" r="1.5"/><circle cx="86.1" cy="380.9" r="1.5"/><circle cx="86.1" cy="379.3" r="1.5"/><circle cx="86.1" cy="378.8" r="1.5"/><circle cx="86.1" cy="377.2" r="1.5"/><circle cx="86.1" cy="376.5" r="1.5"/><circle cx="86.1" cy="374.9" r="1.5"/><circle cx="86.1" cy="387.8" r="1.5"/><circle cx="86.1" cy="382.6" r="1.5"/><circle cx="86.1" cy="385.7" r="1.5"/><circle cx="86.1" cy="384.8" r="1.5"/><circle cx="86.1" cy="390.9" r="1.5"/><circle cx="86.1" cy="388.4" r="1.5"/><circle cx="86.1" cy="387.2" r="1.5"/><circle cx="86.1" cy="386.1" r="1.5"/><circle cx="86.1" cy="384.6" r="1.5"/><circle cx="86.1" cy="389.4" r="1.5"/><circle cx="86.1" cy="392" r="1.5"/><circle cx="86.1" cy="391.3" r="1.5"/><circle cx="86.1" cy="386.2" r="1.5"/><circle cx="86.1" cy="397" r="1.5"/><circle cx="86.1" cy="394.9" r="1.5"/><circle cx="86.1" cy="390.5" r="1.5"/><circle cx="86.1" cy="391.2" r="1.5"/><circle cx="86.1" cy="389.7" r="1.5"/><circle cx="86.1" cy="390.1" r="1.5"/><circle cx="86.1" cy="389.6" r="1.5"/><circle cx="86.1" cy="384.3" r="1.5"/><circle cx="86.1" cy="398.6" r="1.5"/><circle cx="86.1" cy="389.9" r="1.5"/><circle cx="86.1" cy="385.9" r="1.5"/><circle cx="86.1" cy="385.8" r="1.5"/><circle cx="86.1" cy="382.1" r="1.5"/><circle cx="86.1" cy="382.8" r="1.5"/><circle cx="86.1" cy="372.4" r="1.5"/><circle cx="86.1" cy="366.5" r="1.5"/><circle cx="86.1" cy="362.9" r="1.5"/><circle cx="86.1" cy="404.2" r="1.5"/><circle cx="86.1" cy="412.4" r="1.5"/><circle cx="125.9" cy="365.6" r="1.5"/><circle cx="125.9" cy="340.7" r="1.5"/><circle cx="125.9" cy="364.3" r="1.5"/><circle cx="125.9" cy="363.9" r="1.5"/><circle cx="125.9" cy="362.2" r="1.5"/><circle cx="125.9" cy="360.1" r="1.5"/><circle cx="125.9" cy="358.8" r="1.5"/><circle cx="125.9" cy="357.7" r="1.5"/><circle cx="125.9" cy="355.8" r="1.5"/><circle cx="125.9" cy="354.9" r="1.5"/><circle cx="125.9" cy="353.8" r="1.5"/><circle cx="125.9" cy="351.8" r="1.5"/><circle cx="125.9" cy="350.9" r="1.5"/><circle cx="125.9" cy="348.6" r="1.5"/><circle cx="125.9" cy="347.5" r="1.5"/><circle cx="125.9" cy="345.8" r="1.5"/><circle cx="125.9" cy="344.2" r="1.5"/><circle cx="125.9" cy="343.2" r="1.5"/><circle cx="125.9" cy="341.5" r="1.5"/><circle cx="125.9" cy="362.9" r="1.5"/><circle cx="125.9" cy="345.1" r="1.5"/><circle cx="125.9" cy="356.4" r="1.5"/><circle cx="125.9" cy="363.8" r="1.5"/><circle cx="125.9" cy="350.4" r="1.5"/><circle cx="125.9" cy="354.9" r="1.5"/><circle cx="125.9" cy="358.2" r="1.5"/><circle cx="125.9" cy="362.2" r="1.5"/><circle cx="125.9" cy="354.8" r="1.5"/><circle cx="125.9" cy="355.7" r="1.5"/><circle cx="125.9" cy="351.7" r="1.5"/><circle cx="125.9" cy="350.2" r="1.5"/><circle cx="125.9" cy="349.1" r="1.5"/><circle cx="125.9" cy="352.1" r="1.5"/><circle cx="125.9" cy="363.4" r="1.5"/><circle cx="125.9" cy="354.3" r="1.5"/><circle cx="125.9" cy="363.3" r="1.5"/><circle cx="125.9" cy="361.1" r="1.5"/><circle cx="125.9" cy="361.5" r="1.5"/><circle cx="125.9" cy="363.6" r="1.5"/><circle cx="125.9" cy="361.8" r="1.5"/><circle cx="125.9" cy="349.7" r="1.5"/><circle cx="125.9" cy="337" r="1.5"/><circle cx="125.9" cy="381.1" r="1.5"/><circle cx="132.3" cy="365.6" r="1.5"/><circle cx="132.3" cy="331.6" r="1.5"/><circle cx="132.3" cy="365.3" r="1.5"/><circle cx="132.3" cy="363.6" r="1.5"/><circle cx="132.3" cy="362.4" r="1.5"/><circle cx="132.3" cy="361.2" r="1.5"/><circle cx="132.3" cy="360.6" r="1.5"/><circle cx="132.3" cy="358.9" r="1.5"/><circle cx="132.3" cy="357.4" r="1.5"/><circle cx="132.3" cy="356.9" r="1.5"/><circle cx="132.3" cy="355.9" r="1.5"/><circle cx="132.3" cy="354.5" r="1.5"/><circle cx="132.3" cy="352.8" r="1.5"/><circle cx="132.3" cy="352.6" r="1.5"/><circle cx="132.3" cy="351.5" r="1.5"/><circle cx="132.3" cy="349.8" r="1.5"/><circle cx="132.3" cy="348.4" r="1.5"/><circle cx="132.3" cy="347.1" r="1.5"/><circle cx="132.3" cy="346.4" r="1.5"/><circle cx="132.3" cy="344.5" r="1.5"/><circle cx="132.3" cy="344.2" r="1.5"/><circle cx="132.3" cy="342.4" r="1.5"/><circle cx="132.3" cy="342.1" r="1.5"/><circle cx="132.3" cy="341" r="1.5"/><circle cx="132.3" cy="339.7" r="1.5"/><circle cx="132.3" cy="338.6" r="1.5"/><circle cx="132.3" cy="336.9" r="1.5"/><circle cx="132.3" cy="335.6" r="1.5"/><circle cx="132.3" cy="334.9" r="1.5"/><circle cx="132.3" cy="332.8" r="1.5"/><circle cx="132.3" cy="332.3" r="1.5"/><circle cx="132.3" cy="349.7" r="1.5"/><circle cx="132.3" cy="348.7" r="1.5"/><circle cx="132.3" cy="353.8" r="1.5"/><circle cx="132.3" cy="351.5" r="1.5"/><circle cx="132.3" cy="350.9" r="1.5"/><circle cx="132.3" cy="351.5" r="1.5"/><circle cx="132.3" cy="357.9" r="1.5"/><circle cx="132.3" cy="343.8" r="1.5"/><circle cx="132.3" cy="353.4" r="1.5"/><circle cx="132.3" cy="356.9" r="1.5"/><circle cx="132.3" cy="357.6" r="1.5"/><circle cx="132.3" cy="349.9" r="1.5"/><circle cx="132.3" cy="360.3" r="1.5"/><circle cx="132.3" cy="359.6" r="1.5"/><circle cx="132.3" cy="338.2" r="1.5"/><circle cx="132.3" cy="343.1" r="1.5"/><circle cx="132.3" cy="344.9" r="1.5"/><circle cx="132.3" cy="342.7" r="1.5"/><circle cx="132.3" cy="348.2" r="1.5"/><circle cx="132.3" cy="364.5" r="1.5"/><circle cx="132.3" cy="343.9" r="1.5"/><circle cx="132.3" cy="343.6" r="1.5"/><circle cx="132.3" cy="349" r="1.5"/><circle cx="132.3" cy="343.6" r="1.5"/><circle cx="132.3" cy="342.7" r="1.5"/><circle cx="132.3" cy="356" r="1.5"/><circle cx="132.3" cy="351.6" r="1.5"/><circle cx="132.3" cy="346.9" r="1.5"/><circle cx="132.3" cy="353.1" r="1.5"/><circle cx="132.3" cy="344.6" r="1.5"/><circle cx="132.3" cy="351.9" r="1.5"/><circle cx="132.3" cy="347.5" r="1.5"/><circle cx="132.3" cy="351.9" r="1.5"/><circle cx="132.3" cy="363.1" r="1.5"/><circle cx="132.3" cy="359.6" r="1.5"/><circle cx="132.3" cy="350.5" r="1.5"/><circle cx="132.3" cy="343.1" r="1.5"/><circle cx="132.3" cy="379.2" r="1.5"/><circle cx="132.3" cy="377.9" r="1.5"/><circle cx="136.4" cy="361.1" r="1.5"/><circle cx="136.4" cy="338.4" r="1.5"/><circle cx="136.4" cy="360.9" r="1.5"/><circle cx="136.4" cy="358.7" r="1.5"/><circle cx="136.4" cy="357.5" r="1.5"/><circle cx="136.4" cy="357" r="1.5"/><circle cx="136.4" cy="355.1" r="1.5"/><circle cx="136.4" cy="353.8" r="1.5"/><circle cx="136.4" cy="353.2" r="1.5"/><circle cx="136.4" cy="351.9" r="1.5"/><circle cx="136.4" cy="350.4" r="1.5"/><circle cx="136.4" cy="348.6" r="1.5"/><circle cx="136.4" cy="348.3" r="1.5"/><circle cx="136.4" cy="346.4" r="1.5"/><circle cx="136.4" cy="345.2" r="1.5"/><circle cx="136.4" cy="344.1" r="1.5"/><circle cx="136.4" cy="342.7" r="1.5"/><circle cx="136.4" cy="341.1" r="1.5"/><circle cx="136.4" cy="340.7" r="1.5"/><circle cx="136.4" cy="338.5" r="1.5"/><circle cx="136.4" cy="354.8" r="1.5"/><circle cx="136.4" cy="342.7" r="1.5"/><circle cx="136.4" cy="347.2" r="1.5"/><circle cx="136.4" cy="351.7" r="1.5"/><circle cx="136.4" cy="338.8" r="1.5"/><circle cx="136.4" cy="349.6" r="1.5"/><circle cx="136.4" cy="348.2" r="1.5"/><circle cx="136.4" cy="339.1" r="1.5"/><circle cx="136.4" cy="340.7" r="1.5"/><circle cx="136.4" cy="338.4" r="1.5"/><circle cx="136.4" cy="348.7" r="1.5"/><circle cx="136.4" cy="344.6" r="1.5"/><circle cx="136.4" cy="342.8" r="1.5"/><circle cx="136.4" cy="346.8" r="1.5"/><circle cx="136.4" cy="347.6" r="1.5"/><circle cx="136.4" cy="350.2" r="1.5"/><circle cx="136.4" cy="351.3" r="1.5"/><circle cx="136.4" cy="355.2" r="1.5"/><circle cx="136.4" cy="340" r="1.5"/><circle cx="136.4" cy="351.4" r="1.5"/><circle cx="136.4" cy="359.3" r="1.5"/><circle cx="136.4" cy="348" r="1.5"/><circle cx="136.4" cy="349.5" r="1.5"/><circle cx="136.4" cy="348.5" r="1.5"/><circle cx="136.4" cy="333" r="1.5"/><circle cx="136.4" cy="386.1" r="1.5"/><circle cx="136.4" cy="383.8" r="1.5"/><circle cx="138.1" cy="365.6" r="1.5"/><circle cx="138.1" cy="340.7" r="1.5"/><circle cx="138.1" cy="364.7" r="1.5"/><circle cx="138.1" cy="364.2" r="1.5"/><circle cx="138.1" cy="362.2" r="1.5"/><circle cx="138.1" cy="361.2" r="1.5"/><circle cx="138.1" cy="359.5" r="1.5"/><circle cx="138.1" cy="358.6" r="1.5"/><circle cx="138.1" cy="357.3" r="1.5"/><circle cx="138.1" cy="354.6" r="1.5"/><circle cx="138.1" cy="354.1" r="1.5"/><circle cx="138.1" cy="351.9" r="1.5"/><circle cx="138.1" cy="351.6" r="1.5"/><circle cx="138.1" cy="349.7" r="1.5"/><circle cx="138.1" cy="348.8" r="1.5"/><circle cx="138.1" cy="347" r="1.5"/><circle cx="138.1" cy="346" r="1.5"/><circle cx="138.1" cy="343.9" r="1.5"/><circle cx="138.1" cy="343.2" r="1.5"/><circle cx="138.1" cy="341" r="1.5"/><circle cx="138.1" cy="350.8" r="1.5"/><circle cx="138.1" cy="348.2" r="1.5"/><circle cx="138.1" cy="352" r="1.5"/><circle cx="138.1" cy="343.1" r="1.5"/><circle cx="138.1" cy="343.8" r="1.5"/><circle cx="138.1" cy="350.6" r="1.5"/><circle cx="138.1" cy="345.1" r="1.5"/><circle cx="138.1" cy="341.6" r="1.5"/><circle cx="138.1" cy="354.1" r="1.5"/><circle cx="138.1" cy="348.6" r="1.5"/><circle cx="138.1" cy="344.8" r="1.5"/><circle cx="138.1" cy="348.3" r="1.5"/><circle cx="138.1" cy="346.1" r="1.5"/><circle cx="138.1" cy="341.9" r="1.5"/><circle cx="138.1" cy="346.4" r="1.5"/><circle cx="138.1" cy="354" r="1.5"/><circle cx="138.1" cy="344.4" r="1.5"/><circle cx="138.1" cy="348.7" r="1.5"/><circle cx="138.1" cy="347.6" r="1.5"/><circle cx="138.1" cy="351.2" r="1.5"/><circle cx="138.1" cy="355.5" r="1.5"/><circle cx="138.1" cy="354.7" r="1.5"/><circle cx="138.1" cy="350" r="1.5"/><circle cx="138.1" cy="353.8" r="1.5"/><circle cx="138.1" cy="382" r="1.5"/><circle cx="138.1" cy="392.9" r="1.5"/><circle cx="138.1" cy="413.7" r="1.5"/><circle cx="159.2" cy="354.3" r="1.5"/><circle cx="159.2" cy="323.9" r="1.5"/><circle cx="159.2" cy="353.5" r="1.5"/><circle cx="159.2" cy="352.7" r="1.5"/><circle cx="159.2" cy="352" r="1.5"/><circle cx="159.2" cy="351.1" r="1.5"/><circle cx="159.2" cy="350.1" r="1.5"/><circle cx="159.2" cy="348.6" r="1.5"/><circle cx="159.2" cy="348.2" r="1.5"/><circle cx="159.2" cy="347.3" r="1.5"/><circle cx="159.2" cy="346.3" r="1.5"/><circle cx="159.2" cy="345.6" r="1.5"/><circle cx="159.2" cy="343.8" r="1.5"/><circle cx="159.2" cy="343.8" r="1.5"/><circle cx="159.2" cy="342.3" r="1.5"/><circle cx="159.2" cy="341.1" r="1.5"/><circle cx="159.2" cy="340.7" r="1.5"/><circle cx="159.2" cy="339.5" r="1.5"/><circle cx="159.2" cy="338.7" r="1.5"/><circle cx="159.2" cy="337.9" r="1.5"/><circle cx="159.2" cy="337" r="1.5"/><circle cx="159.2" cy="336.1" r="1.5"/><circle cx="159.2" cy="334.5" r="1.5"/><circle cx="159.2" cy="333.6" r="1.5"/><circle cx="159.2" cy="332.5" r="1.5"/><circle cx="159.2" cy="332.4" r="1.5"/><circle cx="159.2" cy="330.8" r="1.5"/><circle cx="159.2" cy="330.2" r="1.5"/><circle cx="159.2" cy="329" r="1.5"/><circle cx="159.2" cy="328.1" r="1.5"/><circle cx="159.2" cy="327.4" r="1.5"/><circle cx="159.2" cy="325.8" r="1.5"/><circle cx="159.2" cy="325.8" r="1.5"/><circle cx="159.2" cy="324.1" r="1.5"/><circle cx="159.2" cy="350.5" r="1.5"/><circle cx="159.2" cy="328.2" r="1.5"/><circle cx="159.2" cy="339.3" r="1.5"/><circle cx="159.2" cy="350.9" r="1.5"/><circle cx="159.2" cy="344.7" r="1.5"/><circle cx="159.2" cy="332.1" r="1.5"/><circle cx="159.2" cy="333.3" r="1.5"/><circle cx="159.2" cy="339.4" r="1.5"/><circle cx="159.2" cy="334.6" r="1.5"/><circle cx="159.2" cy="339.4" r="1.5"/><circle cx="159.2" cy="342" r="1.5"/><circle cx="159.2" cy="334.5" r="1.5"/><circle cx="159.2" cy="335.6" r="1.5"/><circle cx="159.2" cy="338.2" r="1.5"/><circle cx="159.2" cy="338.7" r="1.5"/><circle cx="159.2" cy="339" r="1.5"/><circle cx="159.2" cy="331.5" r="1.5"/><circle cx="159.2" cy="324" r="1.5"/><circle cx="159.2" cy="334.4" r="1.5"/><circle cx="159.2" cy="343.4" r="1.5"/><circle cx="159.2" cy="331.2" r="1.5"/><circle cx="159.2" cy="340.5" r="1.5"/><circle cx="159.2" cy="334" r="1.5"/><circle cx="159.2" cy="332.3" r="1.5"/><circle cx="159.2" cy="329.4" r="1.5"/><circle cx="159.2" cy="325.7" r="1.5"/><circle cx="159.2" cy="336.6" r="1.5"/><circle cx="159.2" cy="341" r="1.5"/><circle cx="159.2" cy="334.2" r="1.5"/><circle cx="159.2" cy="331.1" r="1.5"/><circle cx="159.2" cy="337.5" r="1.5"/><circle cx="159.2" cy="327.2" r="1.5"/><circle cx="159.2" cy="342.2" r="1.5"/><circle cx="159.2" cy="330.7" r="1.5"/><circle cx="159.2" cy="326.5" r="1.5"/><circle cx="159.2" cy="345.4" r="1.5"/><circle cx="159.2" cy="331.7" r="1.5"/><circle cx="159.2" cy="334.5" r="1.5"/><circle cx="159.2" cy="342.2" r="1.5"/><circle cx="159.2" cy="324.5" r="1.5"/><circle cx="159.2" cy="357" r="1.5"/></g>
<path class="d" d="M28.9 432.8L169.1 323.9"/>
<rect class="s" x="22.5" y="318.75" width="153.2" height="119.0"/>
<path class="tk" d="M30.6 437.8v1.9M59.8 437.8v1.9M89.1 437.8v1.9M118.3 437.8v1.9M147.5 437.8v1.9M22.5 431.4h-1.9M22.5 408.7h-1.9M22.5 386.1h-1.9M22.5 363.4h-1.9M22.5 340.7h-1.9"/>
<text class="k" text-anchor="middle" x="30.6" y="445.2">0</text>
<text class="k" text-anchor="middle" x="59.8" y="445.2">5</text>
<text class="k" text-anchor="middle" x="89.1" y="445.2">10</text>
<text class="k" text-anchor="middle" x="118.3" y="445.2">15</text>
<text class="k" text-anchor="middle" x="147.5" y="445.2">20</text>
<text class="k" text-anchor="end" x="19.6" y="433.4">0</text>
<text class="k" text-anchor="end" x="19.6" y="410.7">5</text>
<text class="k" text-anchor="end" x="19.6" y="388.1">10</text>
<text class="k" text-anchor="end" x="19.6" y="365.4">15</text>
<text class="k" text-anchor="end" x="19.6" y="342.7">20</text>
<text class="t" transform="translate(99.1 316.4) scale(1.016 1)">Secondary sulfuric: R² = 0.938</text>
<text class="l" transform="translate(99.1 453.6) scale(1.04 1)">True Values (%)</text>
<text class="l" transform="translate(9.6 378.2) rotate(-90) scale(1.04 1)">Predicted Values (%)</text>
</g>
<g>
<g class="p"><circle cx="228.1" cy="432.4" r="1.5"/><circle cx="228.1" cy="408.2" r="1.5"/><circle cx="228.1" cy="431" r="1.5"/><circle cx="228.1" cy="430.5" r="1.5"/><circle cx="228.1" cy="428.7" r="1.5"/><circle cx="228.1" cy="426.8" r="1.5"/><circle cx="228.1" cy="425.3" r="1.5"/><circle cx="228.1" cy="423.1" r="1.5"/><circle cx="228.1" cy="420.6" r="1.5"/><circle cx="228.1" cy="419.4" r="1.5"/><circle cx="228.1" cy="417.8" r="1.5"/><circle cx="228.1" cy="416.7" r="1.5"/><circle cx="228.1" cy="414.4" r="1.5"/><circle cx="228.1" cy="411.6" r="1.5"/><circle cx="228.1" cy="410.4" r="1.5"/><circle cx="228.1" cy="409.1" r="1.5"/><circle cx="228.1" cy="430.1" r="1.5"/><circle cx="228.1" cy="419.5" r="1.5"/><circle cx="228.1" cy="420.6" r="1.5"/><circle cx="228.1" cy="423.8" r="1.5"/><circle cx="228.1" cy="422.9" r="1.5"/><circle cx="228.1" cy="425.3" r="1.5"/><circle cx="228.1" cy="424.6" r="1.5"/><circle cx="228.1" cy="421.3" r="1.5"/><circle cx="228.1" cy="424.1" r="1.5"/><circle cx="228.1" cy="417.3" r="1.5"/><circle cx="228.1" cy="421.5" r="1.5"/><circle cx="228.1" cy="420.1" r="1.5"/><circle cx="228.1" cy="418.7" r="1.5"/><circle cx="228.1" cy="414.2" r="1.5"/><circle cx="228.1" cy="417.7" r="1.5"/><circle cx="228.1" cy="419.6" r="1.5"/><circle cx="228.1" cy="421.6" r="1.5"/><circle cx="228.1" cy="424.9" r="1.5"/><circle cx="228.1" cy="422.5" r="1.5"/><circle cx="228.1" cy="405.4" r="1.5"/><circle cx="228.1" cy="401.6" r="1.5"/><circle cx="228.1" cy="398.8" r="1.5"/><circle cx="228.1" cy="387.6" r="1.5"/><circle cx="228.1" cy="371.8" r="1.5"/><circle cx="232.3" cy="426.8" r="1.5"/><circle cx="232.3" cy="408.2" r="1.5"/><circle cx="232.3" cy="424.6" r="1.5"/><circle cx="232.3" cy="423.9" r="1.5"/><circle cx="232.3" cy="419.8" r="1.5"/><circle cx="232.3" cy="416.5" r="1.5"/><circle cx="232.3" cy="415.6" r="1.5"/><circle cx="232.3" cy="412.4" r="1.5"/><circle cx="232.3" cy="408.7" r="1.5"/><circle cx="232.3" cy="414.8" r="1.5"/><circle cx="232.3" cy="420.4" r="1.5"/><circle cx="232.3" cy="420.1" r="1.5"/><circle cx="232.3" cy="413.3" r="1.5"/><circle cx="232.3" cy="416.3" r="1.5"/><circle cx="232.3" cy="421.8" r="1.5"/><circle cx="232.3" cy="412.7" r="1.5"/><circle cx="232.3" cy="418.7" r="1.5"/><circle cx="232.3" cy="413.5" r="1.5"/><circle cx="232.3" cy="403.5" r="1.5"/><circle cx="232.3" cy="400.7" r="1.5"/><circle cx="232.3" cy="395.1" r="1.5"/><circle cx="232.3" cy="394.2" r="1.5"/><circle cx="232.3" cy="378.3" r="1.5"/><circle cx="232.3" cy="377.4" r="1.5"/><circle cx="232.3" cy="369.9" r="1.5"/><circle cx="237.1" cy="420.3" r="1.5"/><circle cx="237.1" cy="401.6" r="1.5"/><circle cx="237.1" cy="418.3" r="1.5"/><circle cx="237.1" cy="414.7" r="1.5"/><circle cx="237.1" cy="413" r="1.5"/><circle cx="237.1" cy="409.8" r="1.5"/><circle cx="237.1" cy="406.1" r="1.5"/><circle cx="237.1" cy="401.9" r="1.5"/><circle cx="237.1" cy="409.9" r="1.5"/><circle cx="237.1" cy="403.7" r="1.5"/><circle cx="237.1" cy="414.7" r="1.5"/><circle cx="237.1" cy="417.6" r="1.5"/><circle cx="237.1" cy="415.6" r="1.5"/><circle cx="237.1" cy="416.9" r="1.5"/><circle cx="237.1" cy="407.6" r="1.5"/><circle cx="237.1" cy="410.8" r="1.5"/><circle cx="237.1" cy="384.8" r="1.5"/><circle cx="237.1" cy="379.2" r="1.5"/><circle cx="240.7" cy="417.5" r="1.5"/><circle cx="240.7" cy="400.7" r="1.5"/><circle cx="240.7" cy="416.9" r="1.5"/><circle cx="240.7" cy="415.2" r="1.5"/><circle cx="240.7" cy="413.7" r="1.5"/><circle cx="240.7" cy="411.5" r="1.5"/><circle cx="240.7" cy="410.2" r="1.5"/><circle cx="240.7" cy="409.8" r="1.5"/><circle cx="240.7" cy="407.4" r="1.5"/><circle cx="240.7" cy="406.1" r="1.5"/><circle cx="240.7" cy="404.6" r="1.5"/><circle cx="240.7" cy="402.5" r="1.5"/><circle cx="240.7" cy="401.6" r="1.5"/><circle cx="240.7" cy="409.7" r="1.5"/><circle cx="240.7" cy="414.9" r="1.5"/><circle cx="240.7" cy="409.4" r="1.5"/><circle cx="240.7" cy="411.5" r="1.5"/><circle cx="240.7" cy="413.8" r="1.5"/><circle cx="240.7" cy="416.2" r="1.5"/><circle cx="240.7" cy="411.8" r="1.5"/><circle cx="240.7" cy="410.4" r="1.5"/><circle cx="240.7" cy="412.9" r="1.5"/><circle cx="240.7" cy="415.2" r="1.5"/><circle cx="240.7" cy="410.2" r="1.5"/><circle cx="240.7" cy="417.2" r="1.5"/><circle cx="240.7" cy="409.1" r="1.5"/><circle cx="240.7" cy="409.2" r="1.5"/><circle cx="240.7" cy="405" r="1.5"/><circle cx="240.7" cy="396" r="1.5"/><circle cx="240.7" cy="379.2" r="1.5"/><circle cx="240.7" cy="395.8" r="1.5"/><circle cx="240.7" cy="394" r="1.5"/><circle cx="240.7" cy="390.9" r="1.5"/><circle cx="240.7" cy="389.4" r="1.5"/><circle cx="240.7" cy="388.5" r="1.5"/><circle cx="240.7" cy="385.4" r="1.5"/><circle cx="240.7" cy="383.5" r="1.5"/><circle cx="240.7" cy="382.1" r="1.5"/><circle cx="240.7" cy="381" r="1.5"/><circle cx="240.7" cy="387.9" r="1.5"/><circle cx="240.7" cy="392.4" r="1.5"/><circle cx="240.7" cy="394.5" r="1.5"/><circle cx="240.7" cy="388" r="1.5"/><circle cx="240.7" cy="389" r="1.5"/><circle cx="240.7" cy="388.4" r="1.5"/><circle cx="240.7" cy="391.4" r="1.5"/><circle cx="240.7" cy="391" r="1.5"/><circle cx="240.7" cy="388.1" r="1.5"/><circle cx="240.7" cy="391.2" r="1.5"/><circle cx="240.7" cy="391.2" r="1.5"/><circle cx="240.7" cy="387.8" r="1.5"/><circle cx="242.5" cy="420.3" r="1.5"/><circle cx="242.5" cy="400.7" r="1.5"/><circle cx="242.5" cy="419.8" r="1.5"/><circle cx="242.5" cy="417" r="1.5"/><circle cx="242.5" cy="415.7" r="1.5"/><circle cx="242.5" cy="414" r="1.5"/><circle cx="242.5" cy="412.4" r="1.5"/><circle cx="242.5" cy="411.3" r="1.5"/><circle cx="242.5" cy="409.1" r="1.5"/><circle cx="242.5" cy="406.3" r="1.5"/><circle cx="242.5" cy="404.6" r="1.5"/><circle cx="242.5" cy="402.7" r="1.5"/><circle cx="242.5" cy="402" r="1.5"/><circle cx="242.5" cy="409.1" r="1.5"/><circle cx="242.5" cy="408.2" r="1.5"/><circle cx="242.5" cy="413.6" r="1.5"/><circle cx="242.5" cy="410.5" r="1.5"/><circle cx="242.5" cy="414.4" r="1.5"/><circle cx="242.5" cy="408.5" r="1.5"/><circle cx="242.5" cy="413.1" r="1.5"/><circle cx="242.5" cy="411.6" r="1.5"/><circle cx="242.5" cy="408.7" r="1.5"/><circle cx="242.5" cy="412.3" r="1.5"/><circle cx="242.5" cy="404.8" r="1.5"/><circle cx="242.5" cy="412.2" r="1.5"/><circle cx="242.5" cy="406.1" r="1.5"/><circle cx="242.5" cy="408.4" r="1.5"/><circle cx="242.5" cy="413.8" r="1.5"/><circle cx="242.5" cy="397" r="1.5"/><circle cx="242.5" cy="379.2" r="1.5"/><circle cx="242.5" cy="395.9" r="1.5"/><circle cx="242.5" cy="394.4" r="1.5"/><circle cx="242.5" cy="392.5" r="1.5"/><circle cx="242.5" cy="389.5" r="1.5"/><circle cx="242.5" cy="388.5" r="1.5"/><circle cx="242.5" cy="385.7" r="1.5"/><circle cx="242.5" cy="383.6" r="1.5"/><circle cx="242.5" cy="382" r="1.5"/><circle cx="242.5" cy="380.3" r="1.5"/><circle cx="242.5" cy="392.5" r="1.5"/><circle cx="242.5" cy="387.8" r="1.5"/><circle cx="242.5" cy="393.3" r="1.5"/><circle cx="242.5" cy="390.7" r="1.5"/><circle cx="242.5" cy="392.6" r="1.5"/><circle cx="242.5" cy="396.7" r="1.5"/><circle cx="242.5" cy="389.4" r="1.5"/><circle cx="242.5" cy="384.3" r="1.5"/><circle cx="242.5" cy="389.3" r="1.5"/><circle cx="242.5" cy="387" r="1.5"/><circle cx="242.5" cy="389.4" r="1.5"/><circle cx="242.5" cy="387.9" r="1.5"/><circle cx="262.3" cy="403.5" r="1.5"/><circle cx="262.3" cy="380.2" r="1.5"/><circle cx="262.3" cy="401.9" r="1.5"/><circle cx="262.3" cy="398.2" r="1.5"/><circle cx="262.3" cy="396.2" r="1.5"/><circle cx="262.3" cy="392.8" r="1.5"/><circle cx="262.3" cy="389.9" r="1.5"/><circle cx="262.3" cy="388.1" r="1.5"/><circle cx="262.3" cy="385.4" r="1.5"/><circle cx="262.3" cy="380.6" r="1.5"/><circle cx="262.3" cy="383.8" r="1.5"/><circle cx="262.3" cy="387.3" r="1.5"/><circle cx="262.3" cy="385.2" r="1.5"/><circle cx="262.3" cy="393.5" r="1.5"/><circle cx="262.3" cy="391.9" r="1.5"/><circle cx="262.3" cy="386.8" r="1.5"/><circle cx="262.3" cy="389.2" r="1.5"/><circle cx="262.3" cy="389.2" r="1.5"/><circle cx="262.3" cy="395.8" r="1.5"/><circle cx="262.3" cy="396.3" r="1.5"/><circle cx="262.3" cy="375.5" r="1.5"/><circle cx="262.3" cy="370.8" r="1.5"/><circle cx="262.3" cy="366.2" r="1.5"/><circle cx="262.3" cy="363.4" r="1.5"/><circle cx="262.3" cy="361.5" r="1.5"/><circle cx="262.3" cy="353.1" r="1.5"/><circle cx="262.3" cy="341.9" r="1.5"/><circle cx="279.1" cy="411" r="1.5"/><circle cx="279.1" cy="375.5" r="1.5"/><circle cx="279.1" cy="408.7" r="1.5"/><circle cx="279.1" cy="406.7" r="1.5"/><circle cx="279.1" cy="405.5" r="1.5"/><circle cx="279.1" cy="403.2" r="1.5"/><circle cx="279.1" cy="399.1" r="1.5"/><circle cx="279.1" cy="398.2" r="1.5"/><circle cx="279.1" cy="393.6" r="1.5"/><circle cx="279.1" cy="392.5" r="1.5"/><circle cx="279.1" cy="390.1" r="1.5"/><circle cx="279.1" cy="386.7" r="1.5"/><circle cx="279.1" cy="384.8" r="1.5"/><circle cx="279.1" cy="381.7" r="1.5"/><circle cx="279.1" cy="380.2" r="1.5"/><circle cx="279.1" cy="375.7" r="1.5"/><circle cx="279.1" cy="391.1" r="1.5"/><circle cx="279.1" cy="392.8" r="1.5"/><circle cx="279.1" cy="378.1" r="1.5"/><circle cx="279.1" cy="378.5" r="1.5"/><circle cx="279.1" cy="387.1" r="1.5"/><circle cx="279.1" cy="378.8" r="1.5"/><circle cx="279.1" cy="384.6" r="1.5"/><circle cx="279.1" cy="389.6" r="1.5"/><circle cx="279.1" cy="390.4" r="1.5"/><circle cx="279.1" cy="389.4" r="1.5"/><circle cx="279.1" cy="387.1" r="1.5"/><circle cx="279.1" cy="398.3" r="1.5"/><circle cx="279.1" cy="383.4" r="1.5"/><circle cx="279.1" cy="396.6" r="1.5"/><circle cx="279.1" cy="381.2" r="1.5"/><circle cx="279.1" cy="376.6" r="1.5"/><circle cx="279.1" cy="386.6" r="1.5"/><circle cx="279.1" cy="392.4" r="1.5"/><circle cx="279.1" cy="387.2" r="1.5"/><circle cx="281.5" cy="412.8" r="1.5"/><circle cx="281.5" cy="370.8" r="1.5"/><circle cx="281.5" cy="411.9" r="1.5"/><circle cx="281.5" cy="408.2" r="1.5"/><circle cx="281.5" cy="406.3" r="1.5"/><circle cx="281.5" cy="402.5" r="1.5"/><circle cx="281.5" cy="402.1" r="1.5"/><circle cx="281.5" cy="398.4" r="1.5"/><circle cx="281.5" cy="394.8" r="1.5"/><circle cx="281.5" cy="392.9" r="1.5"/><circle cx="281.5" cy="390.4" r="1.5"/><circle cx="281.5" cy="389" r="1.5"/><circle cx="281.5" cy="386.2" r="1.5"/><circle cx="281.5" cy="383.2" r="1.5"/><circle cx="281.5" cy="379" r="1.5"/><circle cx="281.5" cy="376.5" r="1.5"/><circle cx="281.5" cy="375.5" r="1.5"/><circle cx="281.5" cy="371" r="1.5"/><circle cx="281.5" cy="371.3" r="1.5"/><circle cx="281.5" cy="380.9" r="1.5"/><circle cx="281.5" cy="375.2" r="1.5"/><circle cx="281.5" cy="385.1" r="1.5"/><circle cx="281.5" cy="370.9" r="1.5"/><circle cx="281.5" cy="388" r="1.5"/><circle cx="281.5" cy="375.6" r="1.5"/><circle cx="281.5" cy="380.9" r="1.5"/><circle cx="281.5" cy="390" r="1.5"/><circle cx="281.5" cy="381.3" r="1.5"/><circle cx="281.5" cy="383.7" r="1.5"/><circle cx="281.5" cy="389.2" r="1.5"/><circle cx="281.5" cy="381.6" r="1.5"/><circle cx="281.5" cy="390.9" r="1.5"/><circle cx="281.5" cy="372.8" r="1.5"/><circle cx="281.5" cy="378.5" r="1.5"/><circle cx="281.5" cy="373.9" r="1.5"/><circle cx="281.5" cy="376.9" r="1.5"/><circle cx="281.5" cy="380.5" r="1.5"/><circle cx="281.5" cy="395.4" r="1.5"/><circle cx="285.1" cy="409.1" r="1.5"/><circle cx="285.1" cy="369" r="1.5"/><circle cx="285.1" cy="408.1" r="1.5"/><circle cx="285.1" cy="406.8" r="1.5"/><circle cx="285.1" cy="403.5" r="1.5"/><circle cx="285.1" cy="402.2" r="1.5"/><circle cx="285.1" cy="398.7" r="1.5"/><circle cx="285.1" cy="397.7" r="1.5"/><circle cx="285.1" cy="394.4" r="1.5"/><circle cx="285.1" cy="392.7" r="1.5"/><circle cx="285.1" cy="390.4" r="1.5"/><circle cx="285.1" cy="387.6" r="1.5"/><circle cx="285.1" cy="386.4" r="1.5"/><circle cx="285.1" cy="384.2" r="1.5"/><circle cx="285.1" cy="380.2" r="1.5"/><circle cx="285.1" cy="379.4" r="1.5"/><circle cx="285.1" cy="376" r="1.5"/><circle cx="285.1" cy="373.7" r="1.5"/><circle cx="285.1" cy="372.4" r="1.5"/><circle cx="285.1" cy="370.9" r="1.5"/><circle cx="285.1" cy="371" r="1.5"/><circle cx="285.1" cy="373.4" r="1.5"/><circle cx="285.1" cy="374.1" r="1.5"/><circle cx="285.1" cy="385.3" r="1.5"/><circle cx="285.1" cy="382" r="1.5"/><circle cx="285.1" cy="386.1" r="1.5"/><circle cx="285.1" cy="380" r="1.5"/><circle cx="285.1" cy="391.1" r="1.5"/><circle cx="285.1" cy="383.3" r="1.5"/><circle cx="285.1" cy="384.9" r="1.5"/><circle cx="285.1" cy="376.7" r="1.5"/><circle cx="285.1" cy="385.8" r="1.5"/><circle cx="285.1" cy="377.7" r="1.5"/><circle cx="285.1" cy="376.5" r="1.5"/><circle cx="285.1" cy="376.4" r="1.5"/><circle cx="285.1" cy="373.9" r="1.5"/><circle cx="285.1" cy="388.4" r="1.5"/><circle cx="285.1" cy="379.8" r="1.5"/><circle cx="285.1" cy="382" r="1.5"/><circle cx="285.1" cy="371.5" r="1.5"/><circle cx="285.1" cy="384.5" r="1.5"/><circle cx="285.1" cy="378.1" r="1.5"/><circle cx="285.1" cy="392" r="1.5"/><circle cx="285.1" cy="383.4" r="1.5"/><circle cx="294.8" cy="389.5" r="1.5"/><circle cx="294.8" cy="365.2" r="1.5"/><circle cx="294.8" cy="388.2" r="1.5"/><circle cx="294.8" cy="387.5" r="1.5"/><circle cx="294.8" cy="385.6" r="1.5"/><circle cx="294.8" cy="384.2" r="1.5"/><circle cx="294.8" cy="381.9" r="1.5"/><circle cx="294.8" cy="379.9" r="1.5"/><circle cx="294.8" cy="378.6" r="1.5"/><circle cx="294.8" cy="375.8" r="1.5"/><circle cx="294.8" cy="375.5" r="1.5"/><circle cx="294.8" cy="372.9" r="1.5"/><circle cx="294.8" cy="371.8" r="1.5"/><circle cx="294.8" cy="369.4" r="1.5"/><circle cx="294.8" cy="367.3" r="1.5"/><circle cx="294.8" cy="365.7" r="1.5"/><circle cx="294.8" cy="376" r="1.5"/><circle cx="294.8" cy="368.8" r="1.5"/><circle cx="294.8" cy="371" r="1.5"/><circle cx="294.8" cy="384.7" r="1.5"/><circle cx="294.8" cy="381.3" r="1.5"/><circle cx="294.8" cy="365.4" r="1.5"/><circle cx="294.8" cy="370.6" r="1.5"/><circle cx="294.8" cy="376" r="1.5"/><circle cx="294.8" cy="381.6" r="1.5"/><circle cx="294.8" cy="377.8" r="1.5"/><circle cx="294.8" cy="384.1" r="1.5"/><circle cx="294.8" cy="369.7" r="1.5"/><circle cx="294.8" cy="371.7" r="1.5"/><circle cx="294.8" cy="377.1" r="1.5"/><circle cx="294.8" cy="369.7" r="1.5"/><circle cx="294.8" cy="369.1" r="1.5"/><circle cx="294.8" cy="370.4" r="1.5"/><circle cx="294.8" cy="373.3" r="1.5"/><circle cx="294.8" cy="380.4" r="1.5"/><circle cx="294.8" cy="394.2" r="1.5"/><circle cx="294.8" cy="397.9" r="1.5"/><circle cx="294.8" cy="404.4" r="1.5"/><circle cx="294.8" cy="405.4" r="1.5"/><circle cx="294.8" cy="420.3" r="1.5"/><circle cx="323.6" cy="375.5" r="1.5"/><circle cx="323.6" cy="342.8" r="1.5"/><circle cx="323.6" cy="375.2" r="1.5"/><circle cx="323.6" cy="372.8" r="1.5"/><circle cx="323.6" cy="371.1" r="1.5"/><circle cx="323.6" cy="369" r="1.5"/><circle cx="323.6" cy="366.9" r="1.5"/><circle cx="323.6" cy="364.6" r="1.5"/><circle cx="323.6" cy="361.3" r="1.5"/><circle cx="323.6" cy="359.2" r="1.5"/><circle cx="323.6" cy="357.5" r="1.5"/><circle cx="323.6" cy="356.1" r="1.5"/><circle cx="323.6" cy="354.1" r="1.5"/><circle cx="323.6" cy="351.4" r="1.5"/><circle cx="323.6" cy="349.1" r="1.5"/><circle cx="323.6" cy="347.4" r="1.5"/><circle cx="323.6" cy="345.6" r="1.5"/><circle cx="323.6" cy="344.5" r="1.5"/><circle cx="323.6" cy="362.3" r="1.5"/><circle cx="323.6" cy="362.3" r="1.5"/><circle cx="323.6" cy="351.9" r="1.5"/><circle cx="323.6" cy="355.7" r="1.5"/><circle cx="323.6" cy="354" r="1.5"/><circle cx="323.6" cy="359.1" r="1.5"/><circle cx="323.6" cy="343" r="1.5"/><circle cx="323.6" cy="358.1" r="1.5"/><circle cx="323.6" cy="363" r="1.5"/><circle cx="323.6" cy="343.8" r="1.5"/><circle cx="323.6" cy="358.6" r="1.5"/><circle cx="323.6" cy="353.1" r="1.5"/><circle cx="323.6" cy="366" r="1.5"/><circle cx="323.6" cy="349.6" r="1.5"/><circle cx="323.6" cy="361.6" r="1.5"/><circle cx="323.6" cy="364.8" r="1.5"/><circle cx="323.6" cy="347.4" r="1.5"/><circle cx="323.6" cy="349.5" r="1.5"/><circle cx="323.6" cy="366.7" r="1.5"/><circle cx="323.6" cy="358.1" r="1.5"/><circle cx="323.6" cy="338.2" r="1.5"/><circle cx="323.6" cy="334.4" r="1.5"/><circle cx="323.6" cy="325.1" r="1.5"/><circle cx="323.6" cy="380.2" r="1.5"/><circle cx="323.6" cy="384.8" r="1.5"/><circle cx="323.6" cy="387.6" r="1.5"/><circle cx="323.6" cy="390.4" r="1.5"/><circle cx="323.6" cy="396" r="1.5"/><circle cx="323.6" cy="398.8" r="1.5"/><circle cx="323.6" cy="400.7" r="1.5"/></g>
<path class="d" d="M213 432.4L352.4 324.2"/>
<rect class="s" x="206.2" y="318.75" width="153.2" height="119.0"/>
<path class="tk" d="M214.3 437.8v1.9M238.3 437.8v1.9M262.3 437.8v1.9M286.3 437.8v1.9M310.4 437.8v1.9M334.4 437.8v1.9M358.4 437.8v1.9M206.2 431.5h-1.9M206.2 412.8h-1.9M206.2 394.2h-1.9M206.2 375.5h-1.9M206.2 356.8h-1.9M206.2 338.2h-1.9M206.2 319.5h-1.9"/>
<text class="k" text-anchor="middle" x="214.3" y="445.2">2</text>
<text class="k" text-anchor="middle" x="238.3" y="445.2">4</text>
<text class="k" text-anchor="middle" x="262.3" y="445.2">6</text>
<text class="k" text-anchor="middle" x="286.3" y="445.2">8</text>
<text class="k" text-anchor="middle" x="310.4" y="445.2">10</text>
<text class="k" text-anchor="middle" x="334.4" y="445.2">12</text>
<text class="k" text-anchor="middle" x="358.4" y="445.2">14</text>
<text class="k" text-anchor="end" x="203.3" y="433.5">2</text>
<text class="k" text-anchor="end" x="203.3" y="414.8">4</text>
<text class="k" text-anchor="end" x="203.3" y="396.2">6</text>
<text class="k" text-anchor="end" x="203.3" y="377.5">8</text>
<text class="k" text-anchor="end" x="203.3" y="358.8">10</text>
<text class="k" text-anchor="end" x="203.3" y="340.2">12</text>
<text class="k" text-anchor="end" x="203.3" y="321.5">14</text>
<text class="t" transform="translate(282.8 316.4) scale(1.016 1)">SOC: R² = 0.796</text>
<text class="l" transform="translate(282.8 453.6) scale(1.04 1)">True Values (%)</text>
<text class="l" transform="translate(193.3 378.2) rotate(-90) scale(1.04 1)">Predicted Values (%)</text>
</g>
<g>
<g class="p"><circle cx="400.8" cy="431.7" r="1.5"/><circle cx="400.8" cy="410.6" r="1.5"/><circle cx="400.8" cy="431.2" r="1.5"/><circle cx="400.8" cy="429.8" r="1.5"/><circle cx="400.8" cy="429.7" r="1.5"/><circle cx="400.8" cy="427.9" r="1.5"/><circle cx="400.8" cy="427.1" r="1.5"/><circle cx="400.8" cy="426.7" r="1.5"/><circle cx="400.8" cy="425.2" r="1.5"/><circle cx="400.8" cy="424.8" r="1.5"/><circle cx="400.8" cy="423.9" r="1.5"/><circle cx="400.8" cy="422.6" r="1.5"/><circle cx="400.8" cy="421.9" r="1.5"/><circle cx="400.8" cy="420.7" r="1.5"/><circle cx="400.8" cy="419.3" r="1.5"/><circle cx="400.8" cy="418.6" r="1.5"/><circle cx="400.8" cy="417.6" r="1.5"/><circle cx="400.8" cy="417" r="1.5"/><circle cx="400.8" cy="415.6" r="1.5"/><circle cx="400.8" cy="414.7" r="1.5"/><circle cx="400.8" cy="413.8" r="1.5"/><circle cx="400.8" cy="412.6" r="1.5"/><circle cx="400.8" cy="411.7" r="1.5"/><circle cx="400.8" cy="411.2" r="1.5"/><circle cx="400.8" cy="414.3" r="1.5"/><circle cx="400.8" cy="419.7" r="1.5"/><circle cx="400.8" cy="421.9" r="1.5"/><circle cx="400.8" cy="423.2" r="1.5"/><circle cx="400.8" cy="429" r="1.5"/><circle cx="400.8" cy="430.3" r="1.5"/><circle cx="400.8" cy="425.3" r="1.5"/><circle cx="400.8" cy="425.8" r="1.5"/><circle cx="400.8" cy="426.2" r="1.5"/><circle cx="400.8" cy="425.3" r="1.5"/><circle cx="400.8" cy="418.9" r="1.5"/><circle cx="400.8" cy="420" r="1.5"/><circle cx="400.8" cy="430.8" r="1.5"/><circle cx="400.8" cy="422.3" r="1.5"/><circle cx="400.8" cy="429.4" r="1.5"/><circle cx="400.8" cy="424.3" r="1.5"/><circle cx="400.8" cy="424.4" r="1.5"/><circle cx="400.8" cy="421.2" r="1.5"/><circle cx="400.8" cy="421.8" r="1.5"/><circle cx="400.8" cy="430.7" r="1.5"/><circle cx="400.8" cy="425.9" r="1.5"/><circle cx="400.8" cy="423.5" r="1.5"/><circle cx="400.8" cy="426.3" r="1.5"/><circle cx="400.8" cy="418.3" r="1.5"/><circle cx="400.8" cy="431.7" r="1.5"/><circle cx="400.8" cy="423" r="1.5"/><circle cx="400.8" cy="424.6" r="1.5"/><circle cx="400.8" cy="375.2" r="1.5"/><circle cx="413.3" cy="428.8" r="1.5"/><circle cx="413.3" cy="412.7" r="1.5"/><circle cx="413.3" cy="428.1" r="1.5"/><circle cx="413.3" cy="427.8" r="1.5"/><circle cx="413.3" cy="426.1" r="1.5"/><circle cx="413.3" cy="425.8" r="1.5"/><circle cx="413.3" cy="424.7" r="1.5"/><circle cx="413.3" cy="423.1" r="1.5"/><circle cx="413.3" cy="422.8" r="1.5"/><circle cx="413.3" cy="421.9" r="1.5"/><circle cx="413.3" cy="420.4" r="1.5"/><circle cx="413.3" cy="419.7" r="1.5"/><circle cx="413.3" cy="418.5" r="1.5"/><circle cx="413.3" cy="418" r="1.5"/><circle cx="413.3" cy="417" r="1.5"/><circle cx="413.3" cy="415.6" r="1.5"/><circle cx="413.3" cy="415.1" r="1.5"/><circle cx="413.3" cy="413.7" r="1.5"/><circle cx="413.3" cy="413.5" r="1.5"/><circle cx="413.3" cy="421.1" r="1.5"/><circle cx="413.3" cy="418.5" r="1.5"/><circle cx="413.3" cy="421.3" r="1.5"/><circle cx="413.3" cy="419.6" r="1.5"/><circle cx="413.3" cy="419.5" r="1.5"/><circle cx="413.3" cy="415.7" r="1.5"/><circle cx="413.3" cy="425.6" r="1.5"/><circle cx="413.3" cy="417.7" r="1.5"/><circle cx="413.3" cy="419.5" r="1.5"/><circle cx="413.3" cy="416.2" r="1.5"/><circle cx="413.3" cy="415.9" r="1.5"/><circle cx="413.3" cy="416.9" r="1.5"/><circle cx="413.3" cy="416.8" r="1.5"/><circle cx="413.3" cy="422.7" r="1.5"/><circle cx="413.3" cy="425.2" r="1.5"/><circle cx="413.3" cy="413.9" r="1.5"/><circle cx="413.3" cy="415.4" r="1.5"/><circle cx="413.3" cy="422.7" r="1.5"/><circle cx="413.3" cy="415.1" r="1.5"/><circle cx="413.3" cy="417.2" r="1.5"/><circle cx="413.3" cy="427.7" r="1.5"/><circle cx="413.3" cy="416.5" r="1.5"/><circle cx="413.3" cy="408.5" r="1.5"/><circle cx="413.3" cy="405.6" r="1.5"/><circle cx="413.3" cy="402.2" r="1.5"/><circle cx="413.3" cy="388.7" r="1.5"/><circle cx="413.3" cy="387.4" r="1.5"/><circle cx="414.9" cy="427.5" r="1.5"/><circle cx="414.9" cy="410.6" r="1.5"/><circle cx="414.9" cy="427.1" r="1.5"/><circle cx="414.9" cy="425.7" r="1.5"/><circle cx="414.9" cy="424.7" r="1.5"/><circle cx="414.9" cy="423.9" r="1.5"/><circle cx="414.9" cy="422.7" r="1.5"/><circle cx="414.9" cy="421.5" r="1.5"/><circle cx="414.9" cy="420.2" r="1.5"/><circle cx="414.9" cy="419.6" r="1.5"/><circle cx="414.9" cy="418.7" r="1.5"/><circle cx="414.9" cy="417" r="1.5"/><circle cx="414.9" cy="416.9" r="1.5"/><circle cx="414.9" cy="415" r="1.5"/><circle cx="414.9" cy="414.1" r="1.5"/><circle cx="414.9" cy="413.2" r="1.5"/><circle cx="414.9" cy="412.3" r="1.5"/><circle cx="414.9" cy="410.9" r="1.5"/><circle cx="414.9" cy="413.6" r="1.5"/><circle cx="414.9" cy="422" r="1.5"/><circle cx="414.9" cy="418.2" r="1.5"/><circle cx="414.9" cy="419.2" r="1.5"/><circle cx="414.9" cy="419.1" r="1.5"/><circle cx="414.9" cy="416.4" r="1.5"/><circle cx="414.9" cy="410.8" r="1.5"/><circle cx="414.9" cy="420.5" r="1.5"/><circle cx="414.9" cy="415.2" r="1.5"/><circle cx="414.9" cy="414.4" r="1.5"/><circle cx="414.9" cy="419.2" r="1.5"/><circle cx="414.9" cy="418.7" r="1.5"/><circle cx="414.9" cy="423" r="1.5"/><circle cx="414.9" cy="414.4" r="1.5"/><circle cx="414.9" cy="420.1" r="1.5"/><circle cx="414.9" cy="420.5" r="1.5"/><circle cx="414.9" cy="418" r="1.5"/><circle cx="414.9" cy="421.2" r="1.5"/><circle cx="414.9" cy="421.9" r="1.5"/><circle cx="414.9" cy="419.3" r="1.5"/><circle cx="419.8" cy="426.7" r="1.5"/><circle cx="419.8" cy="408.5" r="1.5"/><circle cx="419.8" cy="425.6" r="1.5"/><circle cx="419.8" cy="424.9" r="1.5"/><circle cx="419.8" cy="423.7" r="1.5"/><circle cx="419.8" cy="422.7" r="1.5"/><circle cx="419.8" cy="422" r="1.5"/><circle cx="419.8" cy="420.3" r="1.5"/><circle cx="419.8" cy="419.5" r="1.5"/><circle cx="419.8" cy="418.4" r="1.5"/><circle cx="419.8" cy="417.8" r="1.5"/><circle cx="419.8" cy="416.9" r="1.5"/><circle cx="419.8" cy="415.4" r="1.5"/><circle cx="419.8" cy="414" r="1.5"/><circle cx="419.8" cy="413" r="1.5"/><circle cx="419.8" cy="412.4" r="1.5"/><circle cx="419.8" cy="411.6" r="1.5"/><circle cx="419.8" cy="410.1" r="1.5"/><circle cx="419.8" cy="408.6" r="1.5"/><circle cx="419.8" cy="411" r="1.5"/><circle cx="419.8" cy="408.9" r="1.5"/><circle cx="419.8" cy="412.8" r="1.5"/><circle cx="419.8" cy="411.4" r="1.5"/><circle cx="419.8" cy="411.3" r="1.5"/><circle cx="419.8" cy="413.3" r="1.5"/><circle cx="419.8" cy="422.1" r="1.5"/><circle cx="419.8" cy="411.9" r="1.5"/><circle cx="419.8" cy="415" r="1.5"/><circle cx="419.8" cy="417.9" r="1.5"/><circle cx="419.8" cy="413.3" r="1.5"/><circle cx="419.8" cy="411.1" r="1.5"/><circle cx="419.8" cy="416.2" r="1.5"/><circle cx="419.8" cy="413.7" r="1.5"/><circle cx="419.8" cy="414.7" r="1.5"/><circle cx="419.8" cy="410.5" r="1.5"/><circle cx="419.8" cy="422.1" r="1.5"/><circle cx="419.8" cy="414.7" r="1.5"/><circle cx="419.8" cy="411.8" r="1.5"/><circle cx="419.8" cy="410.8" r="1.5"/><circle cx="419.8" cy="416.8" r="1.5"/><circle cx="419.8" cy="411.5" r="1.5"/><circle cx="419.8" cy="400.1" r="1.5"/><circle cx="419.8" cy="384.9" r="1.5"/><circle cx="450.8" cy="395.8" r="1.5"/><circle cx="450.8" cy="376.9" r="1.5"/><circle cx="450.8" cy="394.7" r="1.5"/><circle cx="450.8" cy="393.9" r="1.5"/><circle cx="450.8" cy="392.7" r="1.5"/><circle cx="450.8" cy="390.4" r="1.5"/><circle cx="450.8" cy="389.3" r="1.5"/><circle cx="450.8" cy="387.7" r="1.5"/><circle cx="450.8" cy="386.1" r="1.5"/><circle cx="450.8" cy="384.5" r="1.5"/><circle cx="450.8" cy="383.8" r="1.5"/><circle cx="450.8" cy="382.2" r="1.5"/><circle cx="450.8" cy="379.9" r="1.5"/><circle cx="450.8" cy="379" r="1.5"/><circle cx="450.8" cy="377.9" r="1.5"/><circle cx="450.8" cy="395.2" r="1.5"/><circle cx="450.8" cy="392.3" r="1.5"/><circle cx="450.8" cy="392.5" r="1.5"/><circle cx="450.8" cy="390" r="1.5"/><circle cx="450.8" cy="391.3" r="1.5"/><circle cx="450.8" cy="387.7" r="1.5"/><circle cx="450.8" cy="394.9" r="1.5"/><circle cx="450.8" cy="382.4" r="1.5"/><circle cx="450.8" cy="390.5" r="1.5"/><circle cx="450.8" cy="387.1" r="1.5"/><circle cx="450.8" cy="385.4" r="1.5"/><circle cx="450.8" cy="387.9" r="1.5"/><circle cx="450.8" cy="390" r="1.5"/><circle cx="450.8" cy="386.2" r="1.5"/><circle cx="450.8" cy="387.4" r="1.5"/><circle cx="450.8" cy="387.9" r="1.5"/><circle cx="450.8" cy="402.2" r="1.5"/><circle cx="450.8" cy="400.5" r="1.5"/><circle cx="450.8" cy="411.5" r="1.5"/><circle cx="450.8" cy="371.4" r="1.5"/><circle cx="450.8" cy="363.4" r="1.5"/><circle cx="450.8" cy="352.4" r="1.5"/><circle cx="450.8" cy="341" r="1.5"/><circle cx="456.7" cy="395.8" r="1.5"/><circle cx="456.7" cy="368.4" r="1.5"/><circle cx="456.7" cy="395" r="1.5"/><circle cx="456.7" cy="393.4" r="1.5"/><circle cx="456.7" cy="392.6" r="1.5"/><circle cx="456.7" cy="391.2" r="1.5"/><circle cx="456.7" cy="389.9" r="1.5"/><circle cx="456.7" cy="389.1" r="1.5"/><circle cx="456.7" cy="387.2" r="1.5"/><circle cx="456.7" cy="386.2" r="1.5"/><circle cx="456.7" cy="385.4" r="1.5"/><circle cx="456.7" cy="384.1" r="1.5"/><circle cx="456.7" cy="382.4" r="1.5"/><circle cx="456.7" cy="381.7" r="1.5"/><circle cx="456.7" cy="380.7" r="1.5"/><circle cx="456.7" cy="378.6" r="1.5"/><circle cx="456.7" cy="377.7" r="1.5"/><circle cx="456.7" cy="376.5" r="1.5"/><circle cx="456.7" cy="375.1" r="1.5"/><circle cx="456.7" cy="373.5" r="1.5"/><circle cx="456.7" cy="373.2" r="1.5"/><circle cx="456.7" cy="371.7" r="1.5"/><circle cx="456.7" cy="370.8" r="1.5"/><circle cx="456.7" cy="369.1" r="1.5"/><circle cx="456.7" cy="385.9" r="1.5"/><circle cx="456.7" cy="389.6" r="1.5"/><circle cx="456.7" cy="392.5" r="1.5"/><circle cx="456.7" cy="392.1" r="1.5"/><circle cx="456.7" cy="381.3" r="1.5"/><circle cx="456.7" cy="387.4" r="1.5"/><circle cx="456.7" cy="374.3" r="1.5"/><circle cx="456.7" cy="383" r="1.5"/><circle cx="456.7" cy="380.5" r="1.5"/><circle cx="456.7" cy="378.5" r="1.5"/><circle cx="456.7" cy="385.5" r="1.5"/><circle cx="456.7" cy="392.7" r="1.5"/><circle cx="456.7" cy="375.5" r="1.5"/><circle cx="456.7" cy="393.3" r="1.5"/><circle cx="456.7" cy="386.2" r="1.5"/><circle cx="456.7" cy="393" r="1.5"/><circle cx="456.7" cy="395.6" r="1.5"/><circle cx="456.7" cy="379.4" r="1.5"/><circle cx="456.7" cy="378.9" r="1.5"/><circle cx="456.7" cy="388.1" r="1.5"/><circle cx="456.7" cy="393.6" r="1.5"/><circle cx="456.7" cy="386.1" r="1.5"/><circle cx="456.7" cy="383.5" r="1.5"/><circle cx="456.7" cy="394.6" r="1.5"/><circle cx="456.7" cy="392.4" r="1.5"/><circle cx="456.7" cy="386.3" r="1.5"/><circle cx="456.7" cy="381.6" r="1.5"/><circle cx="459.5" cy="393.7" r="1.5"/><circle cx="459.5" cy="374.7" r="1.5"/><circle cx="459.5" cy="393.5" r="1.5"/><circle cx="459.5" cy="392.5" r="1.5"/><circle cx="459.5" cy="390.7" r="1.5"/><circle cx="459.5" cy="389.3" r="1.5"/><circle cx="459.5" cy="388.4" r="1.5"/><circle cx="459.5" cy="387.7" r="1.5"/><circle cx="459.5" cy="386.3" r="1.5"/><circle cx="459.5" cy="385.8" r="1.5"/><circle cx="459.5" cy="383.9" r="1.5"/><circle cx="459.5" cy="383.3" r="1.5"/><circle cx="459.5" cy="382.6" r="1.5"/><circle cx="459.5" cy="380.7" r="1.5"/><circle cx="459.5" cy="380.2" r="1.5"/><circle cx="459.5" cy="378.9" r="1.5"/><circle cx="459.5" cy="378" r="1.5"/><circle cx="459.5" cy="376.5" r="1.5"/><circle cx="459.5" cy="375.2" r="1.5"/><circle cx="459.5" cy="383.2" r="1.5"/><circle cx="459.5" cy="384.7" r="1.5"/><circle cx="459.5" cy="382.7" r="1.5"/><circle cx="459.5" cy="385.4" r="1.5"/><circle cx="459.5" cy="382.7" r="1.5"/><circle cx="459.5" cy="377.9" r="1.5"/><circle cx="459.5" cy="385.6" r="1.5"/><circle cx="459.5" cy="380.5" r="1.5"/><circle cx="459.5" cy="386.2" r="1.5"/><circle cx="459.5" cy="384.8" r="1.5"/><circle cx="459.5" cy="382.8" r="1.5"/><circle cx="459.5" cy="386.3" r="1.5"/><circle cx="459.5" cy="379.6" r="1.5"/><circle cx="459.5" cy="390" r="1.5"/><circle cx="459.5" cy="384.6" r="1.5"/><circle cx="459.5" cy="383.8" r="1.5"/><circle cx="459.5" cy="383.4" r="1.5"/><circle cx="459.5" cy="384.6" r="1.5"/><circle cx="459.5" cy="387.9" r="1.5"/><circle cx="459.5" cy="383.7" r="1.5"/><circle cx="459.5" cy="378.2" r="1.5"/><circle cx="459.5" cy="381.4" r="1.5"/><circle cx="457.3" cy="419.1" r="1.5"/><circle cx="476.3" cy="383.2" r="1.5"/><circle cx="476.3" cy="363.4" r="1.5"/><circle cx="476.3" cy="382.3" r="1.5"/><circle cx="476.3" cy="381.3" r="1.5"/><circle cx="476.3" cy="380.4" r="1.5"/><circle cx="476.3" cy="379.1" r="1.5"/><circle cx="476.3" cy="377.8" r="1.5"/><circle cx="476.3" cy="377.1" r="1.5"/><circle cx="476.3" cy="375.2" r="1.5"/><circle cx="476.3" cy="373.9" r="1.5"/><circle cx="476.3" cy="372.9" r="1.5"/><circle cx="476.3" cy="371.6" r="1.5"/><circle cx="476.3" cy="371.1" r="1.5"/><circle cx="476.3" cy="369.2" r="1.5"/><circle cx="476.3" cy="369.1" r="1.5"/><circle cx="476.3" cy="367.5" r="1.5"/><circle cx="476.3" cy="366.7" r="1.5"/><circle cx="476.3" cy="365.2" r="1.5"/><circle cx="476.3" cy="363.7" r="1.5"/><circle cx="476.3" cy="371.8" r="1.5"/><circle cx="476.3" cy="375.1" r="1.5"/><circle cx="476.3" cy="372.1" r="1.5"/><circle cx="476.3" cy="368.2" r="1.5"/><circle cx="476.3" cy="373.4" r="1.5"/><circle cx="476.3" cy="368.5" r="1.5"/><circle cx="476.3" cy="368.1" r="1.5"/><circle cx="476.3" cy="363.9" r="1.5"/><circle cx="476.3" cy="375.1" r="1.5"/><circle cx="476.3" cy="371" r="1.5"/><circle cx="476.3" cy="368.4" r="1.5"/><circle cx="476.3" cy="364.2" r="1.5"/><circle cx="476.3" cy="369.4" r="1.5"/><circle cx="476.3" cy="367.3" r="1.5"/><circle cx="476.3" cy="376.8" r="1.5"/><circle cx="476.3" cy="373" r="1.5"/><circle cx="476.3" cy="363.5" r="1.5"/><circle cx="476.3" cy="371.7" r="1.5"/><circle cx="476.3" cy="373.6" r="1.5"/><circle cx="476.3" cy="371.7" r="1.5"/><circle cx="476.3" cy="377.3" r="1.5"/><circle cx="476.3" cy="367.8" r="1.5"/><circle cx="476.3" cy="349.9" r="1.5"/><circle cx="476.3" cy="415.3" r="1.5"/><circle cx="476.3" cy="419.5" r="1.5"/><circle cx="483.9" cy="376.9" r="1.5"/><circle cx="483.9" cy="343.1" r="1.5"/><circle cx="483.9" cy="376.8" r="1.5"/><circle cx="483.9" cy="374" r="1.5"/><circle cx="483.9" cy="372.7" r="1.5"/><circle cx="483.9" cy="371.3" r="1.5"/><circle cx="483.9" cy="370.3" r="1.5"/><circle cx="483.9" cy="368.6" r="1.5"/><circle cx="483.9" cy="367.4" r="1.5"/><circle cx="483.9" cy="365.1" r="1.5"/><circle cx="483.9" cy="363.1" r="1.5"/><circle cx="483.9" cy="362.6" r="1.5"/><circle cx="483.9" cy="361.4" r="1.5"/><circle cx="483.9" cy="359.7" r="1.5"/><circle cx="483.9" cy="357.9" r="1.5"/><circle cx="483.9" cy="355.5" r="1.5"/><circle cx="483.9" cy="354.1" r="1.5"/><circle cx="483.9" cy="353.1" r="1.5"/><circle cx="483.9" cy="352.1" r="1.5"/><circle cx="483.9" cy="350.6" r="1.5"/><circle cx="483.9" cy="349" r="1.5"/><circle cx="483.9" cy="346.5" r="1.5"/><circle cx="483.9" cy="345.4" r="1.5"/><circle cx="483.9" cy="343.1" r="1.5"/><circle cx="483.9" cy="362.7" r="1.5"/><circle cx="483.9" cy="353.5" r="1.5"/><circle cx="483.9" cy="371.5" r="1.5"/><circle cx="483.9" cy="362.6" r="1.5"/><circle cx="483.9" cy="362.2" r="1.5"/><circle cx="483.9" cy="362.1" r="1.5"/><circle cx="483.9" cy="372.7" r="1.5"/><circle cx="483.9" cy="368" r="1.5"/><circle cx="483.9" cy="363.2" r="1.5"/><circle cx="483.9" cy="359.2" r="1.5"/><circle cx="483.9" cy="348.7" r="1.5"/><circle cx="483.9" cy="362.5" r="1.5"/><circle cx="483.9" cy="369" r="1.5"/><circle cx="483.9" cy="356.8" r="1.5"/><circle cx="483.9" cy="365.6" r="1.5"/><circle cx="483.9" cy="365.4" r="1.5"/><circle cx="483.9" cy="371.8" r="1.5"/><circle cx="483.9" cy="359.3" r="1.5"/><circle cx="483.9" cy="363.8" r="1.5"/><circle cx="483.9" cy="363.7" r="1.5"/><circle cx="483.9" cy="362.4" r="1.5"/><circle cx="483.9" cy="355.1" r="1.5"/><circle cx="483.9" cy="365.3" r="1.5"/><circle cx="483.9" cy="363.9" r="1.5"/><circle cx="483.9" cy="358.4" r="1.5"/><circle cx="483.9" cy="375.9" r="1.5"/><circle cx="483.9" cy="366.7" r="1.5"/><circle cx="483.9" cy="338.5" r="1.5"/><circle cx="483.9" cy="381.1" r="1.5"/><circle cx="483.9" cy="386.1" r="1.5"/><circle cx="504" cy="360" r="1.5"/><circle cx="504" cy="336.8" r="1.5"/><circle cx="504" cy="358.8" r="1.5"/><circle cx="504" cy="358" r="1.5"/><circle cx="504" cy="357.3" r="1.5"/><circle cx="504" cy="355.7" r="1.5"/><circle cx="504" cy="354" r="1.5"/><circle cx="504" cy="352.4" r="1.5"/><circle cx="504" cy="351.6" r="1.5"/><circle cx="504" cy="350.1" r="1.5"/><circle cx="504" cy="349.4" r="1.5"/><circle cx="504" cy="348.1" r="1.5"/><circle cx="504" cy="345.9" r="1.5"/><circle cx="504" cy="345.3" r="1.5"/><circle cx="504" cy="344.4" r="1.5"/><circle cx="504" cy="342.5" r="1.5"/><circle cx="504" cy="341.8" r="1.5"/><circle cx="504" cy="340.4" r="1.5"/><circle cx="504" cy="338.8" r="1.5"/><circle cx="504" cy="337.3" r="1.5"/><circle cx="504" cy="348.7" r="1.5"/><circle cx="504" cy="354.2" r="1.5"/><circle cx="504" cy="355" r="1.5"/><circle cx="504" cy="350.8" r="1.5"/><circle cx="504" cy="348.3" r="1.5"/><circle cx="504" cy="349.3" r="1.5"/><circle cx="504" cy="350.7" r="1.5"/><circle cx="504" cy="354" r="1.5"/><circle cx="504" cy="348.1" r="1.5"/><circle cx="504" cy="352.7" r="1.5"/><circle cx="504" cy="356.1" r="1.5"/><circle cx="504" cy="348.5" r="1.5"/><circle cx="504" cy="341.7" r="1.5"/><circle cx="504" cy="351" r="1.5"/><circle cx="504" cy="354.3" r="1.5"/><circle cx="504" cy="342.1" r="1.5"/><circle cx="504" cy="340.4" r="1.5"/><circle cx="504" cy="350.5" r="1.5"/><circle cx="504" cy="350.1" r="1.5"/><circle cx="504" cy="347.9" r="1.5"/><circle cx="504" cy="348.3" r="1.5"/><circle cx="504" cy="344" r="1.5"/><circle cx="504" cy="346.8" r="1.5"/><circle cx="504" cy="358.1" r="1.5"/><circle cx="504" cy="332.5" r="1.5"/><circle cx="504" cy="329.6" r="1.5"/><circle cx="504" cy="369.3" r="1.5"/><circle cx="520.3" cy="357.9" r="1.5"/><circle cx="520.3" cy="328.3" r="1.5"/><circle cx="520.3" cy="357" r="1.5"/><circle cx="520.3" cy="355.5" r="1.5"/><circle cx="520.3" cy="355.1" r="1.5"/><circle cx="520.3" cy="353.7" r="1.5"/><circle cx="520.3" cy="351.2" r="1.5"/><circle cx="520.3" cy="350.1" r="1.5"/><circle cx="520.3" cy="349.8" r="1.5"/><circle cx="520.3" cy="348.4" r="1.5"/><circle cx="520.3" cy="346.8" r="1.5"/><circle cx="520.3" cy="344.5" r="1.5"/><circle cx="520.3" cy="344.1" r="1.5"/><circle cx="520.3" cy="342.2" r="1.5"/><circle cx="520.3" cy="340.5" r="1.5"/><circle cx="520.3" cy="339.6" r="1.5"/><circle cx="520.3" cy="337.8" r="1.5"/><circle cx="520.3" cy="337.4" r="1.5"/><circle cx="520.3" cy="336.2" r="1.5"/><circle cx="520.3" cy="335" r="1.5"/><circle cx="520.3" cy="332.7" r="1.5"/><circle cx="520.3" cy="332.2" r="1.5"/><circle cx="520.3" cy="329.7" r="1.5"/><circle cx="520.3" cy="328.7" r="1.5"/><circle cx="520.3" cy="332.7" r="1.5"/><circle cx="520.3" cy="333.2" r="1.5"/><circle cx="520.3" cy="330.6" r="1.5"/><circle cx="520.3" cy="330.2" r="1.5"/><circle cx="520.3" cy="346.3" r="1.5"/><circle cx="520.3" cy="337" r="1.5"/><circle cx="520.3" cy="348.4" r="1.5"/><circle cx="520.3" cy="341.3" r="1.5"/><circle cx="520.3" cy="346.1" r="1.5"/><circle cx="520.3" cy="337.3" r="1.5"/><circle cx="520.3" cy="346.7" r="1.5"/><circle cx="520.3" cy="343.6" r="1.5"/><circle cx="520.3" cy="335.3" r="1.5"/><circle cx="520.3" cy="336.2" r="1.5"/><circle cx="520.3" cy="342.3" r="1.5"/><circle cx="520.3" cy="338.7" r="1.5"/><circle cx="520.3" cy="337.8" r="1.5"/><circle cx="520.3" cy="336.7" r="1.5"/><circle cx="520.3" cy="337.2" r="1.5"/><circle cx="520.3" cy="338.6" r="1.5"/><circle cx="520.3" cy="331.6" r="1.5"/><circle cx="520.3" cy="347.5" r="1.5"/><circle cx="520.3" cy="340.4" r="1.5"/><circle cx="520.3" cy="336.3" r="1.5"/><circle cx="520.3" cy="339.8" r="1.5"/><circle cx="520.3" cy="340.7" r="1.5"/><circle cx="520.3" cy="340" r="1.5"/><circle cx="520.3" cy="324.1" r="1.5"/><circle cx="520.3" cy="360" r="1.5"/><circle cx="520.3" cy="363.4" r="1.5"/><circle cx="524.6" cy="351.5" r="1.5"/><circle cx="524.6" cy="327.5" r="1.5"/><circle cx="524.6" cy="350.2" r="1.5"/><circle cx="524.6" cy="349.5" r="1.5"/><circle cx="524.6" cy="348.4" r="1.5"/><circle cx="524.6" cy="347.4" r="1.5"/><circle cx="524.6" cy="345.2" r="1.5"/><circle cx="524.6" cy="343.7" r="1.5"/><circle cx="524.6" cy="342.4" r="1.5"/><circle cx="524.6" cy="342" r="1.5"/><circle cx="524.6" cy="340.4" r="1.5"/><circle cx="524.6" cy="339.1" r="1.5"/><circle cx="524.6" cy="337.2" r="1.5"/><circle cx="524.6" cy="336.6" r="1.5"/><circle cx="524.6" cy="334.7" r="1.5"/><circle cx="524.6" cy="332.9" r="1.5"/><circle cx="524.6" cy="331.8" r="1.5"/><circle cx="524.6" cy="331.5" r="1.5"/><circle cx="524.6" cy="330.1" r="1.5"/><circle cx="524.6" cy="328.7" r="1.5"/><circle cx="524.6" cy="333.6" r="1.5"/><circle cx="524.6" cy="337.2" r="1.5"/><circle cx="524.6" cy="341.3" r="1.5"/><circle cx="524.6" cy="340.4" r="1.5"/><circle cx="524.6" cy="335.4" r="1.5"/><circle cx="524.6" cy="340.7" r="1.5"/><circle cx="524.6" cy="330.8" r="1.5"/><circle cx="524.6" cy="341.6" r="1.5"/><circle cx="524.6" cy="344.1" r="1.5"/><circle cx="524.6" cy="335.7" r="1.5"/><circle cx="524.6" cy="344" r="1.5"/><circle cx="524.6" cy="339.9" r="1.5"/><circle cx="524.6" cy="335" r="1.5"/><circle cx="524.6" cy="336" r="1.5"/><circle cx="524.6" cy="339" r="1.5"/><circle cx="524.6" cy="343.9" r="1.5"/><circle cx="524.6" cy="344.4" r="1.5"/><circle cx="524.6" cy="330.2" r="1.5"/><circle cx="524.6" cy="329.4" r="1.5"/><circle cx="524.6" cy="342.3" r="1.5"/><circle cx="524.6" cy="331.8" r="1.5"/><circle cx="524.6" cy="334.8" r="1.5"/><circle cx="524.6" cy="330.3" r="1.5"/><circle cx="524.6" cy="337.4" r="1.5"/><circle cx="524.6" cy="364.2" r="1.5"/><circle cx="524.6" cy="365" r="1.5"/><circle cx="524.6" cy="381.5" r="1.5"/><circle cx="524.6" cy="386.6" r="1.5"/><circle cx="524.6" cy="357.9" r="1.5"/><circle cx="524.6" cy="360" r="1.5"/></g>
<path class="d" d="M396.4 432.6L536.1 324.1"/>
<rect class="s" x="389.75" y="318.75" width="153.2" height="119.0"/>
<path class="tk" d="M411.1 437.8v1.9M438.3 437.8v1.9M465.4 437.8v1.9M492.6 437.8v1.9M519.8 437.8v1.9M389.8 421.2h-1.9M389.8 400.1h-1.9M389.8 379h-1.9M389.8 357.9h-1.9M389.8 336.8h-1.9"/>
<text class="k" text-anchor="middle" x="411.1" y="445.2">5</text>
<text class="k" text-anchor="middle" x="438.3" y="445.2">10</text>
<text class="k" text-anchor="middle" x="465.4" y="445.2">15</text>
<text class="k" text-anchor="middle" x="492.6" y="445.2">20</text>
<text class="k" text-anchor="middle" x="519.8" y="445.2">25</text>
<text class="k" text-anchor="end" x="386.9" y="423.2">5</text>
<text class="k" text-anchor="end" x="386.9" y="402.1">10</text>
<text class="k" text-anchor="end" x="386.9" y="381">15</text>
<text class="k" text-anchor="end" x="386.9" y="359.9">20</text>
<text class="k" text-anchor="end" x="386.9" y="338.8">25</text>
<text class="t" transform="translate(466.4 316.4) scale(1.016 1)">Construction dust: R² = 0.945</text>
<text class="l" transform="translate(466.4 453.6) scale(1.04 1)">True Values (%)</text>
<text class="l" transform="translate(376.9 378.2) rotate(-90) scale(1.04 1)">Predicted Values (%)</text>
</g>
<g>
<g class="p"><circle cx="40" cy="585.9" r="1.5"/><circle cx="40" cy="552.2" r="1.5"/><circle cx="40" cy="585.8" r="1.5"/><circle cx="40" cy="584.2" r="1.5"/><circle cx="40" cy="582.4" r="1.5"/><circle cx="40" cy="581.6" r="1.5"/><circle cx="40" cy="580.2" r="1.5"/><circle cx="40" cy="579.2" r="1.5"/><circle cx="40" cy="577.9" r="1.5"/><circle cx="40" cy="576.6" r="1.5"/><circle cx="40" cy="575.7" r="1.5"/><circle cx="40" cy="575.1" r="1.5"/><circle cx="40" cy="574" r="1.5"/><circle cx="40" cy="572.6" r="1.5"/><circle cx="40" cy="571.9" r="1.5"/><circle cx="40" cy="570.5" r="1.5"/><circle cx="40" cy="568.6" r="1.5"/><circle cx="40" cy="567.4" r="1.5"/><circle cx="40" cy="566.9" r="1.5"/><circle cx="40" cy="565.2" r="1.5"/><circle cx="40" cy="564.1" r="1.5"/><circle cx="40" cy="562.8" r="1.5"/><circle cx="40" cy="561.7" r="1.5"/><circle cx="40" cy="560.8" r="1.5"/><circle cx="40" cy="560.2" r="1.5"/><circle cx="40" cy="558.2" r="1.5"/><circle cx="40" cy="557.6" r="1.5"/><circle cx="40" cy="556.1" r="1.5"/><circle cx="40" cy="555.2" r="1.5"/><circle cx="40" cy="553.9" r="1.5"/><circle cx="40" cy="552.2" r="1.5"/><circle cx="40" cy="570.5" r="1.5"/><circle cx="40" cy="571" r="1.5"/><circle cx="40" cy="568.1" r="1.5"/><circle cx="40" cy="581.1" r="1.5"/><circle cx="40" cy="583.1" r="1.5"/><circle cx="40" cy="568.8" r="1.5"/><circle cx="40" cy="578.6" r="1.5"/><circle cx="40" cy="566.2" r="1.5"/><circle cx="40" cy="581.6" r="1.5"/><circle cx="40" cy="572.7" r="1.5"/><circle cx="40" cy="576.4" r="1.5"/><circle cx="40" cy="574.4" r="1.5"/><circle cx="40" cy="569.9" r="1.5"/><circle cx="40" cy="574.8" r="1.5"/><circle cx="40" cy="576.4" r="1.5"/><circle cx="40" cy="576.5" r="1.5"/><circle cx="40" cy="564.2" r="1.5"/><circle cx="40" cy="571.2" r="1.5"/><circle cx="40" cy="576.1" r="1.5"/><circle cx="40" cy="571.5" r="1.5"/><circle cx="40" cy="580.2" r="1.5"/><circle cx="40" cy="575.7" r="1.5"/><circle cx="40" cy="581.3" r="1.5"/><circle cx="40" cy="575.8" r="1.5"/><circle cx="40" cy="574" r="1.5"/><circle cx="40" cy="577.6" r="1.5"/><circle cx="40" cy="580.5" r="1.5"/><circle cx="40" cy="576.9" r="1.5"/><circle cx="40" cy="556.9" r="1.5"/><circle cx="40" cy="581.9" r="1.5"/><circle cx="40" cy="583.5" r="1.5"/><circle cx="40" cy="581.3" r="1.5"/><circle cx="40" cy="584" r="1.5"/><circle cx="40" cy="577.9" r="1.5"/><circle cx="40" cy="581.6" r="1.5"/><circle cx="40" cy="573.3" r="1.5"/><circle cx="40" cy="574.7" r="1.5"/><circle cx="40" cy="544.4" r="1.5"/><circle cx="40" cy="542.2" r="1.5"/><circle cx="40" cy="540" r="1.5"/><circle cx="40" cy="524.5" r="1.5"/><circle cx="40" cy="511.8" r="1.5"/><circle cx="40" cy="498" r="1.5"/><circle cx="47.1" cy="577.6" r="1.5"/><circle cx="47.1" cy="562.1" r="1.5"/><circle cx="47.1" cy="577.6" r="1.5"/><circle cx="47.1" cy="575.7" r="1.5"/><circle cx="47.1" cy="574.6" r="1.5"/><circle cx="47.1" cy="573.2" r="1.5"/><circle cx="47.1" cy="571.3" r="1.5"/><circle cx="47.1" cy="569.2" r="1.5"/><circle cx="47.1" cy="568.2" r="1.5"/><circle cx="47.1" cy="567.4" r="1.5"/><circle cx="47.1" cy="565.3" r="1.5"/><circle cx="47.1" cy="564.7" r="1.5"/><circle cx="47.1" cy="563.4" r="1.5"/><circle cx="47.1" cy="573.2" r="1.5"/><circle cx="47.1" cy="568.8" r="1.5"/><circle cx="47.1" cy="573.4" r="1.5"/><circle cx="47.1" cy="575.5" r="1.5"/><circle cx="47.1" cy="572.3" r="1.5"/><circle cx="47.1" cy="573.6" r="1.5"/><circle cx="47.1" cy="569.3" r="1.5"/><circle cx="47.1" cy="573.3" r="1.5"/><circle cx="47.1" cy="571.7" r="1.5"/><circle cx="47.1" cy="572.8" r="1.5"/><circle cx="47.1" cy="570.9" r="1.5"/><circle cx="47.1" cy="574.2" r="1.5"/><circle cx="47.1" cy="568.3" r="1.5"/><circle cx="47.1" cy="576.9" r="1.5"/><circle cx="47.1" cy="573.4" r="1.5"/><circle cx="52.8" cy="575.4" r="1.5"/><circle cx="52.8" cy="561" r="1.5"/><circle cx="52.8" cy="575.4" r="1.5"/><circle cx="52.8" cy="573.8" r="1.5"/><circle cx="52.8" cy="571.6" r="1.5"/><circle cx="52.8" cy="571.3" r="1.5"/><circle cx="52.8" cy="569.3" r="1.5"/><circle cx="52.8" cy="568.1" r="1.5"/><circle cx="52.8" cy="566.7" r="1.5"/><circle cx="52.8" cy="566" r="1.5"/><circle cx="52.8" cy="564.7" r="1.5"/><circle cx="52.8" cy="563.5" r="1.5"/><circle cx="52.8" cy="561" r="1.5"/><circle cx="52.8" cy="569.9" r="1.5"/><circle cx="52.8" cy="571" r="1.5"/><circle cx="52.8" cy="564.6" r="1.5"/><circle cx="52.8" cy="569.7" r="1.5"/><circle cx="52.8" cy="568.6" r="1.5"/><circle cx="52.8" cy="567.1" r="1.5"/><circle cx="52.8" cy="567.4" r="1.5"/><circle cx="52.8" cy="566.7" r="1.5"/><circle cx="52.8" cy="569" r="1.5"/><circle cx="52.8" cy="564.8" r="1.5"/><circle cx="52.8" cy="568.3" r="1.5"/><circle cx="52.8" cy="567.9" r="1.5"/><circle cx="52.8" cy="569.3" r="1.5"/><circle cx="52.8" cy="567.1" r="1.5"/><circle cx="52.8" cy="570" r="1.5"/><circle cx="52.8" cy="579.8" r="1.5"/><circle cx="52.8" cy="551.1" r="1.5"/><circle cx="54.3" cy="575.4" r="1.5"/><circle cx="54.3" cy="559.9" r="1.5"/><circle cx="54.3" cy="574.9" r="1.5"/><circle cx="54.3" cy="573.2" r="1.5"/><circle cx="54.3" cy="572.4" r="1.5"/><circle cx="54.3" cy="570.8" r="1.5"/><circle cx="54.3" cy="568.6" r="1.5"/><circle cx="54.3" cy="567.9" r="1.5"/><circle cx="54.3" cy="566.4" r="1.5"/><circle cx="54.3" cy="564.5" r="1.5"/><circle cx="54.3" cy="563.8" r="1.5"/><circle cx="54.3" cy="562.4" r="1.5"/><circle cx="54.3" cy="561" r="1.5"/><circle cx="54.3" cy="568.9" r="1.5"/><circle cx="54.3" cy="564.4" r="1.5"/><circle cx="54.3" cy="568.9" r="1.5"/><circle cx="54.3" cy="569.5" r="1.5"/><circle cx="54.3" cy="565.8" r="1.5"/><circle cx="54.3" cy="567.3" r="1.5"/><circle cx="54.3" cy="569.8" r="1.5"/><circle cx="54.3" cy="572" r="1.5"/><circle cx="54.3" cy="566.5" r="1.5"/><circle cx="54.3" cy="565.7" r="1.5"/><circle cx="54.3" cy="568.1" r="1.5"/><circle cx="54.3" cy="565.9" r="1.5"/><circle cx="54.3" cy="571.7" r="1.5"/><circle cx="54.3" cy="565.2" r="1.5"/><circle cx="54.3" cy="565.1" r="1.5"/><circle cx="54.3" cy="549.4" r="1.5"/><circle cx="59.9" cy="573.2" r="1.5"/><circle cx="59.9" cy="557.7" r="1.5"/><circle cx="59.9" cy="572.5" r="1.5"/><circle cx="59.9" cy="571.5" r="1.5"/><circle cx="59.9" cy="570" r="1.5"/><circle cx="59.9" cy="568.3" r="1.5"/><circle cx="59.9" cy="567.4" r="1.5"/><circle cx="59.9" cy="566" r="1.5"/><circle cx="59.9" cy="564.2" r="1.5"/><circle cx="59.9" cy="562.7" r="1.5"/><circle cx="59.9" cy="560.6" r="1.5"/><circle cx="59.9" cy="559.7" r="1.5"/><circle cx="59.9" cy="559" r="1.5"/><circle cx="59.9" cy="561.4" r="1.5"/><circle cx="59.9" cy="561.4" r="1.5"/><circle cx="59.9" cy="568.6" r="1.5"/><circle cx="59.9" cy="565" r="1.5"/><circle cx="59.9" cy="563.9" r="1.5"/><circle cx="59.9" cy="564.8" r="1.5"/><circle cx="59.9" cy="562.7" r="1.5"/><circle cx="59.9" cy="559.1" r="1.5"/><circle cx="59.9" cy="562" r="1.5"/><circle cx="59.9" cy="561" r="1.5"/><circle cx="59.9" cy="563.1" r="1.5"/><circle cx="59.9" cy="567.6" r="1.5"/><circle cx="59.9" cy="561" r="1.5"/><circle cx="59.9" cy="559" r="1.5"/><circle cx="59.9" cy="560.7" r="1.5"/><circle cx="59.9" cy="580.9" r="1.5"/><circle cx="91.3" cy="542.2" r="1.5"/><circle cx="91.3" cy="522.3" r="1.5"/><circle cx="91.3" cy="541.7" r="1.5"/><circle cx="91.3" cy="540.4" r="1.5"/><circle cx="91.3" cy="538.1" r="1.5"/><circle cx="91.3" cy="537.1" r="1.5"/><circle cx="91.3" cy="535.9" r="1.5"/><circle cx="91.3" cy="533" r="1.5"/><circle cx="91.3" cy="532.3" r="1.5"/><circle cx="91.3" cy="531.2" r="1.5"/><circle cx="91.3" cy="529.9" r="1.5"/><circle cx="91.3" cy="527.4" r="1.5"/><circle cx="91.3" cy="526.1" r="1.5"/><circle cx="91.3" cy="525.3" r="1.5"/><circle cx="91.3" cy="523.1" r="1.5"/><circle cx="91.3" cy="536.6" r="1.5"/><circle cx="91.3" cy="541.6" r="1.5"/><circle cx="91.3" cy="535.7" r="1.5"/><circle cx="91.3" cy="531.2" r="1.5"/><circle cx="91.3" cy="541.2" r="1.5"/><circle cx="91.3" cy="540.1" r="1.5"/><circle cx="91.3" cy="531.4" r="1.5"/><circle cx="91.3" cy="530.1" r="1.5"/><circle cx="91.3" cy="529.5" r="1.5"/><circle cx="91.3" cy="538.6" r="1.5"/><circle cx="91.3" cy="533.6" r="1.5"/><circle cx="91.3" cy="539.5" r="1.5"/><circle cx="91.3" cy="534" r="1.5"/><circle cx="91.3" cy="537.8" r="1.5"/><circle cx="91.3" cy="535.4" r="1.5"/><circle cx="91.3" cy="530.5" r="1.5"/><circle cx="91.3" cy="517.9" r="1.5"/><circle cx="91.3" cy="516.8" r="1.5"/><circle cx="91.3" cy="512.3" r="1.5"/><circle cx="91.3" cy="509" r="1.5"/><circle cx="91.3" cy="507.9" r="1.5"/><circle cx="91.3" cy="545.5" r="1.5"/><circle cx="91.3" cy="559.3" r="1.5"/><circle cx="114" cy="538.9" r="1.5"/><circle cx="114" cy="515.7" r="1.5"/><circle cx="114" cy="537.6" r="1.5"/><circle cx="114" cy="537.3" r="1.5"/><circle cx="114" cy="535.7" r="1.5"/><circle cx="114" cy="534.5" r="1.5"/><circle cx="114" cy="532.4" r="1.5"/><circle cx="114" cy="531.4" r="1.5"/><circle cx="114" cy="529.9" r="1.5"/><circle cx="114" cy="527.6" r="1.5"/><circle cx="114" cy="526.4" r="1.5"/><circle cx="114" cy="524.5" r="1.5"/><circle cx="114" cy="523.8" r="1.5"/><circle cx="114" cy="521.9" r="1.5"/><circle cx="114" cy="521.5" r="1.5"/><circle cx="114" cy="518.6" r="1.5"/><circle cx="114" cy="518.2" r="1.5"/><circle cx="114" cy="516.4" r="1.5"/><circle cx="114" cy="534.9" r="1.5"/><circle cx="114" cy="523.5" r="1.5"/><circle cx="114" cy="538.3" r="1.5"/><circle cx="114" cy="521.9" r="1.5"/><circle cx="114" cy="525.2" r="1.5"/><circle cx="114" cy="525.1" r="1.5"/><circle cx="114" cy="520.9" r="1.5"/><circle cx="114" cy="525.6" r="1.5"/><circle cx="114" cy="517.1" r="1.5"/><circle cx="114" cy="522.6" r="1.5"/><circle cx="114" cy="520.7" r="1.5"/><circle cx="114" cy="524.9" r="1.5"/><circle cx="114" cy="518" r="1.5"/><circle cx="114" cy="526.8" r="1.5"/><circle cx="114" cy="516.4" r="1.5"/><circle cx="114" cy="517.8" r="1.5"/><circle cx="114" cy="521.9" r="1.5"/><circle cx="114" cy="517.7" r="1.5"/><circle cx="114" cy="515.7" r="1.5"/><circle cx="114" cy="522.6" r="1.5"/><circle cx="114" cy="511.2" r="1.5"/><circle cx="114" cy="509" r="1.5"/><circle cx="114" cy="505.7" r="1.5"/><circle cx="114" cy="500.2" r="1.5"/><circle cx="114" cy="546.6" r="1.5"/><circle cx="114" cy="551.1" r="1.5"/><circle cx="114" cy="566" r="1.5"/><circle cx="114" cy="570.4" r="1.5"/><circle cx="118.3" cy="538.9" r="1.5"/><circle cx="118.3" cy="512.3" r="1.5"/><circle cx="118.3" cy="538.5" r="1.5"/><circle cx="118.3" cy="536.6" r="1.5"/><circle cx="118.3" cy="534.9" r="1.5"/><circle cx="118.3" cy="533.1" r="1.5"/><circle cx="118.3" cy="532.4" r="1.5"/><circle cx="118.3" cy="530.7" r="1.5"/><circle cx="118.3" cy="529.3" r="1.5"/><circle cx="118.3" cy="526.5" r="1.5"/><circle cx="118.3" cy="526.2" r="1.5"/><circle cx="118.3" cy="524.6" r="1.5"/><circle cx="118.3" cy="522.5" r="1.5"/><circle cx="118.3" cy="520.8" r="1.5"/><circle cx="118.3" cy="518.8" r="1.5"/><circle cx="118.3" cy="518.5" r="1.5"/><circle cx="118.3" cy="516.7" r="1.5"/><circle cx="118.3" cy="515.2" r="1.5"/><circle cx="118.3" cy="513" r="1.5"/><circle cx="118.3" cy="526" r="1.5"/><circle cx="118.3" cy="518.6" r="1.5"/><circle cx="118.3" cy="513.8" r="1.5"/><circle cx="118.3" cy="525.8" r="1.5"/><circle cx="118.3" cy="531.4" r="1.5"/><circle cx="118.3" cy="521.9" r="1.5"/><circle cx="118.3" cy="521.9" r="1.5"/><circle cx="118.3" cy="519.3" r="1.5"/><circle cx="118.3" cy="518" r="1.5"/><circle cx="118.3" cy="521.7" r="1.5"/><circle cx="118.3" cy="515.6" r="1.5"/><circle cx="118.3" cy="519.8" r="1.5"/><circle cx="118.3" cy="524" r="1.5"/><circle cx="118.3" cy="516.2" r="1.5"/><circle cx="118.3" cy="524.7" r="1.5"/><circle cx="118.3" cy="531.3" r="1.5"/><circle cx="118.3" cy="522.4" r="1.5"/><circle cx="118.3" cy="517.4" r="1.5"/><circle cx="118.3" cy="528.2" r="1.5"/><circle cx="118.3" cy="523.2" r="1.5"/><circle cx="118.3" cy="520.5" r="1.5"/><circle cx="118.3" cy="520" r="1.5"/><circle cx="118.3" cy="507.9" r="1.5"/><circle cx="118.3" cy="552.2" r="1.5"/><circle cx="118.3" cy="568.7" r="1.5"/><circle cx="118.3" cy="570.4" r="1.5"/><circle cx="158.2" cy="500.2" r="1.5"/><circle cx="158.2" cy="478.1" r="1.5"/><circle cx="158.2" cy="499.4" r="1.5"/><circle cx="158.2" cy="497.7" r="1.5"/><circle cx="158.2" cy="496.2" r="1.5"/><circle cx="158.2" cy="494.7" r="1.5"/><circle cx="158.2" cy="494.4" r="1.5"/><circle cx="158.2" cy="493.2" r="1.5"/><circle cx="158.2" cy="490.6" r="1.5"/><circle cx="158.2" cy="489.7" r="1.5"/><circle cx="158.2" cy="488.9" r="1.5"/><circle cx="158.2" cy="486.8" r="1.5"/><circle cx="158.2" cy="486" r="1.5"/><circle cx="158.2" cy="484.6" r="1.5"/><circle cx="158.2" cy="483.1" r="1.5"/><circle cx="158.2" cy="481.5" r="1.5"/><circle cx="158.2" cy="479.9" r="1.5"/><circle cx="158.2" cy="479.3" r="1.5"/><circle cx="158.2" cy="478.8" r="1.5"/><circle cx="158.2" cy="486.2" r="1.5"/><circle cx="158.2" cy="492.5" r="1.5"/><circle cx="158.2" cy="492.9" r="1.5"/><circle cx="158.2" cy="484.5" r="1.5"/><circle cx="158.2" cy="485.6" r="1.5"/><circle cx="158.2" cy="486.4" r="1.5"/><circle cx="158.2" cy="493" r="1.5"/><circle cx="158.2" cy="484.7" r="1.5"/><circle cx="158.2" cy="487.6" r="1.5"/><circle cx="158.2" cy="492.5" r="1.5"/><circle cx="158.2" cy="480.7" r="1.5"/><circle cx="158.2" cy="485" r="1.5"/><circle cx="158.2" cy="489.2" r="1.5"/><circle cx="158.2" cy="496.8" r="1.5"/><circle cx="158.2" cy="480.7" r="1.5"/><circle cx="158.2" cy="484.5" r="1.5"/><circle cx="158.2" cy="481" r="1.5"/><circle cx="158.2" cy="488.3" r="1.5"/><circle cx="158.2" cy="484.9" r="1.5"/><circle cx="158.2" cy="511.2" r="1.5"/><circle cx="158.2" cy="500.2" r="1.5"/><circle cx="158.2" cy="509.3" r="1.5"/><circle cx="158.2" cy="502" r="1.5"/><circle cx="158.2" cy="503.4" r="1.5"/><circle cx="158.2" cy="504.7" r="1.5"/><circle cx="158.2" cy="527.8" r="1.5"/><circle cx="158.2" cy="511.2" r="1.5"/><circle cx="158.2" cy="526" r="1.5"/><circle cx="158.2" cy="517.8" r="1.5"/><circle cx="158.2" cy="516.3" r="1.5"/><circle cx="158.2" cy="515.2" r="1.5"/><circle cx="158.2" cy="513.8" r="1.5"/><circle cx="158.2" cy="513.4" r="1.5"/><circle cx="158.2" cy="548.8" r="1.5"/><circle cx="158.2" cy="561" r="1.5"/></g>
<path class="d" d="M29.3 585.9L168.2 478.1"/>
<rect class="s" x="22.5" y="472.2" width="153.2" height="119.0"/>
<path class="tk" d="M40 591.2v1.9M68.5 591.2v1.9M97 591.2v1.9M125.4 591.2v1.9M153.9 591.2v1.9M22.5 577.6h-1.9M22.5 555.5h-1.9M22.5 533.4h-1.9M22.5 511.2h-1.9M22.5 489.1h-1.9"/>
<text class="k" text-anchor="middle" x="40" y="598.7">0</text>
<text class="k" text-anchor="middle" x="68.5" y="598.7">2</text>
<text class="k" text-anchor="middle" x="97" y="598.7">4</text>
<text class="k" text-anchor="middle" x="125.4" y="598.7">6</text>
<text class="k" text-anchor="middle" x="153.9" y="598.7">8</text>
<text class="k" text-anchor="end" x="19.6" y="579.6">0</text>
<text class="k" text-anchor="end" x="19.6" y="557.5">2</text>
<text class="k" text-anchor="end" x="19.6" y="535.4">4</text>
<text class="k" text-anchor="end" x="19.6" y="513.2">6</text>
<text class="k" text-anchor="end" x="19.6" y="491.1">8</text>
<text class="t" transform="translate(99.1 469.9) scale(1.016 1)">Other: R² = 0.855</text>
<text class="l" transform="translate(99.1 607) scale(1.04 1)">True Values (%)</text>
<text class="l" transform="translate(12.8 531.7) rotate(-90) scale(1.04 1)">Predicted Values (%)</text>
</g>
</svg></body></html>
